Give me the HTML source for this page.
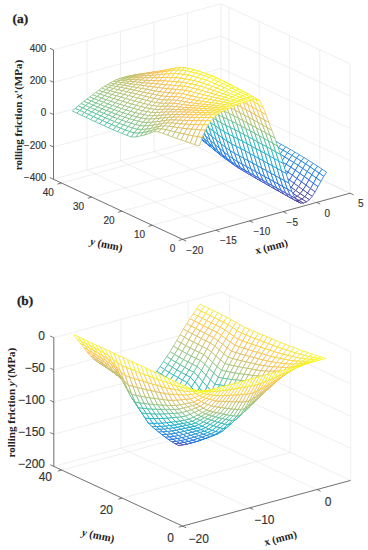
<!DOCTYPE html>
<html><head><meta charset="utf-8"><style>
html,body{margin:0;padding:0;background:#fff;width:368px;height:550px;overflow:hidden}
svg{display:block}
.t{font-family:"Liberation Sans",sans-serif;font-size:10px;fill:#333;stroke:#333;stroke-width:0.15px}
.s{font-family:"Liberation Serif",serif;font-weight:bold;fill:#222}
</style></head><body>
<svg width="368" height="550" viewBox="0 0 368 550">
<path d="M182.6 239.4L53.5 179.3M216.1 230.2L87 170.1M249.6 220.9L120.5 160.9M283.1 211.7L154 151.6M316.6 202.4L187.5 142.4M350.1 193.2L221 133.1M182.6 239.4L350.1 193.2M152.3 225.3L319.8 179.1M122 211.2L289.5 165M91.7 197.1L259.2 150.9M61.4 183L228.9 136.8M53.5 179.3L53.5 49.9M87 170.1L87 40.7M120.5 160.9L120.5 31.5M154 151.6L154 22.2M187.5 142.4L187.5 13M221 133.1L221 3.7M53.5 179.3L221 133.1M53.5 147L221 100.8M53.5 114.6L221 68.4M53.5 82.3L221 36.1M53.5 49.9L221 3.7M350.1 193.2L350.1 63.8M319.8 179.1L319.8 49.7M289.5 165L289.5 35.6M259.2 150.9L259.2 21.5M228.9 136.8L228.9 7.4M350.1 193.2L221 133.1M350.1 160.8L221 100.8M350.1 128.5L221 68.4M350.1 96.1L221 36.1M350.1 63.8L221 3.7" stroke="#e6e6e6" stroke-width="0.65" fill="none"/>
<path d="M182.6 526.1L53.8 466.4M249.8 507.8L121 448.1M317 489.5L188.2 429.9M182.6 526.1L350.6 480.4M122.1 498.1L290.1 452.4M61.7 470.1L229.7 424.4M53.8 466.4L53.8 337.7M121 448.1L121 319.4M188.2 429.9L188.2 301.2M53.8 466.4L221.8 420.7M53.8 434.2L221.8 388.5M53.8 402.1L221.8 356.4M53.8 369.9L221.8 324.2M53.8 337.7L221.8 292M350.6 480.4L350.6 351.7M290.1 452.4L290.1 323.7M229.7 424.4L229.7 295.7M350.6 480.4L221.8 420.7M350.6 448.2L221.8 388.5M350.6 416.1L221.8 356.4M350.6 383.9L221.8 324.2M350.6 351.7L221.8 292" stroke="#e6e6e6" stroke-width="0.65" fill="none"/>
<g fill="#fff" stroke-width="0.75" stroke-linejoin="round">
<path d="M201.3 106.9L204.2 104.4 199.7 102.3 196.8 104.8Z" stroke="#108ed2"/>
<path d="M198.4 110L201.3 106.9 196.8 104.8 193.9 107.9Z" stroke="#1389d2"/>
<path d="M195.5 113.4L198.4 110 193.9 107.9 191 111.3Z" stroke="#1484d3"/>
<path d="M192.7 116.9L195.5 113.4 191 111.3 188.1 114.8Z" stroke="#127cd7"/>
<path d="M189.8 120.3L192.7 116.9 188.1 114.8 185.2 118.1Z" stroke="#1078da"/>
<path d="M205.9 109.2L208.8 106.6 204.2 104.4 201.3 106.9Z" stroke="#108ed2"/>
<path d="M186.9 123.1L189.8 120.3 185.2 118.1 182.3 120.8Z" stroke="#0c74dc"/>
<path d="M203 112.3L205.9 109.2 201.3 106.9 198.4 110Z" stroke="#1389d2"/>
<path d="M184 124.8L186.9 123.1 182.3 120.8 179.4 122.3Z" stroke="#0870de"/>
<path d="M200.1 115.7L203 112.3 198.4 110 195.5 113.4Z" stroke="#1484d3"/>
<path d="M197.2 119.3L200.1 115.7 195.5 113.4 192.7 116.9Z" stroke="#127cd7"/>
<path d="M181.1 124.7L184 124.8 179.4 122.3 176.5 122.1Z" stroke="#0870de"/>
<path d="M194.3 122.7L197.2 119.3 192.7 116.9 189.8 120.3Z" stroke="#1078da"/>
<path d="M210.4 111.4L213.3 108.8 208.8 106.6 205.9 109.2Z" stroke="#108ed2"/>
<path d="M191.4 125.6L194.3 122.7 189.8 120.3 186.9 123.1Z" stroke="#0c74dc"/>
<path d="M207.5 114.6L210.4 111.4 205.9 109.2 203 112.3Z" stroke="#1389d2"/>
<path d="M178.2 122.9L181.1 124.7 176.5 122.1 173.7 120.2Z" stroke="#0c74dc"/>
<path d="M188.5 127.5L191.4 125.6 186.9 123.1 184 124.8Z" stroke="#0870de"/>
<path d="M204.6 118.1L207.5 114.6 203 112.3 200.1 115.7Z" stroke="#1484d3"/>
<path d="M201.7 121.7L204.6 118.1 200.1 115.7 197.2 119.3Z" stroke="#127cd7"/>
<path d="M185.6 127.6L188.5 127.5 184 124.8 181.1 124.7Z" stroke="#0870de"/>
<path d="M198.8 125.3L201.7 121.7 197.2 119.3 194.3 122.7Z" stroke="#1078da"/>
<path d="M175.3 119.6L178.2 122.9 173.7 120.2 170.8 117Z" stroke="#127cd7"/>
<path d="M214.9 113.7L217.8 111.1 213.3 108.8 210.4 111.4Z" stroke="#108ed2"/>
<path d="M195.9 128.3L198.8 125.3 194.3 122.7 191.4 125.6Z" stroke="#0870de"/>
<path d="M182.7 125.8L185.6 127.6 181.1 124.7 178.2 122.9Z" stroke="#0c74dc"/>
<path d="M212 116.9L214.9 113.7 210.4 111.4 207.5 114.6Z" stroke="#1389d2"/>
<path d="M193 130.3L195.9 128.3 191.4 125.6 188.5 127.5Z" stroke="#0870de"/>
<path d="M209.2 120.5L212 116.9 207.5 114.6 204.6 118.1Z" stroke="#1380d5"/>
<path d="M172.4 115.5L175.3 119.6 170.8 117 167.9 113.2Z" stroke="#1484d3"/>
<path d="M206.3 124.2L209.2 120.5 204.6 118.1 201.7 121.7Z" stroke="#127cd7"/>
<path d="M190.2 130.6L193 130.3 188.5 127.5 185.6 127.6Z" stroke="#046ce0"/>
<path d="M203.4 127.8L206.3 124.2 201.7 121.7 198.8 125.3Z" stroke="#1078da"/>
<path d="M179.8 122.4L182.7 125.8 178.2 122.9 175.3 119.6Z" stroke="#1078da"/>
<path d="M219.5 116L222.4 113.3 217.8 111.1 214.9 113.7Z" stroke="#108ed2"/>
<path d="M200.5 131L203.4 127.8 198.8 125.3 195.9 128.3Z" stroke="#0870de"/>
<path d="M187.3 128.9L190.2 130.6 185.6 127.6 182.7 125.8Z" stroke="#0870de"/>
<path d="M216.6 119.3L219.5 116 214.9 113.7 212 116.9Z" stroke="#1389d2"/>
<path d="M197.6 133.2L200.5 131 195.9 128.3 193 130.3Z" stroke="#046ce0"/>
<path d="M169.5 111.3L172.4 115.5 167.9 113.2 165 109.3Z" stroke="#0c93d1"/>
<path d="M213.7 122.9L216.6 119.3 212 116.9 209.2 120.5Z" stroke="#1380d5"/>
<path d="M176.9 118.1L179.8 122.4 175.3 119.6 172.4 115.5Z" stroke="#1484d3"/>
<path d="M210.8 126.7L213.7 122.9 209.2 120.5 206.3 124.2Z" stroke="#127cd7"/>
<path d="M194.7 133.7L197.6 133.2 193 130.3 190.2 130.6Z" stroke="#046ce0"/>
<path d="M207.9 130.4L210.8 126.7 206.3 124.2 203.4 127.8Z" stroke="#0c74dc"/>
<path d="M184.4 125.4L187.3 128.9 182.7 125.8 179.8 122.4Z" stroke="#1078da"/>
<path d="M205 133.7L207.9 130.4 203.4 127.8 200.5 131Z" stroke="#0870de"/>
<path d="M224 118.3L226.9 115.6 222.4 113.3 219.5 116Z" stroke="#108ed2"/>
<path d="M166.6 107.3L169.5 111.3 165 109.3 162.1 105.6Z" stroke="#069ccf"/>
<path d="M191.8 132.1L194.7 133.7 190.2 130.6 187.3 128.9Z" stroke="#0870de"/>
<path d="M221.1 121.6L224 118.3 219.5 116 216.6 119.3Z" stroke="#1389d2"/>
<path d="M202.1 136.1L205 133.7 200.5 131 197.6 133.2Z" stroke="#046ce0"/>
<path d="M174 113.6L176.9 118.1 172.4 115.5 169.5 111.3Z" stroke="#0c93d1"/>
<path d="M218.2 125.3L221.1 121.6 216.6 119.3 213.7 122.9Z" stroke="#1380d5"/>
<path d="M181.5 120.8L184.4 125.4 179.8 122.4 176.9 118.1Z" stroke="#1484d3"/>
<path d="M199.2 136.9L202.1 136.1 197.6 133.2 194.7 133.7Z" stroke="#0168e1"/>
<path d="M215.3 129.2L218.2 125.3 213.7 122.9 210.8 126.7Z" stroke="#127cd7"/>
<path d="M163.7 103.5L166.6 107.3 162.1 105.6 159.2 102.1Z" stroke="#05a6c6"/>
<path d="M188.9 128.6L191.8 132.1 187.3 128.9 184.4 125.4Z" stroke="#1078da"/>
<path d="M212.4 133L215.3 129.2 210.8 126.7 207.9 130.4Z" stroke="#0c74dc"/>
<path d="M209.5 136.4L212.4 133 207.9 130.4 205 133.7Z" stroke="#0870de"/>
<path d="M228.5 120.7L231.4 117.9 226.9 115.6 224 118.3Z" stroke="#108ed2"/>
<path d="M171.1 109.2L174 113.6 169.5 111.3 166.6 107.3Z" stroke="#069ccf"/>
<path d="M196.3 135.4L199.2 136.9 194.7 133.7 191.8 132.1Z" stroke="#046ce0"/>
<path d="M206.6 139L209.5 136.4 205 133.7 202.1 136.1Z" stroke="#0168e1"/>
<path d="M225.6 124L228.5 120.7 224 118.3 221.1 121.6Z" stroke="#1484d3"/>
<path d="M178.6 116L181.5 120.8 176.9 118.1 174 113.6Z" stroke="#108ed2"/>
<path d="M222.8 127.8L225.6 124 221.1 121.6 218.2 125.3Z" stroke="#1380d5"/>
<path d="M160.8 100L163.7 103.5 159.2 102.1 156.3 98.9Z" stroke="#09abbd"/>
<path d="M186 123.8L188.9 128.6 184.4 125.4 181.5 120.8Z" stroke="#1380d5"/>
<path d="M203.8 140.1L206.6 139 202.1 136.1 199.2 136.9Z" stroke="#0168e1"/>
<path d="M219.9 131.7L222.8 127.8 218.2 125.3 215.3 129.2Z" stroke="#1078da"/>
<path d="M193.4 131.9L196.3 135.4 191.8 132.1 188.9 128.6Z" stroke="#0c74dc"/>
<path d="M217 135.6L219.9 131.7 215.3 129.2 212.4 133Z" stroke="#0c74dc"/>
<path d="M168.3 105L171.1 109.2 166.6 107.3 163.7 103.5Z" stroke="#05a6c6"/>
<path d="M214.1 139.2L217 135.6 212.4 133 209.5 136.4Z" stroke="#046ce0"/>
<path d="M200.9 139L203.8 140.1 199.2 136.9 196.3 135.4Z" stroke="#0168e1"/>
<path d="M233.1 123L236 120.3 231.4 117.9 228.5 120.7Z" stroke="#108ed2"/>
<path d="M175.7 111.2L178.6 116 174 113.6 171.1 109.2Z" stroke="#069ccf"/>
<path d="M157.9 96.6L160.8 100 156.3 98.9 153.4 95.8Z" stroke="#15b0b4"/>
<path d="M211.2 142L214.1 139.2 209.5 136.4 206.6 139Z" stroke="#0168e1"/>
<path d="M230.2 126.4L233.1 123 228.5 120.7 225.6 124Z" stroke="#1484d3"/>
<path d="M183.1 118.6L186 123.8 181.5 120.8 178.6 116Z" stroke="#108ed2"/>
<path d="M227.3 130.2L230.2 126.4 225.6 124 222.8 127.8Z" stroke="#1380d5"/>
<path d="M190.5 126.9L193.4 131.9 188.9 128.6 186 123.8Z" stroke="#1380d5"/>
<path d="M208.3 143.4L211.2 142 206.6 139 203.8 140.1Z" stroke="#0262e0"/>
<path d="M165.4 101.2L168.3 105 163.7 103.5 160.8 100Z" stroke="#09abbd"/>
<path d="M224.4 134.2L227.3 130.2 222.8 127.8 219.9 131.7Z" stroke="#1078da"/>
<path d="M198 135.6L200.9 139 196.3 135.4 193.4 131.9Z" stroke="#0870de"/>
<path d="M221.5 138.2L224.4 134.2 219.9 131.7 217 135.6Z" stroke="#0c74dc"/>
<path d="M155 93.4L157.9 96.6 153.4 95.8 150.5 92.8Z" stroke="#25b4a9"/>
<path d="M172.8 106.7L175.7 111.2 171.1 109.2 168.3 105Z" stroke="#05a6c6"/>
<path d="M205.4 142.6L208.3 143.4 203.8 140.1 200.9 139Z" stroke="#0168e1"/>
<path d="M218.6 141.9L221.5 138.2 217 135.6 214.1 139.2Z" stroke="#046ce0"/>
<path d="M237.6 125.4L240.5 122.6 236 120.3 233.1 123Z" stroke="#1389d2"/>
<path d="M180.2 113.4L183.1 118.6 178.6 116 175.7 111.2Z" stroke="#069ccf"/>
<path d="M215.7 144.9L218.6 141.9 214.1 139.2 211.2 142Z" stroke="#0168e1"/>
<path d="M162.5 97.6L165.4 101.2 160.8 100 157.9 96.6Z" stroke="#1cb2ae"/>
<path d="M234.7 128.9L237.6 125.4 233.1 123 230.2 126.4Z" stroke="#1484d3"/>
<path d="M187.6 121.4L190.5 126.9 186 123.8 183.1 118.6Z" stroke="#108ed2"/>
<path d="M195.1 130.5L198 135.6 193.4 131.9 190.5 126.9Z" stroke="#127cd7"/>
<path d="M231.8 132.7L234.7 128.9 230.2 126.4 227.3 130.2Z" stroke="#1380d5"/>
<path d="M212.8 146.6L215.7 144.9 211.2 142 208.3 143.4Z" stroke="#0262e0"/>
<path d="M152.1 90.2L155 93.4 150.5 92.8 147.6 89.9Z" stroke="#37b89d"/>
<path d="M202.5 139.5L205.4 142.6 200.9 139 198 135.6Z" stroke="#046ce0"/>
<path d="M169.9 102.5L172.8 106.7 168.3 105 165.4 101.2Z" stroke="#0faeb8"/>
<path d="M228.9 136.8L231.8 132.7 227.3 130.2 224.4 134.2Z" stroke="#1078da"/>
<path d="M226 140.8L228.9 136.8 224.4 134.2 221.5 138.2Z" stroke="#0870de"/>
<path d="M209.9 146.2L212.8 146.6 208.3 143.4 205.4 142.6Z" stroke="#0262e0"/>
<path d="M177.3 108.5L180.2 113.4 175.7 111.2 172.8 106.7Z" stroke="#05a6c6"/>
<path d="M159.6 94L162.5 97.6 157.9 96.6 155 93.4Z" stroke="#2db7a3"/>
<path d="M223.1 144.6L226 140.8 221.5 138.2 218.6 141.9Z" stroke="#046ce0"/>
<path d="M242.1 127.8L245 125 240.5 122.6 237.6 125.4Z" stroke="#1389d2"/>
<path d="M184.8 115.8L187.6 121.4 183.1 118.6 180.2 113.4Z" stroke="#069ccf"/>
<path d="M149.3 87L152.1 90.2 147.6 89.9 144.7 87Z" stroke="#4dbc91"/>
<path d="M220.2 147.8L223.1 144.6 218.6 141.9 215.7 144.9Z" stroke="#0262e0"/>
<path d="M192.2 124.6L195.1 130.5 190.5 126.9 187.6 121.4Z" stroke="#1389d2"/>
<path d="M239.2 131.3L242.1 127.8 237.6 125.4 234.7 128.9Z" stroke="#1484d3"/>
<path d="M199.6 134.4L202.5 139.5 198 135.6 195.1 130.5Z" stroke="#1078da"/>
<path d="M167 98.6L169.9 102.5 165.4 101.2 162.5 97.6Z" stroke="#1cb2ae"/>
<path d="M217.4 149.8L220.2 147.8 215.7 144.9 212.8 146.6Z" stroke="#0f5bdd"/>
<path d="M207 143.4L209.9 146.2 205.4 142.6 202.5 139.5Z" stroke="#0168e1"/>
<path d="M236.4 135.3L239.2 131.3 234.7 128.9 231.8 132.7Z" stroke="#127cd7"/>
<path d="M233.5 139.4L236.4 135.3 231.8 132.7 228.9 136.8Z" stroke="#1078da"/>
<path d="M156.7 90.6L159.6 94 155 93.4 152.1 90.2Z" stroke="#41ba97"/>
<path d="M174.4 104L177.3 108.5 172.8 106.7 169.9 102.5Z" stroke="#0faeb8"/>
<path d="M230.6 143.4L233.5 139.4 228.9 136.8 226 140.8Z" stroke="#0870de"/>
<path d="M214.5 149.8L217.4 149.8 212.8 146.6 209.9 146.2Z" stroke="#0f5bdd"/>
<path d="M146.4 83.9L149.3 87 144.7 87 141.8 84.1Z" stroke="#64be85"/>
<path d="M181.9 110.6L184.8 115.8 180.2 113.4 177.3 108.5Z" stroke="#05a6c6"/>
<path d="M227.7 147.3L230.6 143.4 226 140.8 223.1 144.6Z" stroke="#0168e1"/>
<path d="M164.1 94.8L167 98.6 162.5 97.6 159.6 94Z" stroke="#37b89d"/>
<path d="M246.7 130.3L249.6 127.3 245 125 242.1 127.8Z" stroke="#1389d2"/>
<path d="M189.3 118.6L192.2 124.6 187.6 121.4 184.8 115.8Z" stroke="#069ccf"/>
<path d="M224.8 150.7L227.7 147.3 223.1 144.6 220.2 147.8Z" stroke="#0262e0"/>
<path d="M196.7 128.2L199.6 134.4 195.1 130.5 192.2 124.6Z" stroke="#1484d3"/>
<path d="M204.1 138.4L207 143.4 202.5 139.5 199.6 134.4Z" stroke="#0c74dc"/>
<path d="M243.8 133.8L246.7 130.3 242.1 127.8 239.2 131.3Z" stroke="#1484d3"/>
<path d="M153.8 87.2L156.7 90.6 152.1 90.2 149.3 87Z" stroke="#58bd8b"/>
<path d="M211.6 147.4L214.5 149.8 209.9 146.2 207 143.4Z" stroke="#0168e1"/>
<path d="M221.9 152.9L224.8 150.7 220.2 147.8 217.4 149.8Z" stroke="#0f5bdd"/>
<path d="M171.5 99.8L174.4 104 169.9 102.5 167 98.6Z" stroke="#25b4a9"/>
<path d="M240.9 137.8L243.8 133.8 239.2 131.3 236.4 135.3Z" stroke="#127cd7"/>
<path d="M143.5 80.8L146.4 83.9 141.8 84.1 138.9 81.2Z" stroke="#7cbf7b"/>
<path d="M238 142L240.9 137.8 236.4 135.3 233.5 139.4Z" stroke="#1078da"/>
<path d="M179 105.7L181.9 110.6 177.3 108.5 174.4 104Z" stroke="#0faeb8"/>
<path d="M219 153.3L221.9 152.9 217.4 149.8 214.5 149.8Z" stroke="#0f5bdd"/>
<path d="M235.1 146.1L238 142 233.5 139.4 230.6 143.4Z" stroke="#0870de"/>
<path d="M161.2 91.1L164.1 94.8 159.6 94 156.7 90.6Z" stroke="#4dbc91"/>
<path d="M232.2 150.1L235.1 146.1 230.6 143.4 227.7 147.3Z" stroke="#0168e1"/>
<path d="M186.4 112.9L189.3 118.6 184.8 115.8 181.9 110.6Z" stroke="#05a6c6"/>
<path d="M150.9 83.8L153.8 87.2 149.3 87 146.4 83.9Z" stroke="#70be80"/>
<path d="M193.8 121.8L196.7 128.2 192.2 124.6 189.3 118.6Z" stroke="#0898d1"/>
<path d="M201.2 132L204.1 138.4 199.6 134.4 196.7 128.2Z" stroke="#1380d5"/>
<path d="M251.2 132.7L254.1 129.7 249.6 127.3 246.7 130.3Z" stroke="#1389d2"/>
<path d="M208.7 142.6L211.6 147.4 207 143.4 204.1 138.4Z" stroke="#0870de"/>
<path d="M229.3 153.5L232.2 150.1 227.7 147.3 224.8 150.7Z" stroke="#0262e0"/>
<path d="M140.6 77.7L143.5 80.8 138.9 81.2 136 78.4Z" stroke="#91be72"/>
<path d="M168.6 95.7L171.5 99.8 167 98.6 164.1 94.8Z" stroke="#37b89d"/>
<path d="M216.1 151.3L219 153.3 214.5 149.8 211.6 147.4Z" stroke="#0262e0"/>
<path d="M248.3 136.3L251.2 132.7 246.7 130.3 243.8 133.8Z" stroke="#1484d3"/>
<path d="M226.4 156L229.3 153.5 224.8 150.7 221.9 152.9Z" stroke="#1f52d3"/>
<path d="M245.4 140.3L248.3 136.3 243.8 133.8 240.9 137.8Z" stroke="#127cd7"/>
<path d="M158.3 87.4L161.2 91.1 156.7 90.6 153.8 87.2Z" stroke="#64be85"/>
<path d="M176.1 101.1L179 105.7 174.4 104 171.5 99.8Z" stroke="#25b4a9"/>
<path d="M242.5 144.6L245.4 140.3 240.9 137.8 238 142Z" stroke="#0c74dc"/>
<path d="M148 80.4L150.9 83.8 146.4 83.9 143.5 80.8Z" stroke="#91be72"/>
<path d="M223.5 156.7L226.4 156 221.9 152.9 219 153.3Z" stroke="#1f52d3"/>
<path d="M239.6 148.8L242.5 144.6 238 142 235.1 146.1Z" stroke="#0870de"/>
<path d="M183.5 107.6L186.4 112.9 181.9 110.6 179 105.7Z" stroke="#0faeb8"/>
<path d="M137.7 75.5L140.6 77.7 136 78.4 133.1 76.3Z" stroke="#a5be6a"/>
<path d="M165.8 91.7L168.6 95.7 164.1 94.8 161.2 91.1Z" stroke="#58bd8b"/>
<path d="M236.7 152.8L239.6 148.8 235.1 146.1 232.2 150.1Z" stroke="#0168e1"/>
<path d="M190.9 115.5L193.8 121.8 189.3 118.6 186.4 112.9Z" stroke="#05a6c6"/>
<path d="M205.8 136.1L208.7 142.6 204.1 138.4 201.2 132Z" stroke="#127cd7"/>
<path d="M198.4 125.1L201.2 132 196.7 128.2 193.8 121.8Z" stroke="#0c93d1"/>
<path d="M213.2 146.8L216.1 151.3 211.6 147.4 208.7 142.6Z" stroke="#046ce0"/>
<path d="M255.7 135.1L258.6 132.1 254.1 129.7 251.2 132.7Z" stroke="#1389d2"/>
<path d="M233.9 156.4L236.7 152.8 232.2 150.1 229.3 153.5Z" stroke="#0f5bdd"/>
<path d="M155.4 83.7L158.3 87.4 153.8 87.2 150.9 83.8Z" stroke="#7cbf7b"/>
<path d="M220.6 155.1L223.5 156.7 219 153.3 216.1 151.3Z" stroke="#0f5bdd"/>
<path d="M173.2 96.7L176.1 101.1 171.5 99.8 168.6 95.7Z" stroke="#41ba97"/>
<path d="M252.9 138.8L255.7 135.1 251.2 132.7 248.3 136.3Z" stroke="#1380d5"/>
<path d="M134.8 75L137.7 75.5 133.1 76.3 130.3 75.9Z" stroke="#aebd67"/>
<path d="M231 158.9L233.9 156.4 229.3 153.5 226.4 156Z" stroke="#1f52d3"/>
<path d="M145.1 77.1L148 80.4 143.5 80.8 140.6 77.7Z" stroke="#a5be6a"/>
<path d="M250 142.9L252.9 138.8 248.3 136.3 245.4 140.3Z" stroke="#127cd7"/>
<path d="M180.6 102.6L183.5 107.6 179 105.7 176.1 101.1Z" stroke="#25b4a9"/>
<path d="M247.1 147.2L250 142.9 245.4 140.3 242.5 144.6Z" stroke="#0c74dc"/>
<path d="M162.9 87.7L165.8 91.7 161.2 91.1 158.3 87.4Z" stroke="#70be80"/>
<path d="M228.1 159.9L231 158.9 226.4 156 223.5 156.7Z" stroke="#1f52d3"/>
<path d="M244.2 151.5L247.1 147.2 242.5 144.6 239.6 148.8Z" stroke="#046ce0"/>
<path d="M131.9 75.8L134.8 75 130.3 75.9 127.4 76.4Z" stroke="#b7bc63"/>
<path d="M188 109.7L190.9 115.5 186.4 112.9 183.5 107.6Z" stroke="#0faeb8"/>
<path d="M210.3 140.2L213.2 146.8 208.7 142.6 205.8 136.1Z" stroke="#1078da"/>
<path d="M217.7 150.8L220.6 155.1 216.1 151.3 213.2 146.8Z" stroke="#0168e1"/>
<path d="M202.9 128.8L205.8 136.1 201.2 132 198.4 125.1Z" stroke="#108ed2"/>
<path d="M152.5 80.1L155.4 83.7 150.9 83.8 148 80.4Z" stroke="#9bbe6e"/>
<path d="M195.5 118.3L198.4 125.1 193.8 121.8 190.9 115.5Z" stroke="#05a3c9"/>
<path d="M241.3 155.6L244.2 151.5 239.6 148.8 236.7 152.8Z" stroke="#0262e0"/>
<path d="M142.2 74.7L145.1 77.1 140.6 77.7 137.7 75.5Z" stroke="#b7bc63"/>
<path d="M170.3 92.4L173.2 96.7 168.6 95.7 165.8 91.7Z" stroke="#58bd8b"/>
<path d="M238.4 159.2L241.3 155.6 236.7 152.8 233.9 156.4Z" stroke="#0f5bdd"/>
<path d="M260.3 137.6L263.2 134.5 258.6 132.1 255.7 135.1Z" stroke="#1389d2"/>
<path d="M225.2 158.5L228.1 159.9 223.5 156.7 220.6 155.1Z" stroke="#1f52d3"/>
<path d="M129 76.9L131.9 75.8 127.4 76.4 124.5 77.2Z" stroke="#b7bc63"/>
<path d="M257.4 141.3L260.3 137.6 255.7 135.1 252.9 138.8Z" stroke="#1380d5"/>
<path d="M235.5 161.8L238.4 159.2 233.9 156.4 231 158.9Z" stroke="#1f52d3"/>
<path d="M160 83.8L162.9 87.7 158.3 87.4 155.4 83.7Z" stroke="#91be72"/>
<path d="M177.7 97.9L180.6 102.6 176.1 101.1 173.2 96.7Z" stroke="#41ba97"/>
<path d="M254.5 145.4L257.4 141.3 252.9 138.8 250 142.9Z" stroke="#127cd7"/>
<path d="M126.1 78L129 76.9 124.5 77.2 121.6 78Z" stroke="#aebd67"/>
<path d="M139.3 74.2L142.2 74.7 137.7 75.5 134.8 75Z" stroke="#bfbc60"/>
<path d="M149.6 76.6L152.5 80.1 148 80.4 145.1 77.1Z" stroke="#aebd67"/>
<path d="M251.6 149.7L254.5 145.4 250 142.9 247.1 147.2Z" stroke="#0c74dc"/>
<path d="M232.6 162.9L235.5 161.8 231 158.9 228.1 159.9Z" stroke="#2b4ac6"/>
<path d="M185.1 104.3L188 109.7 183.5 107.6 180.6 102.6Z" stroke="#25b4a9"/>
<path d="M214.9 144.3L217.7 150.8 213.2 146.8 210.3 140.2Z" stroke="#0c74dc"/>
<path d="M248.7 154.1L251.6 149.7 247.1 147.2 244.2 151.5Z" stroke="#046ce0"/>
<path d="M167.4 88.1L170.3 92.4 165.8 91.7 162.9 87.7Z" stroke="#7cbf7b"/>
<path d="M222.3 154.5L225.2 158.5 220.6 155.1 217.7 150.8Z" stroke="#0262e0"/>
<path d="M207.4 132.6L210.3 140.2 205.8 136.1 202.9 128.8Z" stroke="#1389d2"/>
<path d="M192.6 112L195.5 118.3 190.9 115.5 188 109.7Z" stroke="#0faeb8"/>
<path d="M200 121.4L202.9 128.8 198.4 125.1 195.5 118.3Z" stroke="#05a3c9"/>
<path d="M245.8 158.2L248.7 154.1 244.2 151.5 241.3 155.6Z" stroke="#0262e0"/>
<path d="M123.2 79.2L126.1 78 121.6 78 118.7 78.9Z" stroke="#aebd67"/>
<path d="M136.4 75.2L139.3 74.2 134.8 75 131.9 75.8Z" stroke="#bfbc60"/>
<path d="M242.9 161.9L245.8 158.2 241.3 155.6 238.4 159.2Z" stroke="#0f5bdd"/>
<path d="M229.7 161.8L232.6 162.9 228.1 159.9 225.2 158.5Z" stroke="#1f52d3"/>
<path d="M157.1 79.9L160 83.8 155.4 83.7 152.5 80.1Z" stroke="#a5be6a"/>
<path d="M264.8 140L267.7 137 263.2 134.5 260.3 137.6Z" stroke="#1484d3"/>
<path d="M174.8 93.3L177.7 97.9 173.2 96.7 170.3 92.4Z" stroke="#64be85"/>
<path d="M146.8 73.9L149.6 76.6 145.1 77.1 142.2 74.7Z" stroke="#bfbc60"/>
<path d="M240 164.7L242.9 161.9 238.4 159.2 235.5 161.8Z" stroke="#2b4ac6"/>
<path d="M120.3 80.5L123.2 79.2 118.7 78.9 115.8 80Z" stroke="#aebd67"/>
<path d="M261.9 143.8L264.8 140 260.3 137.6 257.4 141.3Z" stroke="#1380d5"/>
<path d="M133.5 76.5L136.4 75.2 131.9 75.8 129 76.9Z" stroke="#bfbc60"/>
<path d="M182.2 99.2L185.1 104.3 180.6 102.6 177.7 97.9Z" stroke="#4dbc91"/>
<path d="M259 148L261.9 143.8 257.4 141.3 254.5 145.4Z" stroke="#1078da"/>
<path d="M164.5 83.9L167.4 88.1 162.9 87.7 160 83.8Z" stroke="#9bbe6e"/>
<path d="M237.1 165.9L240 164.7 235.5 161.8 232.6 162.9Z" stroke="#2b4ac6"/>
<path d="M256.1 152.4L259 148 254.5 145.4 251.6 149.7Z" stroke="#0c74dc"/>
<path d="M219.4 148.1L222.3 154.5 217.7 150.8 214.9 144.3Z" stroke="#0870de"/>
<path d="M117.4 82L120.3 80.5 115.8 80 112.9 81.4Z" stroke="#aebd67"/>
<path d="M189.7 106.1L192.6 112 188 109.7 185.1 104.3Z" stroke="#25b4a9"/>
<path d="M212 136.4L214.9 144.3 210.3 140.2 207.4 132.6Z" stroke="#1484d3"/>
<path d="M226.8 158.1L229.7 161.8 225.2 158.5 222.3 154.5Z" stroke="#0f5bdd"/>
<path d="M130.6 78L133.5 76.5 129 76.9 126.1 78Z" stroke="#bfbc60"/>
<path d="M253.2 156.8L256.1 152.4 251.6 149.7 248.7 154.1Z" stroke="#046ce0"/>
<path d="M204.5 124.6L207.4 132.6 202.9 128.8 200 121.4Z" stroke="#06a0cc"/>
<path d="M197.1 114.4L200 121.4 195.5 118.3 192.6 112Z" stroke="#0faeb8"/>
<path d="M154.2 76L157.1 79.9 152.5 80.1 149.6 76.6Z" stroke="#b7bc63"/>
<path d="M143.9 73.5L146.8 73.9 142.2 74.7 139.3 74.2Z" stroke="#c8bb5c"/>
<path d="M250.3 161L253.2 156.8 248.7 154.1 245.8 158.2Z" stroke="#0262e0"/>
<path d="M171.9 88.7L174.8 93.3 170.3 92.4 167.4 88.1Z" stroke="#87bf76"/>
<path d="M114.5 83.8L117.4 82 112.9 81.4 110 83Z" stroke="#a5be6a"/>
<path d="M234.2 165.1L237.1 165.9 232.6 162.9 229.7 161.8Z" stroke="#2b4ac6"/>
<path d="M247.5 164.7L250.3 161 245.8 158.2 242.9 161.9Z" stroke="#1f52d3"/>
<path d="M127.8 79.4L130.6 78 126.1 78 123.2 79.2Z" stroke="#b7bc63"/>
<path d="M269.3 142.6L272.2 139.4 267.7 137 264.8 140Z" stroke="#1484d3"/>
<path d="M141 74.6L143.9 73.5 139.3 74.2 136.4 75.2Z" stroke="#d0ba59"/>
<path d="M179.4 94.2L182.2 99.2 177.7 97.9 174.8 93.3Z" stroke="#70be80"/>
<path d="M244.6 167.5L247.5 164.7 242.9 161.9 240 164.7Z" stroke="#2b4ac6"/>
<path d="M161.6 79.7L164.5 83.9 160 83.8 157.1 79.9Z" stroke="#aebd67"/>
<path d="M266.5 146.4L269.3 142.6 264.8 140 261.9 143.8Z" stroke="#1380d5"/>
<path d="M111.6 85.6L114.5 83.8 110 83 107.1 84.7Z" stroke="#a5be6a"/>
<path d="M124.9 81L127.8 79.4 123.2 79.2 120.3 80.5Z" stroke="#b7bc63"/>
<path d="M263.6 150.7L266.5 146.4 261.9 143.8 259 148Z" stroke="#1078da"/>
<path d="M151.3 73.2L154.2 76 149.6 76.6 146.8 73.9Z" stroke="#c8bb5c"/>
<path d="M186.8 100.5L189.7 106.1 185.1 104.3 182.2 99.2Z" stroke="#4dbc91"/>
<path d="M223.9 151.8L226.8 158.1 222.3 154.5 219.4 148.1Z" stroke="#046ce0"/>
<path d="M241.7 168.8L244.6 167.5 240 164.7 237.1 165.9Z" stroke="#3143b9"/>
<path d="M216.5 140L219.4 148.1 214.9 144.3 212 136.4Z" stroke="#1484d3"/>
<path d="M138.1 76.2L141 74.6 136.4 75.2 133.5 76.5Z" stroke="#c8bb5c"/>
<path d="M260.7 155.2L263.6 150.7 259 148 256.1 152.4Z" stroke="#0870de"/>
<path d="M108.8 87.5L111.6 85.6 107.1 84.7 104.2 86.4Z" stroke="#9bbe6e"/>
<path d="M231.3 161.5L234.2 165.1 229.7 161.8 226.8 158.1Z" stroke="#0f5bdd"/>
<path d="M169 84.2L171.9 88.7 167.4 88.1 164.5 83.9Z" stroke="#9bbe6e"/>
<path d="M194.2 108L197.1 114.4 192.6 112 189.7 106.1Z" stroke="#25b4a9"/>
<path d="M209.1 128L212 136.4 207.4 132.6 204.5 124.6Z" stroke="#069ccf"/>
<path d="M257.8 159.6L260.7 155.2 256.1 152.4 253.2 156.8Z" stroke="#0168e1"/>
<path d="M201.6 117.1L204.5 124.6 200 121.4 197.1 114.4Z" stroke="#09abbd"/>
<path d="M122 82.7L124.9 81 120.3 80.5 117.4 82Z" stroke="#b7bc63"/>
<path d="M254.9 163.9L257.8 159.6 253.2 156.8 250.3 161Z" stroke="#0f5bdd"/>
<path d="M135.2 77.9L138.1 76.2 133.5 76.5 130.6 78Z" stroke="#c8bb5c"/>
<path d="M105.9 89.6L108.8 87.5 104.2 86.4 101.3 88.3Z" stroke="#9bbe6e"/>
<path d="M238.8 168.1L241.7 168.8 237.1 165.9 234.2 165.1Z" stroke="#2b4ac6"/>
<path d="M158.7 75.6L161.6 79.7 157.1 79.9 154.2 76Z" stroke="#c8bb5c"/>
<path d="M252 167.6L254.9 163.9 250.3 161 247.5 164.7Z" stroke="#1f52d3"/>
<path d="M148.4 72.8L151.3 73.2 146.8 73.9 143.9 73.5Z" stroke="#d8ba55"/>
<path d="M176.5 89.3L179.4 94.2 174.8 93.3 171.9 88.7Z" stroke="#87bf76"/>
<path d="M273.9 145.1L276.8 141.9 272.2 139.4 269.3 142.6Z" stroke="#1484d3"/>
<path d="M119.1 84.6L122 82.7 117.4 82 114.5 83.8Z" stroke="#aebd67"/>
<path d="M103 91.8L105.9 89.6 101.3 88.3 98.4 90.4Z" stroke="#91be72"/>
<path d="M249.1 170.3L252 167.6 247.5 164.7 244.6 167.5Z" stroke="#2b4ac6"/>
<path d="M132.3 79.7L135.2 77.9 130.6 78 127.8 79.4Z" stroke="#bfbc60"/>
<path d="M271 149L273.9 145.1 269.3 142.6 266.5 146.4Z" stroke="#1380d5"/>
<path d="M183.9 95.1L186.8 100.5 182.2 99.2 179.4 94.2Z" stroke="#70be80"/>
<path d="M116.2 86.5L119.1 84.6 114.5 83.8 111.6 85.6Z" stroke="#aebd67"/>
<path d="M166.1 79.6L169 84.2 164.5 83.9 161.6 79.7Z" stroke="#b7bc63"/>
<path d="M268.1 153.4L271 149 266.5 146.4 263.6 150.7Z" stroke="#1078da"/>
<path d="M228.5 155.4L231.3 161.5 226.8 158.1 223.9 151.8Z" stroke="#046ce0"/>
<path d="M145.5 74L148.4 72.8 143.9 73.5 141 74.6Z" stroke="#d8ba55"/>
<path d="M221 143.7L223.9 151.8 219.4 148.1 216.5 140Z" stroke="#1380d5"/>
<path d="M100.1 94.2L103 91.8 98.4 90.4 95.5 92.6Z" stroke="#87bf76"/>
<path d="M246.2 171.6L249.1 170.3 244.6 167.5 241.7 168.8Z" stroke="#3143b9"/>
<path d="M265.2 158L268.1 153.4 263.6 150.7 260.7 155.2Z" stroke="#0870de"/>
<path d="M191.3 102L194.2 108 189.7 106.1 186.8 100.5Z" stroke="#4dbc91"/>
<path d="M235.9 164.7L238.8 168.1 234.2 165.1 231.3 161.5Z" stroke="#1f52d3"/>
<path d="M129.4 81.4L132.3 79.7 127.8 79.4 124.9 81Z" stroke="#bfbc60"/>
<path d="M213.6 131.2L216.5 140 212 136.4 209.1 128Z" stroke="#0898d1"/>
<path d="M155.8 72.6L158.7 75.6 154.2 76 151.3 73.2Z" stroke="#d8ba55"/>
<path d="M262.3 162.5L265.2 158 260.7 155.2 257.8 159.6Z" stroke="#0168e1"/>
<path d="M198.7 110.1L201.6 117.1 197.1 114.4 194.2 108Z" stroke="#25b4a9"/>
<path d="M206.2 119.9L209.1 128 204.5 124.6 201.6 117.1Z" stroke="#09abbd"/>
<path d="M113.3 88.6L116.2 86.5 111.6 85.6 108.8 87.5Z" stroke="#a5be6a"/>
<path d="M142.6 75.9L145.5 74 141 74.6 138.1 76.2Z" stroke="#d8ba55"/>
<path d="M97.2 96.5L100.1 94.2 95.5 92.6 92.6 94.8Z" stroke="#87bf76"/>
<path d="M173.6 84.4L176.5 89.3 171.9 88.7 169 84.2Z" stroke="#a5be6a"/>
<path d="M259.4 166.8L262.3 162.5 257.8 159.6 254.9 163.9Z" stroke="#0f5bdd"/>
<path d="M126.5 83.3L129.4 81.4 124.9 81 122 82.7Z" stroke="#bfbc60"/>
<path d="M243.3 170.9L246.2 171.6 241.7 168.8 238.8 168.1Z" stroke="#3143b9"/>
<path d="M256.5 170.5L259.4 166.8 254.9 163.9 252 167.6Z" stroke="#2b4ac6"/>
<path d="M110.4 90.8L113.3 88.6 108.8 87.5 105.9 89.6Z" stroke="#9bbe6e"/>
<path d="M94.3 98.8L97.2 96.5 92.6 94.8 89.8 97Z" stroke="#7cbf7b"/>
<path d="M278.4 147.6L281.3 144.4 276.8 141.9 273.9 145.1Z" stroke="#1484d3"/>
<path d="M139.7 77.9L142.6 75.9 138.1 76.2 135.2 77.9Z" stroke="#d0ba59"/>
<path d="M181 89.8L183.9 95.1 179.4 94.2 176.5 89.3Z" stroke="#91be72"/>
<path d="M163.2 75.2L166.1 79.6 161.6 79.7 158.7 75.6Z" stroke="#d0ba59"/>
<path d="M253.6 173.2L256.5 170.5 252 167.6 249.1 170.3Z" stroke="#3143b9"/>
<path d="M123.6 85.3L126.5 83.3 122 82.7 119.1 84.6Z" stroke="#b7bc63"/>
<path d="M152.9 72.1L155.8 72.6 151.3 73.2 148.4 72.8Z" stroke="#e1b952"/>
<path d="M275.5 151.6L278.4 147.6 273.9 145.1 271 149Z" stroke="#127cd7"/>
<path d="M107.5 93.2L110.4 90.8 105.9 89.6 103 91.8Z" stroke="#9bbe6e"/>
<path d="M91.4 101.1L94.3 98.8 89.8 97 86.9 99.2Z" stroke="#70be80"/>
<path d="M233 158.7L235.9 164.7 231.3 161.5 228.5 155.4Z" stroke="#0168e1"/>
<path d="M225.6 147.3L228.5 155.4 223.9 151.8 221 143.7Z" stroke="#127cd7"/>
<path d="M272.6 156.1L275.5 151.6 271 149 268.1 153.4Z" stroke="#1078da"/>
<path d="M136.8 79.9L139.7 77.9 135.2 77.9 132.3 79.7Z" stroke="#d0ba59"/>
<path d="M188.4 96.1L191.3 102 186.8 100.5 183.9 95.1Z" stroke="#7cbf7b"/>
<path d="M250.7 174.4L253.6 173.2 249.1 170.3 246.2 171.6Z" stroke="#353cac"/>
<path d="M120.7 87.4L123.6 85.3 119.1 84.6 116.2 86.5Z" stroke="#aebd67"/>
<path d="M269.7 160.7L272.6 156.1 268.1 153.4 265.2 158Z" stroke="#0870de"/>
<path d="M218.1 134.6L221 143.7 216.5 140 213.6 131.2Z" stroke="#0898d1"/>
<path d="M240.4 167.5L243.3 170.9 238.8 168.1 235.9 164.7Z" stroke="#1f52d3"/>
<path d="M104.6 95.7L107.5 93.2 103 91.8 100.1 94.2Z" stroke="#91be72"/>
<path d="M170.7 79.5L173.6 84.4 169 84.2 166.1 79.6Z" stroke="#bfbc60"/>
<path d="M195.9 103.6L198.7 110.1 194.2 108 191.3 102Z" stroke="#4dbc91"/>
<path d="M88.5 103.3L91.4 101.1 86.9 99.2 84 101.3Z" stroke="#64be85"/>
<path d="M266.8 165.4L269.7 160.7 265.2 158 262.3 162.5Z" stroke="#0168e1"/>
<path d="M150 73.5L152.9 72.1 148.4 72.8 145.5 74Z" stroke="#e1b952"/>
<path d="M210.7 122.7L213.6 131.2 209.1 128 206.2 119.9Z" stroke="#06a9c1"/>
<path d="M203.3 112.4L206.2 119.9 201.6 117.1 198.7 110.1Z" stroke="#25b4a9"/>
<path d="M133.9 81.9L136.8 79.9 132.3 79.7 129.4 81.4Z" stroke="#c8bb5c"/>
<path d="M263.9 169.7L266.8 165.4 262.3 162.5 259.4 166.8Z" stroke="#0f5bdd"/>
<path d="M117.8 89.7L120.7 87.4 116.2 86.5 113.3 88.6Z" stroke="#aebd67"/>
<path d="M101.7 98.2L104.6 95.7 100.1 94.2 97.2 96.5Z" stroke="#87bf76"/>
<path d="M160.4 72L163.2 75.2 158.7 75.6 155.8 72.6Z" stroke="#e1b952"/>
<path d="M247.8 173.5L250.7 174.4 246.2 171.6 243.3 170.9Z" stroke="#3143b9"/>
<path d="M85.6 105.6L88.5 103.3 84 101.3 81.1 103.6Z" stroke="#64be85"/>
<path d="M261.1 173.3L263.9 169.7 259.4 166.8 256.5 170.5Z" stroke="#2b4ac6"/>
<path d="M178.1 84.5L181 89.8 176.5 89.3 173.6 84.4Z" stroke="#aebd67"/>
<path d="M147.1 75.6L150 73.5 145.5 74 142.6 75.9Z" stroke="#e1b952"/>
<path d="M131 83.9L133.9 81.9 129.4 81.4 126.5 83.3Z" stroke="#bfbc60"/>
<path d="M282.9 150.2L285.8 146.9 281.3 144.4 278.4 147.6Z" stroke="#1484d3"/>
<path d="M114.9 92.1L117.8 89.7 113.3 88.6 110.4 90.8Z" stroke="#a5be6a"/>
<path d="M98.8 100.6L101.7 98.2 97.2 96.5 94.3 98.8Z" stroke="#7cbf7b"/>
<path d="M258.2 175.9L261.1 173.3 256.5 170.5 253.6 173.2Z" stroke="#3143b9"/>
<path d="M82.7 108L85.6 105.6 81.1 103.6 78.2 105.9Z" stroke="#58bd8b"/>
<path d="M280.1 154.2L282.9 150.2 278.4 147.6 275.5 151.6Z" stroke="#127cd7"/>
<path d="M185.5 90.4L188.4 96.1 183.9 95.1 181 89.8Z" stroke="#9bbe6e"/>
<path d="M144.2 77.9L147.1 75.6 142.6 75.9 139.7 77.9Z" stroke="#d8ba55"/>
<path d="M230.1 150.5L233 158.7 228.5 155.4 225.6 147.3Z" stroke="#1078da"/>
<path d="M237.5 161.5L240.4 167.5 235.9 164.7 233 158.7Z" stroke="#0168e1"/>
<path d="M128.1 86.1L131 83.9 126.5 83.3 123.6 85.3Z" stroke="#bfbc60"/>
<path d="M167.8 74.8L170.7 79.5 166.1 79.6 163.2 75.2Z" stroke="#d8ba55"/>
<path d="M112 94.6L114.9 92.1 110.4 90.8 107.5 93.2Z" stroke="#9bbe6e"/>
<path d="M277.2 158.8L280.1 154.2 275.5 151.6 272.6 156.1Z" stroke="#0c74dc"/>
<path d="M95.9 103L98.8 100.6 94.3 98.8 91.4 101.1Z" stroke="#70be80"/>
<path d="M222.7 138L225.6 147.3 221 143.7 218.1 134.6Z" stroke="#0c93d1"/>
<path d="M157.5 71.5L160.4 72 155.8 72.6 152.9 72.1Z" stroke="#f0b949"/>
<path d="M255.3 177.1L258.2 175.9 253.6 173.2 250.7 174.4Z" stroke="#353cac"/>
<path d="M79.8 110.5L82.7 108 78.2 105.9 75.3 108.4Z" stroke="#4dbc91"/>
<path d="M193 97.4L195.9 103.6 191.3 102 188.4 96.1Z" stroke="#7cbf7b"/>
<path d="M274.3 163.5L277.2 158.8 272.6 156.1 269.7 160.7Z" stroke="#046ce0"/>
<path d="M244.9 170.1L247.8 173.5 243.3 170.9 240.4 167.5Z" stroke="#2b4ac6"/>
<path d="M141.4 80.1L144.2 77.9 139.7 77.9 136.8 79.9Z" stroke="#d8ba55"/>
<path d="M215.2 125.7L218.1 134.6 213.6 131.2 210.7 122.7Z" stroke="#06a9c1"/>
<path d="M271.4 168.2L274.3 163.5 269.7 160.7 266.8 165.4Z" stroke="#0262e0"/>
<path d="M125.2 88.4L128.1 86.1 123.6 85.3 120.7 87.4Z" stroke="#b7bc63"/>
<path d="M200.4 105.5L203.3 112.4 198.7 110.1 195.9 103.6Z" stroke="#4dbc91"/>
<path d="M109.1 97.2L112 94.6 107.5 93.2 104.6 95.7Z" stroke="#91be72"/>
<path d="M93 105.3L95.9 103 91.4 101.1 88.5 103.3Z" stroke="#64be85"/>
<path d="M207.8 114.8L210.7 122.7 206.2 119.9 203.3 112.4Z" stroke="#25b4a9"/>
<path d="M76.9 113.2L79.8 110.5 75.3 108.4 72.4 111Z" stroke="#41ba97"/>
<path d="M268.5 172.5L271.4 168.2 266.8 165.4 263.9 169.7Z" stroke="#1f52d3"/>
<path d="M175.2 79.2L178.1 84.5 173.6 84.4 170.7 79.5Z" stroke="#c8bb5c"/>
<path d="M138.5 82.3L141.4 80.1 136.8 79.9 133.9 81.9Z" stroke="#d0ba59"/>
<path d="M154.6 73L157.5 71.5 152.9 72.1 150 73.5Z" stroke="#f0b949"/>
<path d="M252.4 176.2L255.3 177.1 250.7 174.4 247.8 173.5Z" stroke="#353cac"/>
<path d="M106.2 99.8L109.1 97.2 104.6 95.7 101.7 98.2Z" stroke="#87bf76"/>
<path d="M265.6 176.2L268.5 172.5 263.9 169.7 261.1 173.3Z" stroke="#2b4ac6"/>
<path d="M122.4 90.7L125.2 88.4 120.7 87.4 117.8 89.7Z" stroke="#aebd67"/>
<path d="M90.1 107.6L93 105.3 88.5 103.3 85.6 105.6Z" stroke="#64be85"/>
<path d="M287.5 152.8L290.4 149.5 285.8 146.9 282.9 150.2Z" stroke="#1380d5"/>
<path d="M164.9 71.3L167.8 74.8 163.2 75.2 160.4 72Z" stroke="#f0b949"/>
<path d="M182.6 84.7L185.5 90.4 181 89.8 178.1 84.5Z" stroke="#b7bc63"/>
<path d="M262.7 178.7L265.6 176.2 261.1 173.3 258.2 175.9Z" stroke="#353cac"/>
<path d="M135.6 84.6L138.5 82.3 133.9 81.9 131 83.9Z" stroke="#c8bb5c"/>
<path d="M103.4 102.3L106.2 99.8 101.7 98.2 98.8 100.6Z" stroke="#7cbf7b"/>
<path d="M151.7 75.4L154.6 73 150 73.5 147.1 75.6Z" stroke="#e9b94e"/>
<path d="M119.5 93.3L122.4 90.7 117.8 89.7 114.9 92.1Z" stroke="#a5be6a"/>
<path d="M87.2 110L90.1 107.6 85.6 105.6 82.7 108Z" stroke="#58bd8b"/>
<path d="M284.6 156.9L287.5 152.8 282.9 150.2 280.1 154.2Z" stroke="#127cd7"/>
<path d="M234.6 153.3L237.5 161.5 233 158.7 230.1 150.5Z" stroke="#1078da"/>
<path d="M242.1 164L244.9 170.1 240.4 167.5 237.5 161.5Z" stroke="#0262e0"/>
<path d="M190.1 91.2L193 97.4 188.4 96.1 185.5 90.4Z" stroke="#a5be6a"/>
<path d="M281.7 161.6L284.6 156.9 280.1 154.2 277.2 158.8Z" stroke="#0c74dc"/>
<path d="M227.2 141.1L230.1 150.5 225.6 147.3 222.7 138Z" stroke="#108ed2"/>
<path d="M100.5 104.7L103.4 102.3 98.8 100.6 95.9 103Z" stroke="#70be80"/>
<path d="M259.8 179.7L262.7 178.7 258.2 175.9 255.3 177.1Z" stroke="#353cac"/>
<path d="M116.6 95.9L119.5 93.3 114.9 92.1 112 94.6Z" stroke="#a5be6a"/>
<path d="M132.7 86.9L135.6 84.6 131 83.9 128.1 86.1Z" stroke="#bfbc60"/>
<path d="M148.8 77.9L151.7 75.4 147.1 75.6 144.2 77.9Z" stroke="#e1b952"/>
<path d="M278.8 166.4L281.7 161.6 277.2 158.8 274.3 163.5Z" stroke="#046ce0"/>
<path d="M249.5 172.7L252.4 176.2 247.8 173.5 244.9 170.1Z" stroke="#2b4ac6"/>
<path d="M84.4 112.6L87.2 110 82.7 108 79.8 110.5Z" stroke="#4dbc91"/>
<path d="M219.8 128.8L222.7 138 218.1 134.6 215.2 125.7Z" stroke="#05a6c6"/>
<path d="M197.5 98.8L200.4 105.5 195.9 103.6 193 97.4Z" stroke="#7cbf7b"/>
<path d="M172.3 74.2L175.2 79.2 170.7 79.5 167.8 74.8Z" stroke="#e1b952"/>
<path d="M275.9 171.1L278.8 166.4 274.3 163.5 271.4 168.2Z" stroke="#0262e0"/>
<path d="M204.9 107.5L207.8 114.8 203.3 112.4 200.4 105.5Z" stroke="#4dbc91"/>
<path d="M212.3 117.5L215.2 125.7 210.7 122.7 207.8 114.8Z" stroke="#25b4a9"/>
<path d="M162 70.7L164.9 71.3 160.4 72 157.5 71.5Z" stroke="#f8ba43"/>
<path d="M273 175.4L275.9 171.1 271.4 168.2 268.5 172.5Z" stroke="#1f52d3"/>
<path d="M113.7 98.6L116.6 95.9 112 94.6 109.1 97.2Z" stroke="#9bbe6e"/>
<path d="M97.6 107.1L100.5 104.7 95.9 103 93 105.3Z" stroke="#70be80"/>
<path d="M129.8 89.3L132.7 86.9 128.1 86.1 125.2 88.4Z" stroke="#bfbc60"/>
<path d="M145.9 80.4L148.8 77.9 144.2 77.9 141.4 80.1Z" stroke="#e1b952"/>
<path d="M81.5 115.3L84.4 112.6 79.8 110.5 76.9 113.2Z" stroke="#41ba97"/>
<path d="M270.1 179L273 175.4 268.5 172.5 265.6 176.2Z" stroke="#3143b9"/>
<path d="M256.9 178.8L259.8 179.7 255.3 177.1 252.4 176.2Z" stroke="#353cac"/>
<path d="M179.7 79.1L182.6 84.7 178.1 84.5 175.2 79.2Z" stroke="#d8ba55"/>
<path d="M110.8 101.3L113.7 98.6 109.1 97.2 106.2 99.8Z" stroke="#91be72"/>
<path d="M94.7 109.5L97.6 107.1 93 105.3 90.1 107.6Z" stroke="#64be85"/>
<path d="M126.9 91.8L129.8 89.3 125.2 88.4 122.4 90.7Z" stroke="#b7bc63"/>
<path d="M143 82.8L145.9 80.4 141.4 80.1 138.5 82.3Z" stroke="#d8ba55"/>
<path d="M292 155.5L294.9 152.1 290.4 149.5 287.5 152.8Z" stroke="#1380d5"/>
<path d="M159.1 72.4L162 70.7 157.5 71.5 154.6 73Z" stroke="#f8ba43"/>
<path d="M267.2 181.4L270.1 179 265.6 176.2 262.7 178.7Z" stroke="#353cac"/>
<path d="M289.1 159.7L292 155.5 287.5 152.8 284.6 156.9Z" stroke="#127cd7"/>
<path d="M107.9 103.9L110.8 101.3 106.2 99.8 103.4 102.3Z" stroke="#87bf76"/>
<path d="M187.2 85.1L190.1 91.2 185.5 90.4 182.6 84.7Z" stroke="#bfbc60"/>
<path d="M239.2 155.7L242.1 164 237.5 161.5 234.6 153.3Z" stroke="#0c74dc"/>
<path d="M91.8 112L94.7 109.5 90.1 107.6 87.2 110Z" stroke="#58bd8b"/>
<path d="M124 94.5L126.9 91.8 122.4 90.7 119.5 93.3Z" stroke="#aebd67"/>
<path d="M246.6 166.5L249.5 172.7 244.9 170.1 242.1 164Z" stroke="#0262e0"/>
<path d="M140.1 85.2L143 82.8 138.5 82.3 135.6 84.6Z" stroke="#d0ba59"/>
<path d="M169.4 70.4L172.3 74.2 167.8 74.8 164.9 71.3Z" stroke="#f8ba43"/>
<path d="M286.2 164.4L289.1 159.7 284.6 156.9 281.7 161.6Z" stroke="#0c74dc"/>
<path d="M231.7 143.8L234.6 153.3 230.1 150.5 227.2 141.1Z" stroke="#108ed2"/>
<path d="M156.2 75L159.1 72.4 154.6 73 151.7 75.4Z" stroke="#f8ba43"/>
<path d="M264.3 182.4L267.2 181.4 262.7 178.7 259.8 179.7Z" stroke="#353cac"/>
<path d="M283.3 169.3L286.2 164.4 281.7 161.6 278.8 166.4Z" stroke="#046ce0"/>
<path d="M194.6 92.3L197.5 98.8 193 97.4 190.1 91.2Z" stroke="#a5be6a"/>
<path d="M254 175.2L256.9 178.8 252.4 176.2 249.5 172.7Z" stroke="#2b4ac6"/>
<path d="M105 106.5L107.9 103.9 103.4 102.3 100.5 104.7Z" stroke="#7cbf7b"/>
<path d="M224.3 131.7L227.2 141.1 222.7 138 219.8 128.8Z" stroke="#05a6c6"/>
<path d="M88.9 114.6L91.8 112 87.2 110 84.4 112.6Z" stroke="#4dbc91"/>
<path d="M121.1 97.2L124 94.5 119.5 93.3 116.6 95.9Z" stroke="#a5be6a"/>
<path d="M280.4 174L283.3 169.3 278.8 166.4 275.9 171.1Z" stroke="#0f5bdd"/>
<path d="M137.2 87.7L140.1 85.2 135.6 84.6 132.7 86.9Z" stroke="#c8bb5c"/>
<path d="M202 100.5L204.9 107.5 200.4 105.5 197.5 98.8Z" stroke="#7cbf7b"/>
<path d="M216.9 120.3L219.8 128.8 215.2 125.7 212.3 117.5Z" stroke="#1cb2ae"/>
<path d="M153.3 77.8L156.2 75 151.7 75.4 148.8 77.9Z" stroke="#f0b949"/>
<path d="M209.5 109.9L212.3 117.5 207.8 114.8 204.9 107.5Z" stroke="#4dbc91"/>
<path d="M277.6 178.3L280.4 174 275.9 171.1 273 175.4Z" stroke="#2b4ac6"/>
<path d="M102.1 108.9L105 106.5 100.5 104.7 97.6 107.1Z" stroke="#70be80"/>
<path d="M176.9 73.6L179.7 79.1 175.2 79.2 172.3 74.2Z" stroke="#f0b949"/>
<path d="M86 117.4L88.9 114.6 84.4 112.6 81.5 115.3Z" stroke="#41ba97"/>
<path d="M118.2 100L121.1 97.2 116.6 95.9 113.7 98.6Z" stroke="#9bbe6e"/>
<path d="M274.7 181.8L277.6 178.3 273 175.4 270.1 179Z" stroke="#3143b9"/>
<path d="M134.3 90.2L137.2 87.7 132.7 86.9 129.8 89.3Z" stroke="#bfbc60"/>
<path d="M261.4 181.4L264.3 182.4 259.8 179.7 256.9 178.8Z" stroke="#353cac"/>
<path d="M150.4 80.5L153.3 77.8 148.8 77.9 145.9 80.4Z" stroke="#e9b94e"/>
<path d="M166.5 69.8L169.4 70.4 164.9 71.3 162 70.7Z" stroke="#fec337"/>
<path d="M296.6 158.2L299.4 154.8 294.9 152.1 292 155.5Z" stroke="#1380d5"/>
<path d="M99.2 111.4L102.1 108.9 97.6 107.1 94.7 109.5Z" stroke="#64be85"/>
<path d="M115.3 102.8L118.2 100 113.7 98.6 110.8 101.3Z" stroke="#91be72"/>
<path d="M271.8 184.2L274.7 181.8 270.1 179 267.2 181.4Z" stroke="#353cac"/>
<path d="M184.3 79.1L187.2 85.1 182.6 84.7 179.7 79.1Z" stroke="#e1b952"/>
<path d="M131.4 92.9L134.3 90.2 129.8 89.3 126.9 91.8Z" stroke="#b7bc63"/>
<path d="M147.5 83.2L150.4 80.5 145.9 80.4 143 82.8Z" stroke="#e1b952"/>
<path d="M293.7 162.5L296.6 158.2 292 155.5 289.1 159.7Z" stroke="#1078da"/>
<path d="M243.7 158.2L246.6 166.5 242.1 164 239.2 155.7Z" stroke="#0c74dc"/>
<path d="M251.1 169L254 175.2 249.5 172.7 246.6 166.5Z" stroke="#0262e0"/>
<path d="M112.4 105.5L115.3 102.8 110.8 101.3 107.9 103.9Z" stroke="#87bf76"/>
<path d="M96.3 114L99.2 111.4 94.7 109.5 91.8 112Z" stroke="#58bd8b"/>
<path d="M163.6 71.7L166.5 69.8 162 70.7 159.1 72.4Z" stroke="#fec337"/>
<path d="M290.8 167.2L293.7 162.5 289.1 159.7 286.2 164.4Z" stroke="#0870de"/>
<path d="M236.3 146.2L239.2 155.7 234.6 153.3 231.7 143.8Z" stroke="#108ed2"/>
<path d="M191.7 85.8L194.6 92.3 190.1 91.2 187.2 85.1Z" stroke="#c8bb5c"/>
<path d="M128.5 95.6L131.4 92.9 126.9 91.8 124 94.5Z" stroke="#aebd67"/>
<path d="M268.9 185L271.8 184.2 267.2 181.4 264.3 182.4Z" stroke="#36369f"/>
<path d="M287.9 172.2L290.8 167.2 286.2 164.4 283.3 169.3Z" stroke="#0168e1"/>
<path d="M144.6 85.8L147.5 83.2 143 82.8 140.1 85.2Z" stroke="#d8ba55"/>
<path d="M228.8 134.2L231.7 143.8 227.2 141.1 224.3 131.7Z" stroke="#05a3c9"/>
<path d="M258.6 177.8L261.4 181.4 256.9 178.8 254 175.2Z" stroke="#2b4ac6"/>
<path d="M285 176.9L287.9 172.2 283.3 169.3 280.4 174Z" stroke="#0f5bdd"/>
<path d="M199.1 93.7L202 100.5 197.5 98.8 194.6 92.3Z" stroke="#a5be6a"/>
<path d="M174 69.5L176.9 73.6 172.3 74.2 169.4 70.4Z" stroke="#fec337"/>
<path d="M109.5 108.1L112.4 105.5 107.9 103.9 105 106.5Z" stroke="#7cbf7b"/>
<path d="M93.4 116.7L96.3 114 91.8 112 88.9 114.6Z" stroke="#4dbc91"/>
<path d="M221.4 122.9L224.3 131.7 219.8 128.8 216.9 120.3Z" stroke="#1cb2ae"/>
<path d="M160.7 74.6L163.6 71.7 159.1 72.4 156.2 75Z" stroke="#fdbe3d"/>
<path d="M125.6 98.5L128.5 95.6 124 94.5 121.1 97.2Z" stroke="#a5be6a"/>
<path d="M206.6 102.6L209.5 109.9 204.9 107.5 202 100.5Z" stroke="#7cbf7b"/>
<path d="M282.1 181.2L285 176.9 280.4 174 277.6 178.3Z" stroke="#2b4ac6"/>
<path d="M214 112.4L216.9 120.3 212.3 117.5 209.5 109.9Z" stroke="#4dbc91"/>
<path d="M141.7 88.5L144.6 85.8 140.1 85.2 137.2 87.7Z" stroke="#d0ba59"/>
<path d="M106.6 110.7L109.5 108.1 105 106.5 102.1 108.9Z" stroke="#70be80"/>
<path d="M90.5 119.5L93.4 116.7 88.9 114.6 86 117.4Z" stroke="#41ba97"/>
<path d="M279.2 184.6L282.1 181.2 277.6 178.3 274.7 181.8Z" stroke="#353cac"/>
<path d="M157.9 77.7L160.7 74.6 156.2 75 153.3 77.8Z" stroke="#f8ba43"/>
<path d="M266 183.9L268.9 185 264.3 182.4 261.4 181.4Z" stroke="#353cac"/>
<path d="M122.7 101.4L125.6 98.5 121.1 97.2 118.2 100Z" stroke="#9bbe6e"/>
<path d="M138.9 91.2L141.7 88.5 137.2 87.7 134.3 90.2Z" stroke="#c8bb5c"/>
<path d="M181.4 73.2L184.3 79.1 179.7 79.1 176.9 73.6Z" stroke="#f8ba43"/>
<path d="M301.1 161.1L304 157.6 299.4 154.8 296.6 158.2Z" stroke="#127cd7"/>
<path d="M276.3 186.9L279.2 184.6 274.7 181.8 271.8 184.2Z" stroke="#36369f"/>
<path d="M103.7 113.3L106.6 110.7 102.1 108.9 99.2 111.4Z" stroke="#64be85"/>
<path d="M155 80.7L157.9 77.7 153.3 77.8 150.4 80.5Z" stroke="#f0b949"/>
<path d="M119.9 104.3L122.7 101.4 118.2 100 115.3 102.8Z" stroke="#91be72"/>
<path d="M171.1 68.9L174 69.5 169.4 70.4 166.5 69.8Z" stroke="#fdc832"/>
<path d="M298.2 165.4L301.1 161.1 296.6 158.2 293.7 162.5Z" stroke="#1078da"/>
<path d="M136 94L138.9 91.2 134.3 90.2 131.4 92.9Z" stroke="#bfbc60"/>
<path d="M248.2 160.6L251.1 169 246.6 166.5 243.7 158.2Z" stroke="#0c74dc"/>
<path d="M188.8 79.4L191.7 85.8 187.2 85.1 184.3 79.1Z" stroke="#e9b94e"/>
<path d="M255.7 171.5L258.6 177.8 254 175.2 251.1 169Z" stroke="#0262e0"/>
<path d="M295.3 170.2L298.2 165.4 293.7 162.5 290.8 167.2Z" stroke="#0870de"/>
<path d="M152.1 83.5L155 80.7 150.4 80.5 147.5 83.2Z" stroke="#e9b94e"/>
<path d="M100.9 115.9L103.7 113.3 99.2 111.4 96.3 114Z" stroke="#58bd8b"/>
<path d="M240.8 148.5L243.7 158.2 239.2 155.7 236.3 146.2Z" stroke="#1389d2"/>
<path d="M117 107.1L119.9 104.3 115.3 102.8 112.4 105.5Z" stroke="#87bf76"/>
<path d="M292.4 175.2L295.3 170.2 290.8 167.2 287.9 172.2Z" stroke="#0168e1"/>
<path d="M273.4 187.7L276.3 186.9 271.8 184.2 268.9 185Z" stroke="#36369f"/>
<path d="M196.2 86.9L199.1 93.7 194.6 92.3 191.7 85.8Z" stroke="#c8bb5c"/>
<path d="M133.1 96.8L136 94 131.4 92.9 128.5 95.6Z" stroke="#b7bc63"/>
<path d="M263.1 180.3L266 183.9 261.4 181.4 258.6 177.8Z" stroke="#3143b9"/>
<path d="M233.4 136.5L236.3 146.2 231.7 143.8 228.8 134.2Z" stroke="#05a3c9"/>
<path d="M289.5 180L292.4 175.2 287.9 172.2 285 176.9Z" stroke="#0f5bdd"/>
<path d="M168.2 71L171.1 68.9 166.5 69.8 163.6 71.7Z" stroke="#fdc832"/>
<path d="M149.2 86.4L152.1 83.5 147.5 83.2 144.6 85.8Z" stroke="#e1b952"/>
<path d="M225.9 125.3L228.8 134.2 224.3 131.7 221.4 122.9Z" stroke="#1cb2ae"/>
<path d="M203.7 95.5L206.6 102.6 202 100.5 199.1 93.7Z" stroke="#aebd67"/>
<path d="M98 118.7L100.9 115.9 96.3 114 93.4 116.7Z" stroke="#4dbc91"/>
<path d="M114.1 109.8L117 107.1 112.4 105.5 109.5 108.1Z" stroke="#7cbf7b"/>
<path d="M286.6 184.2L289.5 180 285 176.9 282.1 181.2Z" stroke="#2b4ac6"/>
<path d="M218.5 114.8L221.4 122.9 216.9 120.3 214 112.4Z" stroke="#4dbc91"/>
<path d="M211.1 104.9L214 112.4 209.5 109.9 206.6 102.6Z" stroke="#7cbf7b"/>
<path d="M130.2 99.8L133.1 96.8 128.5 95.6 125.6 98.5Z" stroke="#aebd67"/>
<path d="M178.5 68.8L181.4 73.2 176.9 73.6 174 69.5Z" stroke="#fdc832"/>
<path d="M283.7 187.5L286.6 184.2 282.1 181.2 279.2 184.6Z" stroke="#353cac"/>
<path d="M165.3 74.1L168.2 71 163.6 71.7 160.7 74.6Z" stroke="#fec337"/>
<path d="M146.3 89.3L149.2 86.4 144.6 85.8 141.7 88.5Z" stroke="#d8ba55"/>
<path d="M95.1 121.6L98 118.7 93.4 116.7 90.5 119.5Z" stroke="#41ba97"/>
<path d="M270.5 186.5L273.4 187.7 268.9 185 266 183.9Z" stroke="#36369f"/>
<path d="M111.2 112.4L114.1 109.8 109.5 108.1 106.6 110.7Z" stroke="#70be80"/>
<path d="M127.3 102.7L130.2 99.8 125.6 98.5 122.7 101.4Z" stroke="#a5be6a"/>
<path d="M305.6 164L308.5 160.4 304 157.6 301.1 161.1Z" stroke="#127cd7"/>
<path d="M280.8 189.6L283.7 187.5 279.2 184.6 276.3 186.9Z" stroke="#36369f"/>
<path d="M162.4 77.5L165.3 74.1 160.7 74.6 157.9 77.7Z" stroke="#fdbe3d"/>
<path d="M143.4 92.2L146.3 89.3 141.7 88.5 138.9 91.2Z" stroke="#d0ba59"/>
<path d="M108.3 115.1L111.2 112.4 106.6 110.7 103.7 113.3Z" stroke="#64be85"/>
<path d="M302.7 168.5L305.6 164 301.1 161.1 298.2 165.4Z" stroke="#0c74dc"/>
<path d="M185.9 73.2L188.8 79.4 184.3 79.1 181.4 73.2Z" stroke="#fdbe3d"/>
<path d="M124.4 105.7L127.3 102.7 122.7 101.4 119.9 104.3Z" stroke="#9bbe6e"/>
<path d="M299.8 173.5L302.7 168.5 298.2 165.4 295.3 170.2Z" stroke="#046ce0"/>
<path d="M252.8 163.1L255.7 171.5 251.1 169 248.2 160.6Z" stroke="#0c74dc"/>
<path d="M159.5 80.8L162.4 77.5 157.9 77.7 155 80.7Z" stroke="#f8ba43"/>
<path d="M260.2 174L263.1 180.3 258.6 177.8 255.7 171.5Z" stroke="#0f5bdd"/>
<path d="M140.5 95.1L143.4 92.2 138.9 91.2 136 94Z" stroke="#c8bb5c"/>
<path d="M296.9 178.5L299.8 173.5 295.3 170.2 292.4 175.2Z" stroke="#0262e0"/>
<path d="M245.3 150.9L248.2 160.6 243.7 158.2 240.8 148.5Z" stroke="#1389d2"/>
<path d="M277.9 190.3L280.8 189.6 276.3 186.9 273.4 187.7Z" stroke="#36369f"/>
<path d="M105.4 117.9L108.3 115.1 103.7 113.3 100.9 115.9Z" stroke="#58bd8b"/>
<path d="M193.3 80.1L196.2 86.9 191.7 85.8 188.8 79.4Z" stroke="#e9b94e"/>
<path d="M175.6 68.1L178.5 68.8 174 69.5 171.1 68.9Z" stroke="#f9d229"/>
<path d="M121.5 108.6L124.4 105.7 119.9 104.3 117 107.1Z" stroke="#91be72"/>
<path d="M294 183.3L296.9 178.5 292.4 175.2 289.5 180Z" stroke="#1f52d3"/>
<path d="M267.6 182.9L270.5 186.5 266 183.9 263.1 180.3Z" stroke="#3143b9"/>
<path d="M237.9 138.8L240.8 148.5 236.3 146.2 233.4 136.5Z" stroke="#05a3c9"/>
<path d="M156.6 83.9L159.5 80.8 155 80.7 152.1 83.5Z" stroke="#f0b949"/>
<path d="M200.8 88.5L203.7 95.5 199.1 93.7 196.2 86.9Z" stroke="#d0ba59"/>
<path d="M291.2 187.4L294 183.3 289.5 180 286.6 184.2Z" stroke="#3143b9"/>
<path d="M137.6 98.1L140.5 95.1 136 94 133.1 96.8Z" stroke="#b7bc63"/>
<path d="M230.5 127.5L233.4 136.5 228.8 134.2 225.9 125.3Z" stroke="#15b0b4"/>
<path d="M208.2 97.6L211.1 104.9 206.6 102.6 203.7 95.5Z" stroke="#aebd67"/>
<path d="M102.5 120.7L105.4 117.9 100.9 115.9 98 118.7Z" stroke="#4dbc91"/>
<path d="M223.1 117.1L225.9 125.3 221.4 122.9 218.5 114.8Z" stroke="#41ba97"/>
<path d="M215.6 107.1L218.5 114.8 214 112.4 211.1 104.9Z" stroke="#7cbf7b"/>
<path d="M118.6 111.4L121.5 108.6 117 107.1 114.1 109.8Z" stroke="#7cbf7b"/>
<path d="M153.7 87L156.6 83.9 152.1 83.5 149.2 86.4Z" stroke="#e9b94e"/>
<path d="M288.3 190.5L291.2 187.4 286.6 184.2 283.7 187.5Z" stroke="#353cac"/>
<path d="M172.7 70.4L175.6 68.1 171.1 68.9 168.2 71Z" stroke="#f9d229"/>
<path d="M134.7 101.1L137.6 98.1 133.1 96.8 130.2 99.8Z" stroke="#aebd67"/>
<path d="M275 189.1L277.9 190.3 273.4 187.7 270.5 186.5Z" stroke="#36369f"/>
<path d="M99.6 123.7L102.5 120.7 98 118.7 95.1 121.6Z" stroke="#41ba97"/>
<path d="M115.7 114.2L118.6 111.4 114.1 109.8 111.2 112.4Z" stroke="#70be80"/>
<path d="M310.2 167L313 163.3 308.5 160.4 305.6 164Z" stroke="#127cd7"/>
<path d="M150.8 90.1L153.7 87 149.2 86.4 146.3 89.3Z" stroke="#d8ba55"/>
<path d="M183 68.5L185.9 73.2 181.4 73.2 178.5 68.8Z" stroke="#fbcd2d"/>
<path d="M285.4 192.4L288.3 190.5 283.7 187.5 280.8 189.6Z" stroke="#36369f"/>
<path d="M131.8 104.1L134.7 101.1 130.2 99.8 127.3 102.7Z" stroke="#a5be6a"/>
<path d="M169.8 73.8L172.7 70.4 168.2 71 165.3 74.1Z" stroke="#fbcd2d"/>
<path d="M307.3 171.6L310.2 167 305.6 164 302.7 168.5Z" stroke="#0c74dc"/>
<path d="M112.8 116.9L115.7 114.2 111.2 112.4 108.3 115.1Z" stroke="#64be85"/>
<path d="M147.9 93.2L150.8 90.1 146.3 89.3 143.4 92.2Z" stroke="#d0ba59"/>
<path d="M304.4 176.7L307.3 171.6 302.7 168.5 299.8 173.5Z" stroke="#046ce0"/>
<path d="M166.9 77.4L169.8 73.8 165.3 74.1 162.4 77.5Z" stroke="#fec337"/>
<path d="M257.3 165.6L260.2 174 255.7 171.5 252.8 163.1Z" stroke="#0c74dc"/>
<path d="M128.9 107.1L131.8 104.1 127.3 102.7 124.4 105.7Z" stroke="#9bbe6e"/>
<path d="M264.7 176.5L267.6 182.9 263.1 180.3 260.2 174Z" stroke="#0f5bdd"/>
<path d="M301.5 181.9L304.4 176.7 299.8 173.5 296.9 178.5Z" stroke="#0262e0"/>
<path d="M190.5 73.6L193.3 80.1 188.8 79.4 185.9 73.2Z" stroke="#fec337"/>
<path d="M249.9 153.4L252.8 163.1 248.2 160.6 245.3 150.9Z" stroke="#1389d2"/>
<path d="M282.5 192.9L285.4 192.4 280.8 189.6 277.9 190.3Z" stroke="#353093"/>
<path d="M298.6 186.6L301.5 181.9 296.9 178.5 294 183.3Z" stroke="#2b4ac6"/>
<path d="M145 96.3L147.9 93.2 143.4 92.2 140.5 95.1Z" stroke="#c8bb5c"/>
<path d="M109.9 119.8L112.8 116.9 108.3 115.1 105.4 117.9Z" stroke="#58bd8b"/>
<path d="M164 80.9L166.9 77.4 162.4 77.5 159.5 80.8Z" stroke="#fdbe3d"/>
<path d="M272.2 185.4L275 189.1 270.5 186.5 267.6 182.9Z" stroke="#3143b9"/>
<path d="M197.9 81.5L200.8 88.5 196.2 86.9 193.3 80.1Z" stroke="#f0b949"/>
<path d="M242.4 141.1L245.3 150.9 240.8 148.5 237.9 138.8Z" stroke="#05a3c9"/>
<path d="M126 110L128.9 107.1 124.4 105.7 121.5 108.6Z" stroke="#91be72"/>
<path d="M295.7 190.6L298.6 186.6 294 183.3 291.2 187.4Z" stroke="#353cac"/>
<path d="M205.3 90.3L208.2 97.6 203.7 95.5 200.8 88.5Z" stroke="#d0ba59"/>
<path d="M180.1 67.7L183 68.5 178.5 68.8 175.6 68.1Z" stroke="#f7d825"/>
<path d="M235 129.7L237.9 138.8 233.4 136.5 230.5 127.5Z" stroke="#15b0b4"/>
<path d="M212.7 99.6L215.6 107.1 211.1 104.9 208.2 97.6Z" stroke="#aebd67"/>
<path d="M161.1 84.3L164 80.9 159.5 80.8 156.6 83.9Z" stroke="#f8ba43"/>
<path d="M142.1 99.3L145 96.3 140.5 95.1 137.6 98.1Z" stroke="#bfbc60"/>
<path d="M227.6 119.2L230.5 127.5 225.9 125.3 223.1 117.1Z" stroke="#41ba97"/>
<path d="M220.2 109.3L223.1 117.1 218.5 114.8 215.6 107.1Z" stroke="#7cbf7b"/>
<path d="M107 122.7L109.9 119.8 105.4 117.9 102.5 120.7Z" stroke="#4dbc91"/>
<path d="M292.8 193.4L295.7 190.6 291.2 187.4 288.3 190.5Z" stroke="#36369f"/>
<path d="M123.1 112.9L126 110 121.5 108.6 118.6 111.4Z" stroke="#87bf76"/>
<path d="M279.6 191.6L282.5 192.9 277.9 190.3 275 189.1Z" stroke="#36369f"/>
<path d="M158.2 87.6L161.1 84.3 156.6 83.9 153.7 87Z" stroke="#e9b94e"/>
<path d="M139.2 102.3L142.1 99.3 137.6 98.1 134.7 101.1Z" stroke="#b7bc63"/>
<path d="M314.7 170.1L317.6 166.2 313 163.3 310.2 167Z" stroke="#1078da"/>
<path d="M104.1 125.7L107 122.7 102.5 120.7 99.6 123.7Z" stroke="#41ba97"/>
<path d="M289.9 195.2L292.8 193.4 288.3 190.5 285.4 192.4Z" stroke="#353093"/>
<path d="M120.2 115.8L123.1 112.9 118.6 111.4 115.7 114.2Z" stroke="#7cbf7b"/>
<path d="M177.2 70.1L180.1 67.7 175.6 68.1 172.7 70.4Z" stroke="#f7d825"/>
<path d="M311.8 174.8L314.7 170.1 310.2 167 307.3 171.6Z" stroke="#0870de"/>
<path d="M155.3 91L158.2 87.6 153.7 87 150.8 90.1Z" stroke="#e1b952"/>
<path d="M136.3 105.4L139.2 102.3 134.7 101.1 131.8 104.1Z" stroke="#aebd67"/>
<path d="M308.9 180L311.8 174.8 307.3 171.6 304.4 176.7Z" stroke="#0168e1"/>
<path d="M187.6 68.8L190.5 73.6 185.9 73.2 183 68.5Z" stroke="#f7d825"/>
<path d="M306 185.2L308.9 180 304.4 176.7 301.5 181.9Z" stroke="#0f5bdd"/>
<path d="M117.3 118.6L120.2 115.8 115.7 114.2 112.8 116.9Z" stroke="#70be80"/>
<path d="M174.3 73.7L177.2 70.1 172.7 70.4 169.8 73.8Z" stroke="#f9d229"/>
<path d="M261.8 168.1L264.7 176.5 260.2 174 257.3 165.6Z" stroke="#0870de"/>
<path d="M269.3 179L272.2 185.4 267.6 182.9 264.7 176.5Z" stroke="#0f5bdd"/>
<path d="M152.5 94.2L155.3 91 150.8 90.1 147.9 93.2Z" stroke="#d8ba55"/>
<path d="M303.1 189.9L306 185.2 301.5 181.9 298.6 186.6Z" stroke="#2b4ac6"/>
<path d="M287 195.5L289.9 195.2 285.4 192.4 282.5 192.9Z" stroke="#353093"/>
<path d="M133.5 108.4L136.3 105.4 131.8 104.1 128.9 107.1Z" stroke="#9bbe6e"/>
<path d="M254.4 155.9L257.3 165.6 252.8 163.1 249.9 153.4Z" stroke="#1389d2"/>
<path d="M195 74.7L197.9 81.5 193.3 80.1 190.5 73.6Z" stroke="#fdc832"/>
<path d="M171.5 77.5L174.3 73.7 169.8 73.8 166.9 77.4Z" stroke="#fbcd2d"/>
<path d="M300.2 193.7L303.1 189.9 298.6 186.6 295.7 190.6Z" stroke="#353cac"/>
<path d="M276.7 187.9L279.6 191.6 275 189.1 272.2 185.4Z" stroke="#3143b9"/>
<path d="M114.5 121.6L117.3 118.6 112.8 116.9 109.9 119.8Z" stroke="#64be85"/>
<path d="M247 143.6L249.9 153.4 245.3 150.9 242.4 141.1Z" stroke="#05a3c9"/>
<path d="M149.6 97.4L152.5 94.2 147.9 93.2 145 96.3Z" stroke="#d0ba59"/>
<path d="M202.4 83.1L205.3 90.3 200.8 88.5 197.9 81.5Z" stroke="#f0b949"/>
<path d="M130.6 111.4L133.5 108.4 128.9 107.1 126 110Z" stroke="#91be72"/>
<path d="M168.6 81.2L171.5 77.5 166.9 77.4 164 80.9Z" stroke="#fec337"/>
<path d="M209.8 92.2L212.7 99.6 208.2 97.6 205.3 90.3Z" stroke="#d0ba59"/>
<path d="M239.6 132L242.4 141.1 237.9 138.8 235 129.7Z" stroke="#15b0b4"/>
<path d="M297.3 196.3L300.2 193.7 295.7 190.6 292.8 193.4Z" stroke="#36369f"/>
<path d="M217.3 101.7L220.2 109.3 215.6 107.1 212.7 99.6Z" stroke="#aebd67"/>
<path d="M232.1 121.3L235 129.7 230.5 127.5 227.6 119.2Z" stroke="#41ba97"/>
<path d="M224.7 111.3L227.6 119.2 223.1 117.1 220.2 109.3Z" stroke="#7cbf7b"/>
<path d="M111.6 124.6L114.5 121.6 109.9 119.8 107 122.7Z" stroke="#4dbc91"/>
<path d="M146.7 100.5L149.6 97.4 145 96.3 142.1 99.3Z" stroke="#bfbc60"/>
<path d="M184.7 67.9L187.6 68.8 183 68.5 180.1 67.7Z" stroke="#f5dd21"/>
<path d="M165.7 84.7L168.6 81.2 164 80.9 161.1 84.3Z" stroke="#fdbe3d"/>
<path d="M127.7 114.4L130.6 111.4 126 110 123.1 112.9Z" stroke="#87bf76"/>
<path d="M284.1 194.2L287 195.5 282.5 192.9 279.6 191.6Z" stroke="#36369f"/>
<path d="M319.2 173.2L322.1 169.2 317.6 166.2 314.7 170.1Z" stroke="#1078da"/>
<path d="M108.7 127.8L111.6 124.6 107 122.7 104.1 125.7Z" stroke="#41ba97"/>
<path d="M294.4 197.8L297.3 196.3 292.8 193.4 289.9 195.2Z" stroke="#353093"/>
<path d="M143.8 103.5L146.7 100.5 142.1 99.3 139.2 102.3Z" stroke="#b7bc63"/>
<path d="M316.3 178L319.2 173.2 314.7 170.1 311.8 174.8Z" stroke="#0870de"/>
<path d="M162.8 88.2L165.7 84.7 161.1 84.3 158.2 87.6Z" stroke="#f0b949"/>
<path d="M124.8 117.3L127.7 114.4 123.1 112.9 120.2 115.8Z" stroke="#7cbf7b"/>
<path d="M313.4 183.4L316.3 178 311.8 174.8 308.9 180Z" stroke="#0168e1"/>
<path d="M310.5 188.6L313.4 183.4 308.9 180 306 185.2Z" stroke="#1f52d3"/>
<path d="M181.8 70.2L184.7 67.9 180.1 67.7 177.2 70.1Z" stroke="#f5dd21"/>
<path d="M140.9 106.6L143.8 103.5 139.2 102.3 136.3 105.4Z" stroke="#aebd67"/>
<path d="M159.9 91.7L162.8 88.2 158.2 87.6 155.3 91Z" stroke="#e9b94e"/>
<path d="M266.4 170.6L269.3 179 264.7 176.5 261.8 168.1Z" stroke="#0870de"/>
<path d="M307.6 193.2L310.5 188.6 306 185.2 303.1 189.9Z" stroke="#3143b9"/>
<path d="M273.8 181.5L276.7 187.9 272.2 185.4 269.3 179Z" stroke="#0f5bdd"/>
<path d="M192.1 69.7L195 74.7 190.5 73.6 187.6 68.8Z" stroke="#f7d825"/>
<path d="M121.9 120.3L124.8 117.3 120.2 115.8 117.3 118.6Z" stroke="#70be80"/>
<path d="M291.5 198.1L294.4 197.8 289.9 195.2 287 195.5Z" stroke="#353093"/>
<path d="M258.9 158.3L261.8 168.1 257.3 165.6 254.4 155.9Z" stroke="#1389d2"/>
<path d="M304.8 196.7L307.6 193.2 303.1 189.9 300.2 193.7Z" stroke="#36369f"/>
<path d="M157 95.1L159.9 91.7 155.3 91 152.5 94.2Z" stroke="#e1b952"/>
<path d="M178.9 73.8L181.8 70.2 177.2 70.1 174.3 73.7Z" stroke="#f7d825"/>
<path d="M138 109.6L140.9 106.6 136.3 105.4 133.5 108.4Z" stroke="#a5be6a"/>
<path d="M281.2 190.4L284.1 194.2 279.6 191.6 276.7 187.9Z" stroke="#353cac"/>
<path d="M199.5 76.1L202.4 83.1 197.9 81.5 195 74.7Z" stroke="#fdc832"/>
<path d="M251.5 146L254.4 155.9 249.9 153.4 247 143.6Z" stroke="#05a3c9"/>
<path d="M119 123.4L121.9 120.3 117.3 118.6 114.5 121.6Z" stroke="#64be85"/>
<path d="M206.9 84.9L209.8 92.2 205.3 90.3 202.4 83.1Z" stroke="#f0b949"/>
<path d="M176 77.7L178.9 73.8 174.3 73.7 171.5 77.5Z" stroke="#f9d229"/>
<path d="M301.9 199.1L304.8 196.7 300.2 193.7 297.3 196.3Z" stroke="#353093"/>
<path d="M154.1 98.4L157 95.1 152.5 94.2 149.6 97.4Z" stroke="#d0ba59"/>
<path d="M244.1 134.4L247 143.6 242.4 141.1 239.6 132Z" stroke="#15b0b4"/>
<path d="M214.4 94.2L217.3 101.7 212.7 99.6 209.8 92.2Z" stroke="#d0ba59"/>
<path d="M135.1 112.7L138 109.6 133.5 108.4 130.6 111.4Z" stroke="#9bbe6e"/>
<path d="M221.8 103.6L224.7 111.3 220.2 109.3 217.3 101.7Z" stroke="#aebd67"/>
<path d="M236.7 123.6L239.6 132 235 129.7 232.1 121.3Z" stroke="#41ba97"/>
<path d="M229.2 113.4L232.1 121.3 227.6 119.2 224.7 111.3Z" stroke="#7cbf7b"/>
<path d="M116.1 126.5L119 123.4 114.5 121.6 111.6 124.6Z" stroke="#58bd8b"/>
<path d="M173.1 81.5L176 77.7 171.5 77.5 168.6 81.2Z" stroke="#fdc832"/>
<path d="M288.6 196.7L291.5 198.1 287 195.5 284.1 194.2Z" stroke="#353093"/>
<path d="M323.8 176.3L326.6 172.2 322.1 169.2 319.2 173.2Z" stroke="#0c74dc"/>
<path d="M151.2 101.6L154.1 98.4 149.6 97.4 146.7 100.5Z" stroke="#c8bb5c"/>
<path d="M132.2 115.7L135.1 112.7 130.6 111.4 127.7 114.4Z" stroke="#91be72"/>
<path d="M299 200.5L301.9 199.1 297.3 196.3 294.4 197.8Z" stroke="#352a86"/>
<path d="M189.2 68.6L192.1 69.7 187.6 68.8 184.7 67.9Z" stroke="#f4e41c"/>
<path d="M320.9 181.3L323.8 176.3 319.2 173.2 316.3 178Z" stroke="#046ce0"/>
<path d="M170.2 85.1L173.1 81.5 168.6 81.2 165.7 84.7Z" stroke="#fec337"/>
<path d="M113.2 129.7L116.1 126.5 111.6 124.6 108.7 127.8Z" stroke="#41ba97"/>
<path d="M318 186.7L320.9 181.3 316.3 178 313.4 183.4Z" stroke="#0262e0"/>
<path d="M148.3 104.6L151.2 101.6 146.7 100.5 143.8 103.5Z" stroke="#bfbc60"/>
<path d="M315.1 191.9L318 186.7 313.4 183.4 310.5 188.6Z" stroke="#1f52d3"/>
<path d="M129.3 118.8L132.2 115.7 127.7 114.4 124.8 117.3Z" stroke="#7cbf7b"/>
<path d="M167.3 88.7L170.2 85.1 165.7 84.7 162.8 88.2Z" stroke="#f8ba43"/>
<path d="M312.2 196.4L315.1 191.9 310.5 188.6 307.6 193.2Z" stroke="#353cac"/>
<path d="M270.9 173.1L273.8 181.5 269.3 179 266.4 170.6Z" stroke="#0870de"/>
<path d="M278.3 184L281.2 190.4 276.7 187.9 273.8 181.5Z" stroke="#0f5bdd"/>
<path d="M145.4 107.7L148.3 104.6 143.8 103.5 140.9 106.6Z" stroke="#b7bc63"/>
<path d="M296.1 200.6L299 200.5 294.4 197.8 291.5 198.1Z" stroke="#352a86"/>
<path d="M186.3 70.9L189.2 68.6 184.7 67.9 181.8 70.2Z" stroke="#f4e41c"/>
<path d="M164.4 92.4L167.3 88.7 162.8 88.2 159.9 91.7Z" stroke="#f0b949"/>
<path d="M263.5 160.8L266.4 170.6 261.8 168.1 258.9 158.3Z" stroke="#1484d3"/>
<path d="M309.3 199.7L312.2 196.4 307.6 193.2 304.8 196.7Z" stroke="#36369f"/>
<path d="M126.4 121.8L129.3 118.8 124.8 117.3 121.9 120.3Z" stroke="#70be80"/>
<path d="M196.6 70.9L199.5 76.1 195 74.7 192.1 69.7Z" stroke="#f5dd21"/>
<path d="M285.8 192.9L288.6 196.7 284.1 194.2 281.2 190.4Z" stroke="#353cac"/>
<path d="M256 148.5L258.9 158.3 254.4 155.9 251.5 146Z" stroke="#06a0cc"/>
<path d="M142.5 110.8L145.4 107.7 140.9 106.6 138 109.6Z" stroke="#a5be6a"/>
<path d="M161.5 95.9L164.4 92.4 159.9 91.7 157 95.1Z" stroke="#e1b952"/>
<path d="M204.1 77.7L206.9 84.9 202.4 83.1 199.5 76.1Z" stroke="#fdc832"/>
<path d="M183.4 74.4L186.3 70.9 181.8 70.2 178.9 73.8Z" stroke="#f5dd21"/>
<path d="M123.5 125L126.4 121.8 121.9 120.3 119 123.4Z" stroke="#64be85"/>
<path d="M306.4 201.9L309.3 199.7 304.8 196.7 301.9 199.1Z" stroke="#353093"/>
<path d="M211.5 86.7L214.4 94.2 209.8 92.2 206.9 84.9Z" stroke="#f0b949"/>
<path d="M248.6 136.9L251.5 146 247 143.6 244.1 134.4Z" stroke="#15b0b4"/>
<path d="M218.9 96.1L221.8 103.6 217.3 101.7 214.4 94.2Z" stroke="#d0ba59"/>
<path d="M241.2 126L244.1 134.4 239.6 132 236.7 123.6Z" stroke="#41ba97"/>
<path d="M226.3 105.7L229.2 113.4 224.7 111.3 221.8 103.6Z" stroke="#aebd67"/>
<path d="M233.8 115.6L236.7 123.6 232.1 121.3 229.2 113.4Z" stroke="#7cbf7b"/>
<path d="M158.6 99.3L161.5 95.9 157 95.1 154.1 98.4Z" stroke="#d8ba55"/>
<path d="M180.5 78.2L183.4 74.4 178.9 73.8 176 77.7Z" stroke="#f7d825"/>
<path d="M139.6 113.8L142.5 110.8 138 109.6 135.1 112.7Z" stroke="#9bbe6e"/>
<path d="M120.6 128.3L123.5 125 119 123.4 116.1 126.5Z" stroke="#58bd8b"/>
<path d="M293.2 199.2L296.1 200.6 291.5 198.1 288.6 196.7Z" stroke="#353093"/>
<path d="M303.5 203.1L306.4 201.9 301.9 199.1 299 200.5Z" stroke="#352a86"/>
<path d="M177.6 81.9L180.5 78.2 176 77.7 173.1 81.5Z" stroke="#fbcd2d"/>
<path d="M155.7 102.5L158.6 99.3 154.1 98.4 151.2 101.6Z" stroke="#d0ba59"/>
<path d="M136.7 117L139.6 113.8 135.1 112.7 132.2 115.7Z" stroke="#91be72"/>
<path d="M117.7 131.6L120.6 128.3 116.1 126.5 113.2 129.7Z" stroke="#41ba97"/>
<path d="M193.7 69.7L196.6 70.9 192.1 69.7 189.2 68.6Z" stroke="#f4eb18"/>
<path d="M174.7 85.5L177.6 81.9 173.1 81.5 170.2 85.1Z" stroke="#fdc832"/>
<path d="M152.8 105.6L155.7 102.5 151.2 101.6 148.3 104.6Z" stroke="#bfbc60"/>
<path d="M133.8 120.1L136.7 117 132.2 115.7 129.3 118.8Z" stroke="#87bf76"/>
<path d="M275.4 175.6L278.3 184 273.8 181.5 270.9 173.1Z" stroke="#0870de"/>
<path d="M282.9 186.5L285.8 192.9 281.2 190.4 278.3 184Z" stroke="#1f52d3"/>
<path d="M171.8 89.2L174.7 85.5 170.2 85.1 167.3 88.7Z" stroke="#fdbe3d"/>
<path d="M300.6 203.1L303.5 203.1 299 200.5 296.1 200.6Z" stroke="#352a86"/>
<path d="M268 163.3L270.9 173.1 266.4 170.6 263.5 160.8Z" stroke="#1484d3"/>
<path d="M149.9 108.7L152.8 105.6 148.3 104.6 145.4 107.7Z" stroke="#b7bc63"/>
<path d="M130.9 123.3L133.8 120.1 129.3 118.8 126.4 121.8Z" stroke="#7cbf7b"/>
<path d="M201.2 72.3L204.1 77.7 199.5 76.1 196.6 70.9Z" stroke="#f5dd21"/>
<path d="M290.3 195.4L293.2 199.2 288.6 196.7 285.8 192.9Z" stroke="#353cac"/>
<path d="M190.8 71.9L193.7 69.7 189.2 68.6 186.3 70.9Z" stroke="#f4eb18"/>
<path d="M168.9 92.9L171.8 89.2 167.3 88.7 164.4 92.4Z" stroke="#f8ba43"/>
<path d="M260.6 151L263.5 160.8 258.9 158.3 256 148.5Z" stroke="#06a0cc"/>
<path d="M208.6 79.4L211.5 86.7 206.9 84.9 204.1 77.7Z" stroke="#fbcd2d"/>
<path d="M147.1 111.7L149.9 108.7 145.4 107.7 142.5 110.8Z" stroke="#aebd67"/>
<path d="M253.2 139.3L256 148.5 251.5 146 248.6 136.9Z" stroke="#15b0b4"/>
<path d="M128.1 126.6L130.9 123.3 126.4 121.8 123.5 125Z" stroke="#64be85"/>
<path d="M166.1 96.5L168.9 92.9 164.4 92.4 161.5 95.9Z" stroke="#e9b94e"/>
<path d="M216 88.5L218.9 96.1 214.4 94.2 211.5 86.7Z" stroke="#f0b949"/>
<path d="M187.9 75.2L190.8 71.9 186.3 70.9 183.4 74.4Z" stroke="#f4e41c"/>
<path d="M245.7 128.4L248.6 136.9 244.1 134.4 241.2 126Z" stroke="#41ba97"/>
<path d="M223.4 98L226.3 105.7 221.8 103.6 218.9 96.1Z" stroke="#d0ba59"/>
<path d="M230.9 107.9L233.8 115.6 229.2 113.4 226.3 105.7Z" stroke="#aebd67"/>
<path d="M238.3 118L241.2 126 236.7 123.6 233.8 115.6Z" stroke="#7cbf7b"/>
<path d="M297.7 201.6L300.6 203.1 296.1 200.6 293.2 199.2Z" stroke="#353093"/>
<path d="M144.2 114.8L147.1 111.7 142.5 110.8 139.6 113.8Z" stroke="#a5be6a"/>
<path d="M125.2 130L128.1 126.6 123.5 125 120.6 128.3Z" stroke="#58bd8b"/>
<path d="M163.2 100L166.1 96.5 161.5 95.9 158.6 99.3Z" stroke="#e1b952"/>
<path d="M185.1 78.9L187.9 75.2 183.4 74.4 180.5 78.2Z" stroke="#f7d825"/>
<path d="M122.3 133.5L125.2 130 120.6 128.3 117.7 131.6Z" stroke="#4dbc91"/>
<path d="M182.2 82.4L185.1 78.9 180.5 78.2 177.6 81.9Z" stroke="#f9d229"/>
<path d="M160.3 103.2L163.2 100 158.6 99.3 155.7 102.5Z" stroke="#d0ba59"/>
<path d="M141.3 118L144.2 114.8 139.6 113.8 136.7 117Z" stroke="#91be72"/>
<path d="M198.3 71.1L201.2 72.3 196.6 70.9 193.7 69.7Z" stroke="#f4eb18"/>
<path d="M280 178.1L282.9 186.5 278.3 184 275.4 175.6Z" stroke="#0870de"/>
<path d="M179.3 85.9L182.2 82.4 177.6 81.9 174.7 85.5Z" stroke="#fdc832"/>
<path d="M287.4 189L290.3 195.4 285.8 192.9 282.9 186.5Z" stroke="#1f52d3"/>
<path d="M157.4 106.3L160.3 103.2 155.7 102.5 152.8 105.6Z" stroke="#c8bb5c"/>
<path d="M138.4 121.3L141.3 118 136.7 117 133.8 120.1Z" stroke="#87bf76"/>
<path d="M272.5 165.8L275.4 175.6 270.9 173.1 268 163.3Z" stroke="#1484d3"/>
<path d="M176.4 89.5L179.3 85.9 174.7 85.5 171.8 89.2Z" stroke="#fec337"/>
<path d="M294.8 197.9L297.7 201.6 293.2 199.2 290.3 195.4Z" stroke="#353cac"/>
<path d="M265.1 153.4L268 163.3 263.5 160.8 260.6 151Z" stroke="#06a0cc"/>
<path d="M205.7 74L208.6 79.4 204.1 77.7 201.2 72.3Z" stroke="#f5dd21"/>
<path d="M135.5 124.6L138.4 121.3 133.8 120.1 130.9 123.3Z" stroke="#7cbf7b"/>
<path d="M154.5 109.4L157.4 106.3 152.8 105.6 149.9 108.7Z" stroke="#bfbc60"/>
<path d="M195.4 73.1L198.3 71.1 193.7 69.7 190.8 71.9Z" stroke="#f4eb18"/>
<path d="M173.5 93.1L176.4 89.5 171.8 89.2 168.9 92.9Z" stroke="#f8ba43"/>
<path d="M257.7 141.8L260.6 151 256 148.5 253.2 139.3Z" stroke="#15b0b4"/>
<path d="M213.1 81.2L216 88.5 211.5 86.7 208.6 79.4Z" stroke="#fbcd2d"/>
<path d="M220.6 90.4L223.4 98 218.9 96.1 216 88.5Z" stroke="#f8ba43"/>
<path d="M250.3 130.8L253.2 139.3 248.6 136.9 245.7 128.4Z" stroke="#41ba97"/>
<path d="M132.6 128L135.5 124.6 130.9 123.3 128.1 126.6Z" stroke="#70be80"/>
<path d="M151.6 112.5L154.5 109.4 149.9 108.7 147.1 111.7Z" stroke="#b7bc63"/>
<path d="M228 100.2L230.9 107.9 226.3 105.7 223.4 98Z" stroke="#d0ba59"/>
<path d="M242.8 120.4L245.7 128.4 241.2 126 238.3 118Z" stroke="#7cbf7b"/>
<path d="M235.4 110.2L238.3 118 233.8 115.6 230.9 107.9Z" stroke="#aebd67"/>
<path d="M192.5 76.2L195.4 73.1 190.8 71.9 187.9 75.2Z" stroke="#f4eb18"/>
<path d="M170.6 96.7L173.5 93.1 168.9 92.9 166.1 96.5Z" stroke="#f0b949"/>
<path d="M129.7 131.6L132.6 128 128.1 126.6 125.2 130Z" stroke="#58bd8b"/>
<path d="M148.7 115.6L151.6 112.5 147.1 111.7 144.2 114.8Z" stroke="#a5be6a"/>
<path d="M189.6 79.7L192.5 76.2 187.9 75.2 185.1 78.9Z" stroke="#f5dd21"/>
<path d="M167.7 100.1L170.6 96.7 166.1 96.5 163.2 100Z" stroke="#e9b94e"/>
<path d="M126.8 135.3L129.7 131.6 125.2 130 122.3 133.5Z" stroke="#4dbc91"/>
<path d="M145.8 118.9L148.7 115.6 144.2 114.8 141.3 118Z" stroke="#9bbe6e"/>
<path d="M202.8 72.6L205.7 74 201.2 72.3 198.3 71.1Z" stroke="#f6f213"/>
<path d="M186.7 83.1L189.6 79.7 185.1 78.9 182.2 82.4Z" stroke="#f7d825"/>
<path d="M164.8 103.3L167.7 100.1 163.2 100 160.3 103.2Z" stroke="#d8ba55"/>
<path d="M284.5 180.6L287.4 189 282.9 186.5 280 178.1Z" stroke="#046ce0"/>
<path d="M291.9 191.5L294.8 197.9 290.3 195.4 287.4 189Z" stroke="#1f52d3"/>
<path d="M277.1 168.3L280 178.1 275.4 175.6 272.5 165.8Z" stroke="#1484d3"/>
<path d="M183.8 86.4L186.7 83.1 182.2 82.4 179.3 85.9Z" stroke="#fbcd2d"/>
<path d="M142.9 122.3L145.8 118.9 141.3 118 138.4 121.3Z" stroke="#91be72"/>
<path d="M161.9 106.4L164.8 103.3 160.3 103.2 157.4 106.3Z" stroke="#d0ba59"/>
<path d="M269.6 155.9L272.5 165.8 268 163.3 265.1 153.4Z" stroke="#06a0cc"/>
<path d="M210.2 75.7L213.1 81.2 208.6 79.4 205.7 74Z" stroke="#f4e41c"/>
<path d="M180.9 89.8L183.8 86.4 179.3 85.9 176.4 89.5Z" stroke="#fdc832"/>
<path d="M140 125.7L142.9 122.3 138.4 121.3 135.5 124.6Z" stroke="#7cbf7b"/>
<path d="M199.9 74.4L202.8 72.6 198.3 71.1 195.4 73.1Z" stroke="#f6f213"/>
<path d="M262.2 144.3L265.1 153.4 260.6 151 257.7 141.8Z" stroke="#0faeb8"/>
<path d="M159 109.5L161.9 106.4 157.4 106.3 154.5 109.4Z" stroke="#c8bb5c"/>
<path d="M217.7 83.1L220.6 90.4 216 88.5 213.1 81.2Z" stroke="#fbcd2d"/>
<path d="M254.8 133.3L257.7 141.8 253.2 139.3 250.3 130.8Z" stroke="#41ba97"/>
<path d="M225.1 92.6L228 100.2 223.4 98 220.6 90.4Z" stroke="#f8ba43"/>
<path d="M247.4 122.8L250.3 130.8 245.7 128.4 242.8 120.4Z" stroke="#7cbf7b"/>
<path d="M232.5 102.5L235.4 110.2 230.9 107.9 228 100.2Z" stroke="#d0ba59"/>
<path d="M239.9 112.6L242.8 120.4 238.3 118 235.4 110.2Z" stroke="#a5be6a"/>
<path d="M178 93.3L180.9 89.8 176.4 89.5 173.5 93.1Z" stroke="#fdbe3d"/>
<path d="M137.1 129.3L140 125.7 135.5 124.6 132.6 128Z" stroke="#70be80"/>
<path d="M197 77.4L199.9 74.4 195.4 73.1 192.5 76.2Z" stroke="#f4eb18"/>
<path d="M156.1 112.6L159 109.5 154.5 109.4 151.6 112.5Z" stroke="#b7bc63"/>
<path d="M175.1 96.7L178 93.3 173.5 93.1 170.6 96.7Z" stroke="#f8ba43"/>
<path d="M134.2 133L137.1 129.3 132.6 128 129.7 131.6Z" stroke="#64be85"/>
<path d="M194.1 80.7L197 77.4 192.5 76.2 189.6 79.7Z" stroke="#f4e41c"/>
<path d="M153.2 115.8L156.1 112.6 151.6 112.5 148.7 115.6Z" stroke="#aebd67"/>
<path d="M131.3 136.9L134.2 133 129.7 131.6 126.8 135.3Z" stroke="#4dbc91"/>
<path d="M172.2 100L175.1 96.7 170.6 96.7 167.7 100.1Z" stroke="#f0b949"/>
<path d="M289 183.1L291.9 191.5 287.4 189 284.5 180.6Z" stroke="#046ce0"/>
<path d="M207.3 74.2L210.2 75.7 205.7 74 202.8 72.6Z" stroke="#f6f213"/>
<path d="M191.2 83.9L194.1 80.7 189.6 79.7 186.7 83.1Z" stroke="#f7d825"/>
<path d="M150.3 119.1L153.2 115.8 148.7 115.6 145.8 118.9Z" stroke="#a5be6a"/>
<path d="M281.6 170.8L284.5 180.6 280 178.1 277.1 168.3Z" stroke="#1484d3"/>
<path d="M169.3 103.2L172.2 100 167.7 100.1 164.8 103.3Z" stroke="#e1b952"/>
<path d="M274.2 158.4L277.1 168.3 272.5 165.8 269.6 155.9Z" stroke="#06a0cc"/>
<path d="M188.3 87.1L191.2 83.9 186.7 83.1 183.8 86.4Z" stroke="#f9d229"/>
<path d="M147.4 122.5L150.3 119.1 145.8 118.9 142.9 122.3Z" stroke="#9bbe6e"/>
<path d="M214.8 77.5L217.7 83.1 213.1 81.2 210.2 75.7Z" stroke="#f4e41c"/>
<path d="M166.4 106.2L169.3 103.2 164.8 103.3 161.9 106.4Z" stroke="#d8ba55"/>
<path d="M266.8 146.7L269.6 155.9 265.1 153.4 262.2 144.3Z" stroke="#0faeb8"/>
<path d="M204.4 75.9L207.3 74.2 202.8 72.6 199.9 74.4Z" stroke="#f6f213"/>
<path d="M259.3 135.7L262.2 144.3 257.7 141.8 254.8 133.3Z" stroke="#41ba97"/>
<path d="M222.2 85.2L225.1 92.6 220.6 90.4 217.7 83.1Z" stroke="#fbcd2d"/>
<path d="M185.4 90.4L188.3 87.1 183.8 86.4 180.9 89.8Z" stroke="#fbcd2d"/>
<path d="M144.6 126L147.4 122.5 142.9 122.3 140 125.7Z" stroke="#87bf76"/>
<path d="M251.9 125.3L254.8 133.3 250.3 130.8 247.4 122.8Z" stroke="#70be80"/>
<path d="M229.6 94.8L232.5 102.5 228 100.2 225.1 92.6Z" stroke="#f8ba43"/>
<path d="M244.5 115L247.4 122.8 242.8 120.4 239.9 112.6Z" stroke="#a5be6a"/>
<path d="M237 104.9L239.9 112.6 235.4 110.2 232.5 102.5Z" stroke="#d0ba59"/>
<path d="M163.6 109.3L166.4 106.2 161.9 106.4 159 109.5Z" stroke="#d0ba59"/>
<path d="M141.7 129.5L144.6 126 140 125.7 137.1 129.3Z" stroke="#7cbf7b"/>
<path d="M182.6 93.8L185.4 90.4 180.9 89.8 178 93.3Z" stroke="#fec337"/>
<path d="M201.6 78.8L204.4 75.9 199.9 74.4 197 77.4Z" stroke="#f4eb18"/>
<path d="M160.7 112.3L163.6 109.3 159 109.5 156.1 112.6Z" stroke="#c8bb5c"/>
<path d="M138.8 133.2L141.7 129.5 137.1 129.3 134.2 133Z" stroke="#64be85"/>
<path d="M179.7 97.1L182.6 93.8 178 93.3 175.1 96.7Z" stroke="#fdbe3d"/>
<path d="M198.7 81.9L201.6 78.8 197 77.4 194.1 80.7Z" stroke="#f4e41c"/>
<path d="M157.8 115.5L160.7 112.3 156.1 112.6 153.2 115.8Z" stroke="#b7bc63"/>
<path d="M135.9 137L138.8 133.2 134.2 133 131.3 136.9Z" stroke="#58bd8b"/>
<path d="M211.9 75.9L214.8 77.5 210.2 75.7 207.3 74.2Z" stroke="#f6f213"/>
<path d="M286.1 173.3L289 183.1 284.5 180.6 281.6 170.8Z" stroke="#1380d5"/>
<path d="M176.8 100.3L179.7 97.1 175.1 96.7 172.2 100Z" stroke="#f8ba43"/>
<path d="M195.8 85L198.7 81.9 194.1 80.7 191.2 83.9Z" stroke="#f5dd21"/>
<path d="M278.7 160.9L281.6 170.8 277.1 168.3 274.2 158.4Z" stroke="#069ccf"/>
<path d="M154.9 118.8L157.8 115.5 153.2 115.8 150.3 119.1Z" stroke="#aebd67"/>
<path d="M173.9 103.3L176.8 100.3 172.2 100 169.3 103.2Z" stroke="#e9b94e"/>
<path d="M271.3 149.2L274.2 158.4 269.6 155.9 266.8 146.7Z" stroke="#0faeb8"/>
<path d="M192.9 88.2L195.8 85 191.2 83.9 188.3 87.1Z" stroke="#f7d825"/>
<path d="M219.3 79.5L222.2 85.2 217.7 83.1 214.8 77.5Z" stroke="#f4e41c"/>
<path d="M263.9 138.2L266.8 146.7 262.2 144.3 259.3 135.7Z" stroke="#37b89d"/>
<path d="M152 122.2L154.9 118.8 150.3 119.1 147.4 122.5Z" stroke="#a5be6a"/>
<path d="M226.7 87.4L229.6 94.8 225.1 92.6 222.2 85.2Z" stroke="#fbcd2d"/>
<path d="M209 77.5L211.9 75.9 207.3 74.2 204.4 75.9Z" stroke="#f6f213"/>
<path d="M256.4 127.7L259.3 135.7 254.8 133.3 251.9 125.3Z" stroke="#70be80"/>
<path d="M234.2 97.2L237 104.9 232.5 102.5 229.6 94.8Z" stroke="#f0b949"/>
<path d="M249 117.5L251.9 125.3 247.4 122.8 244.5 115Z" stroke="#a5be6a"/>
<path d="M241.6 107.3L244.5 115 239.9 112.6 237 104.9Z" stroke="#d0ba59"/>
<path d="M171 106.3L173.9 103.3 169.3 103.2 166.4 106.2Z" stroke="#e1b952"/>
<path d="M190 91.4L192.9 88.2 188.3 87.1 185.4 90.4Z" stroke="#fbcd2d"/>
<path d="M149.1 125.6L152 122.2 147.4 122.5 144.6 126Z" stroke="#91be72"/>
<path d="M168.1 109.2L171 106.3 166.4 106.2 163.6 109.3Z" stroke="#d8ba55"/>
<path d="M206.1 80.2L209 77.5 204.4 75.9 201.6 78.8Z" stroke="#f6f213"/>
<path d="M187.1 94.8L190 91.4 185.4 90.4 182.6 93.8Z" stroke="#fdc832"/>
<path d="M146.2 129.1L149.1 125.6 144.6 126 141.7 129.5Z" stroke="#87bf76"/>
<path d="M165.2 112.1L168.1 109.2 163.6 109.3 160.7 112.3Z" stroke="#d0ba59"/>
<path d="M184.2 98L187.1 94.8 182.6 93.8 179.7 97.1Z" stroke="#fec337"/>
<path d="M203.2 83.2L206.1 80.2 201.6 78.8 198.7 81.9Z" stroke="#f4eb18"/>
<path d="M143.3 132.5L146.2 129.1 141.7 129.5 138.8 133.2Z" stroke="#7cbf7b"/>
<path d="M216.4 78L219.3 79.5 214.8 77.5 211.9 75.9Z" stroke="#f6f213"/>
<path d="M181.3 101.1L184.2 98 179.7 97.1 176.8 100.3Z" stroke="#f8ba43"/>
<path d="M283.3 163.5L286.1 173.3 281.6 170.8 278.7 160.9Z" stroke="#069ccf"/>
<path d="M162.3 115.2L165.2 112.1 160.7 112.3 157.8 115.5Z" stroke="#c8bb5c"/>
<path d="M140.4 136L143.3 132.5 138.8 133.2 135.9 137Z" stroke="#64be85"/>
<path d="M200.3 86.2L203.2 83.2 198.7 81.9 195.8 85Z" stroke="#f5dd21"/>
<path d="M275.8 151.8L278.7 160.9 274.2 158.4 271.3 149.2Z" stroke="#0faeb8"/>
<path d="M223.8 81.8L226.7 87.4 222.2 85.2 219.3 79.5Z" stroke="#f4e41c"/>
<path d="M159.4 118.4L162.3 115.2 157.8 115.5 154.9 118.8Z" stroke="#b7bc63"/>
<path d="M268.4 140.7L271.3 149.2 266.8 146.7 263.9 138.2Z" stroke="#37b89d"/>
<path d="M178.4 103.9L181.3 101.1 176.8 100.3 173.9 103.3Z" stroke="#f0b949"/>
<path d="M197.4 89.3L200.3 86.2 195.8 85 192.9 88.2Z" stroke="#f7d825"/>
<path d="M261 130.2L263.9 138.2 259.3 135.7 256.4 127.7Z" stroke="#70be80"/>
<path d="M231.3 89.7L234.2 97.2 229.6 94.8 226.7 87.4Z" stroke="#fbcd2d"/>
<path d="M253.5 119.9L256.4 127.7 251.9 125.3 249 117.5Z" stroke="#a5be6a"/>
<path d="M238.7 99.6L241.6 107.3 237 104.9 234.2 97.2Z" stroke="#f0b949"/>
<path d="M246.1 109.7L249 117.5 244.5 115 241.6 107.3Z" stroke="#d0ba59"/>
<path d="M213.5 79.5L216.4 78 211.9 75.9 209 77.5Z" stroke="#f8fa0d"/>
<path d="M156.5 121.8L159.4 118.4 154.9 118.8 152 122.2Z" stroke="#aebd67"/>
<path d="M194.5 92.6L197.4 89.3 192.9 88.2 190 91.4Z" stroke="#f9d229"/>
<path d="M175.5 106.6L178.4 103.9 173.9 103.3 171 106.3Z" stroke="#e9b94e"/>
<path d="M210.6 82L213.5 79.5 209 77.5 206.1 80.2Z" stroke="#f6f213"/>
<path d="M153.6 125.2L156.5 121.8 152 122.2 149.1 125.6Z" stroke="#a5be6a"/>
<path d="M191.6 95.9L194.5 92.6 190 91.4 187.1 94.8Z" stroke="#fbcd2d"/>
<path d="M172.6 109.3L175.5 106.6 171 106.3 168.1 109.2Z" stroke="#e1b952"/>
<path d="M150.7 128.5L153.6 125.2 149.1 125.6 146.2 129.1Z" stroke="#91be72"/>
<path d="M207.7 84.8L210.6 82 206.1 80.2 203.2 83.2Z" stroke="#f4eb18"/>
<path d="M188.7 99.1L191.6 95.9 187.1 94.8 184.2 98Z" stroke="#fec337"/>
<path d="M220.9 80.1L223.8 81.8 219.3 79.5 216.4 78Z" stroke="#f6f213"/>
<path d="M169.7 112.1L172.6 109.3 168.1 109.2 165.2 112.1Z" stroke="#d8ba55"/>
<path d="M147.8 131.7L150.7 128.5 146.2 129.1 143.3 132.5Z" stroke="#87bf76"/>
<path d="M204.8 87.6L207.7 84.8 203.2 83.2 200.3 86.2Z" stroke="#f4e41c"/>
<path d="M185.8 102L188.7 99.1 184.2 98 181.3 101.1Z" stroke="#fdbe3d"/>
<path d="M280.4 154.3L283.3 163.5 278.7 160.9 275.8 151.8Z" stroke="#0faeb8"/>
<path d="M228.4 84.1L231.3 89.7 226.7 87.4 223.8 81.8Z" stroke="#f4e41c"/>
<path d="M166.8 114.9L169.7 112.1 165.2 112.1 162.3 115.2Z" stroke="#d0ba59"/>
<path d="M272.9 143.3L275.8 151.8 271.3 149.2 268.4 140.7Z" stroke="#37b89d"/>
<path d="M144.9 135L147.8 131.7 143.3 132.5 140.4 136Z" stroke="#7cbf7b"/>
<path d="M265.5 132.7L268.4 140.7 263.9 138.2 261 130.2Z" stroke="#70be80"/>
<path d="M235.8 92.1L238.7 99.6 234.2 97.2 231.3 89.7Z" stroke="#fbcd2d"/>
<path d="M258.1 122.4L261 130.2 256.4 127.7 253.5 119.9Z" stroke="#a5be6a"/>
<path d="M243.2 102L246.1 109.7 241.6 107.3 238.7 99.6Z" stroke="#f0b949"/>
<path d="M250.6 112.1L253.5 119.9 249 117.5 246.1 109.7Z" stroke="#c8bb5c"/>
<path d="M201.9 90.6L204.8 87.6 200.3 86.2 197.4 89.3Z" stroke="#f5dd21"/>
<path d="M218 81.6L220.9 80.1 216.4 78 213.5 79.5Z" stroke="#f8fa0d"/>
<path d="M182.9 104.6L185.8 102 181.3 101.1 178.4 103.9Z" stroke="#f8ba43"/>
<path d="M163.9 118L166.8 114.9 162.3 115.2 159.4 118.4Z" stroke="#c8bb5c"/>
<path d="M199 93.7L201.9 90.6 197.4 89.3 194.5 92.6Z" stroke="#f9d229"/>
<path d="M180 107.1L182.9 104.6 178.4 103.9 175.5 106.6Z" stroke="#f0b949"/>
<path d="M161 121.2L163.9 118 159.4 118.4 156.5 121.8Z" stroke="#b7bc63"/>
<path d="M215.2 83.9L218 81.6 213.5 79.5 210.6 82Z" stroke="#f6f213"/>
<path d="M196.2 96.9L199 93.7 194.5 92.6 191.6 95.9Z" stroke="#fbcd2d"/>
<path d="M158.2 124.4L161 121.2 156.5 121.8 153.6 125.2Z" stroke="#aebd67"/>
<path d="M177.2 109.5L180 107.1 175.5 106.6 172.6 109.3Z" stroke="#e9b94e"/>
<path d="M225.5 82.4L228.4 84.1 223.8 81.8 220.9 80.1Z" stroke="#f6f213"/>
<path d="M212.3 86.5L215.2 83.9 210.6 82 207.7 84.8Z" stroke="#f4eb18"/>
<path d="M193.3 100L196.2 96.9 191.6 95.9 188.7 99.1Z" stroke="#fdc832"/>
<path d="M155.3 127.5L158.2 124.4 153.6 125.2 150.7 128.5Z" stroke="#a5be6a"/>
<path d="M174.3 112L177.2 109.5 172.6 109.3 169.7 112.1Z" stroke="#e1b952"/>
<path d="M209.4 89.1L212.3 86.5 207.7 84.8 204.8 87.6Z" stroke="#f4e41c"/>
<path d="M232.9 86.4L235.8 92.1 231.3 89.7 228.4 84.1Z" stroke="#f4e41c"/>
<path d="M277.5 145.8L280.4 154.3 275.8 151.8 272.9 143.3Z" stroke="#37b89d"/>
<path d="M190.4 102.7L193.3 100 188.7 99.1 185.8 102Z" stroke="#fec337"/>
<path d="M270 135.2L272.9 143.3 268.4 140.7 265.5 132.7Z" stroke="#70be80"/>
<path d="M262.6 124.9L265.5 132.7 261 130.2 258.1 122.4Z" stroke="#a5be6a"/>
<path d="M240.3 94.5L243.2 102 238.7 99.6 235.8 92.1Z" stroke="#fbcd2d"/>
<path d="M152.4 130.4L155.3 127.5 150.7 128.5 147.8 131.7Z" stroke="#9bbe6e"/>
<path d="M255.2 114.6L258.1 122.4 253.5 119.9 250.6 112.1Z" stroke="#c8bb5c"/>
<path d="M247.8 104.4L250.6 112.1 246.1 109.7 243.2 102Z" stroke="#f0b949"/>
<path d="M222.6 83.7L225.5 82.4 220.9 80.1 218 81.6Z" stroke="#f8fa0d"/>
<path d="M171.4 114.6L174.3 112 169.7 112.1 166.8 114.9Z" stroke="#d8ba55"/>
<path d="M206.5 91.9L209.4 89.1 204.8 87.6 201.9 90.6Z" stroke="#f5dd21"/>
<path d="M187.5 105.2L190.4 102.7 185.8 102 182.9 104.6Z" stroke="#fdbe3d"/>
<path d="M149.5 133.3L152.4 130.4 147.8 131.7 144.9 135Z" stroke="#87bf76"/>
<path d="M168.5 117.4L171.4 114.6 166.8 114.9 163.9 118Z" stroke="#d0ba59"/>
<path d="M203.6 94.8L206.5 91.9 201.9 90.6 199 93.7Z" stroke="#f7d825"/>
<path d="M219.7 85.8L222.6 83.7 218 81.6 215.2 83.9Z" stroke="#f6f213"/>
<path d="M184.6 107.5L187.5 105.2 182.9 104.6 180 107.1Z" stroke="#f8ba43"/>
<path d="M165.6 120.4L168.5 117.4 163.9 118 161 121.2Z" stroke="#c8bb5c"/>
<path d="M200.7 97.8L203.6 94.8 199 93.7 196.2 96.9Z" stroke="#f9d229"/>
<path d="M230 84.7L232.9 86.4 228.4 84.1 225.5 82.4Z" stroke="#f6f213"/>
<path d="M216.8 88.2L219.7 85.8 215.2 83.9 212.3 86.5Z" stroke="#f4eb18"/>
<path d="M181.7 109.7L184.6 107.5 180 107.1 177.2 109.5Z" stroke="#f0b949"/>
<path d="M162.7 123.4L165.6 120.4 161 121.2 158.2 124.4Z" stroke="#bfbc60"/>
<path d="M197.8 100.7L200.7 97.8 196.2 96.9 193.3 100Z" stroke="#fbcd2d"/>
<path d="M237.4 88.8L240.3 94.5 235.8 92.1 232.9 86.4Z" stroke="#f5dd21"/>
<path d="M213.9 90.7L216.8 88.2 212.3 86.5 209.4 89.1Z" stroke="#f4e41c"/>
<path d="M274.6 137.8L277.5 145.8 272.9 143.3 270 135.2Z" stroke="#64be85"/>
<path d="M267.1 127.4L270 135.2 265.5 132.7 262.6 124.9Z" stroke="#9bbe6e"/>
<path d="M244.9 97L247.8 104.4 243.2 102 240.3 94.5Z" stroke="#fdc832"/>
<path d="M259.7 117.1L262.6 124.9 258.1 122.4 255.2 114.6Z" stroke="#c8bb5c"/>
<path d="M252.3 106.9L255.2 114.6 250.6 112.1 247.8 104.4Z" stroke="#f0b949"/>
<path d="M178.8 112L181.7 109.7 177.2 109.5 174.3 112Z" stroke="#e9b94e"/>
<path d="M159.8 126.2L162.7 123.4 158.2 124.4 155.3 127.5Z" stroke="#aebd67"/>
<path d="M194.9 103.3L197.8 100.7 193.3 100 190.4 102.7Z" stroke="#fec337"/>
<path d="M227.1 85.8L230 84.7 225.5 82.4 222.6 83.7Z" stroke="#f8fa0d"/>
<path d="M211 93.2L213.9 90.7 209.4 89.1 206.5 91.9Z" stroke="#f5dd21"/>
<path d="M156.9 129L159.8 126.2 155.3 127.5 152.4 130.4Z" stroke="#a5be6a"/>
<path d="M175.9 114.5L178.8 112 174.3 112 171.4 114.6Z" stroke="#e1b952"/>
<path d="M192 105.6L194.9 103.3 190.4 102.7 187.5 105.2Z" stroke="#fec337"/>
<path d="M224.2 87.8L227.1 85.8 222.6 83.7 219.7 85.8Z" stroke="#f6f213"/>
<path d="M208.1 95.9L211 93.2 206.5 91.9 203.6 94.8Z" stroke="#f7d825"/>
<path d="M154 131.5L156.9 129 152.4 130.4 149.5 133.3Z" stroke="#9bbe6e"/>
<path d="M173 117.2L175.9 114.5 171.4 114.6 168.5 117.4Z" stroke="#d8ba55"/>
<path d="M189.1 107.8L192 105.6 187.5 105.2 184.6 107.5Z" stroke="#fdbe3d"/>
<path d="M234.5 87L237.4 88.8 232.9 86.4 230 84.7Z" stroke="#f6f213"/>
<path d="M205.2 98.7L208.1 95.9 203.6 94.8 200.7 97.8Z" stroke="#f9d229"/>
<path d="M221.3 90L224.2 87.8 219.7 85.8 216.8 88.2Z" stroke="#f4eb18"/>
<path d="M170.1 120L173 117.2 168.5 117.4 165.6 120.4Z" stroke="#d0ba59"/>
<path d="M186.2 109.9L189.1 107.8 184.6 107.5 181.7 109.7Z" stroke="#f8ba43"/>
<path d="M242 91.2L244.9 97 240.3 94.5 237.4 88.8Z" stroke="#f5dd21"/>
<path d="M202.3 101.4L205.2 98.7 200.7 97.8 197.8 100.7Z" stroke="#fbcd2d"/>
<path d="M271.7 130L274.6 137.8 270 135.2 267.1 127.4Z" stroke="#9bbe6e"/>
<path d="M218.4 92.2L221.3 90 216.8 88.2 213.9 90.7Z" stroke="#f4eb18"/>
<path d="M264.3 119.7L267.1 127.4 262.6 124.9 259.7 117.1Z" stroke="#c8bb5c"/>
<path d="M249.4 99.4L252.3 106.9 247.8 104.4 244.9 97Z" stroke="#fdc832"/>
<path d="M256.8 109.4L259.7 117.1 255.2 114.6 252.3 106.9Z" stroke="#f0b949"/>
<path d="M167.2 123L170.1 120 165.6 120.4 162.7 123.4Z" stroke="#c8bb5c"/>
<path d="M231.6 88L234.5 87 230 84.7 227.1 85.8Z" stroke="#f8fa0d"/>
<path d="M183.3 112.1L186.2 109.9 181.7 109.7 178.8 112Z" stroke="#f0b949"/>
<path d="M199.4 103.8L202.3 101.4 197.8 100.7 194.9 103.3Z" stroke="#fdc832"/>
<path d="M164.3 126L167.2 123 162.7 123.4 159.8 126.2Z" stroke="#bfbc60"/>
<path d="M215.5 94.6L218.4 92.2 213.9 90.7 211 93.2Z" stroke="#f4e41c"/>
<path d="M228.8 89.8L231.6 88 227.1 85.8 224.2 87.8Z" stroke="#f6f213"/>
<path d="M180.4 114.5L183.3 112.1 178.8 112 175.9 114.5Z" stroke="#e9b94e"/>
<path d="M196.5 106L199.4 103.8 194.9 103.3 192 105.6Z" stroke="#fec337"/>
<path d="M161.4 128.9L164.3 126 159.8 126.2 156.9 129Z" stroke="#b7bc63"/>
<path d="M212.6 97L215.5 94.6 211 93.2 208.1 95.9Z" stroke="#f5dd21"/>
<path d="M239.1 89.3L242 91.2 237.4 88.8 234.5 87Z" stroke="#f6f213"/>
<path d="M177.5 117.1L180.4 114.5 175.9 114.5 173 117.2Z" stroke="#e1b952"/>
<path d="M158.5 132L161.4 128.9 156.9 129 154 131.5Z" stroke="#aebd67"/>
<path d="M225.9 91.8L228.8 89.8 224.2 87.8 221.3 90Z" stroke="#f6f213"/>
<path d="M193.6 108.1L196.5 106 192 105.6 189.1 107.8Z" stroke="#fec337"/>
<path d="M209.8 99.5L212.6 97 208.1 95.9 205.2 98.7Z" stroke="#f7d825"/>
<path d="M246.5 93.6L249.4 99.4 244.9 97 242 91.2Z" stroke="#f5dd21"/>
<path d="M174.6 120L177.5 117.1 173 117.2 170.1 120Z" stroke="#d8ba55"/>
<path d="M268.8 122.3L271.7 130 267.1 127.4 264.3 119.7Z" stroke="#c8bb5c"/>
<path d="M253.9 101.9L256.8 109.4 252.3 106.9 249.4 99.4Z" stroke="#fdc832"/>
<path d="M261.4 112L264.3 119.7 259.7 117.1 256.8 109.4Z" stroke="#e9b94e"/>
<path d="M223 93.8L225.9 91.8 221.3 90 218.4 92.2Z" stroke="#f4eb18"/>
<path d="M190.8 110.1L193.6 108.1 189.1 107.8 186.2 109.9Z" stroke="#fdbe3d"/>
<path d="M206.9 102L209.8 99.5 205.2 98.7 202.3 101.4Z" stroke="#f9d229"/>
<path d="M236.2 90.2L239.1 89.3 234.5 87 231.6 88Z" stroke="#f6f213"/>
<path d="M171.8 123.1L174.6 120 170.1 120 167.2 123Z" stroke="#d0ba59"/>
<path d="M204 104.3L206.9 102 202.3 101.4 199.4 103.8Z" stroke="#fbcd2d"/>
<path d="M220.1 95.9L223 93.8 218.4 92.2 215.5 94.6Z" stroke="#f4e41c"/>
<path d="M187.9 112.2L190.8 110.1 186.2 109.9 183.3 112.1Z" stroke="#f8ba43"/>
<path d="M168.9 126.3L171.8 123.1 167.2 123 164.3 126Z" stroke="#c8bb5c"/>
<path d="M233.3 91.8L236.2 90.2 231.6 88 228.8 89.8Z" stroke="#f6f213"/>
<path d="M201.1 106.3L204 104.3 199.4 103.8 196.5 106Z" stroke="#fdc832"/>
<path d="M217.2 98.1L220.1 95.9 215.5 94.6 212.6 97Z" stroke="#f5dd21"/>
<path d="M185 114.6L187.9 112.2 183.3 112.1 180.4 114.5Z" stroke="#f0b949"/>
<path d="M243.6 91.7L246.5 93.6 242 91.2 239.1 89.3Z" stroke="#f6f213"/>
<path d="M166 129.7L168.9 126.3 164.3 126 161.4 128.9Z" stroke="#bfbc60"/>
<path d="M230.4 93.6L233.3 91.8 228.8 89.8 225.9 91.8Z" stroke="#f6f213"/>
<path d="M163.1 133.4L166 129.7 161.4 128.9 158.5 132Z" stroke="#b7bc63"/>
<path d="M182.1 117.2L185 114.6 180.4 114.5 177.5 117.1Z" stroke="#f0b949"/>
<path d="M214.3 100.4L217.2 98.1 212.6 97 209.8 99.5Z" stroke="#f7d825"/>
<path d="M198.2 108.3L201.1 106.3 196.5 106 193.6 108.1Z" stroke="#fdc832"/>
<path d="M251 96.1L253.9 101.9 249.4 99.4 246.5 93.6Z" stroke="#f5dd21"/>
<path d="M265.9 114.6L268.8 122.3 264.3 119.7 261.4 112Z" stroke="#e9b94e"/>
<path d="M258.5 104.5L261.4 112 256.8 109.4 253.9 101.9Z" stroke="#fdc832"/>
<path d="M227.5 95.4L230.4 93.6 225.9 91.8 223 93.8Z" stroke="#f4eb18"/>
<path d="M240.7 92.4L243.6 91.7 239.1 89.3 236.2 90.2Z" stroke="#f6f213"/>
<path d="M179.2 120.2L182.1 117.2 177.5 117.1 174.6 120Z" stroke="#e9b94e"/>
<path d="M211.4 102.6L214.3 100.4 209.8 99.5 206.9 102Z" stroke="#f7d825"/>
<path d="M195.3 110.3L198.2 108.3 193.6 108.1 190.8 110.1Z" stroke="#fec337"/>
<path d="M176.3 123.4L179.2 120.2 174.6 120 171.8 123.1Z" stroke="#d8ba55"/>
<path d="M224.6 97.2L227.5 95.4 223 93.8 220.1 95.9Z" stroke="#f4e41c"/>
<path d="M208.5 104.7L211.4 102.6 206.9 102 204 104.3Z" stroke="#f9d229"/>
<path d="M237.8 93.8L240.7 92.4 236.2 90.2 233.3 91.8Z" stroke="#f6f213"/>
<path d="M192.4 112.3L195.3 110.3 190.8 110.1 187.9 112.2Z" stroke="#fdbe3d"/>
<path d="M173.4 126.9L176.3 123.4 171.8 123.1 168.9 126.3Z" stroke="#d0ba59"/>
<path d="M248.1 94.1L251 96.1 246.5 93.6 243.6 91.7Z" stroke="#f4eb18"/>
<path d="M221.7 99.2L224.6 97.2 220.1 95.9 217.2 98.1Z" stroke="#f4e41c"/>
<path d="M205.6 106.7L208.5 104.7 204 104.3 201.1 106.3Z" stroke="#fbcd2d"/>
<path d="M170.5 130.8L173.4 126.9 168.9 126.3 166 129.7Z" stroke="#c8bb5c"/>
<path d="M189.5 114.7L192.4 112.3 187.9 112.2 185 114.6Z" stroke="#fdbe3d"/>
<path d="M234.9 95.4L237.8 93.8 233.3 91.8 230.4 93.6Z" stroke="#f6f213"/>
<path d="M255.6 98.7L258.5 104.5 253.9 101.9 251 96.1Z" stroke="#f5dd21"/>
<path d="M167.6 135.1L170.5 130.8 166 129.7 163.1 133.4Z" stroke="#b7bc63"/>
<path d="M263 107.1L265.9 114.6 261.4 112 258.5 104.5Z" stroke="#fdc832"/>
<path d="M218.8 101.3L221.7 99.2 217.2 98.1 214.3 100.4Z" stroke="#f5dd21"/>
<path d="M202.7 108.6L205.6 106.7 201.1 106.3 198.2 108.3Z" stroke="#fbcd2d"/>
<path d="M186.6 117.3L189.5 114.7 185 114.6 182.1 117.2Z" stroke="#f8ba43"/>
<path d="M245.3 94.7L248.1 94.1 243.6 91.7 240.7 92.4Z" stroke="#f6f213"/>
<path d="M232 96.9L234.9 95.4 230.4 93.6 227.5 95.4Z" stroke="#f4eb18"/>
<path d="M215.9 103.3L218.8 101.3 214.3 100.4 211.4 102.6Z" stroke="#f7d825"/>
<path d="M183.7 120.4L186.6 117.3 182.1 117.2 179.2 120.2Z" stroke="#f0b949"/>
<path d="M199.8 110.5L202.7 108.6 198.2 108.3 195.3 110.3Z" stroke="#fdc832"/>
<path d="M229.1 98.6L232 96.9 227.5 95.4 224.6 97.2Z" stroke="#f4eb18"/>
<path d="M242.4 95.9L245.3 94.7 240.7 92.4 237.8 93.8Z" stroke="#f6f213"/>
<path d="M180.8 123.8L183.7 120.4 179.2 120.2 176.3 123.4Z" stroke="#e1b952"/>
<path d="M213 105.2L215.9 103.3 211.4 102.6 208.5 104.7Z" stroke="#f7d825"/>
<path d="M252.7 96.6L255.6 98.7 251 96.1 248.1 94.1Z" stroke="#f4eb18"/>
<path d="M196.9 112.5L199.8 110.5 195.3 110.3 192.4 112.3Z" stroke="#fec337"/>
<path d="M177.9 127.6L180.8 123.8 176.3 123.4 173.4 126.9Z" stroke="#d8ba55"/>
<path d="M226.3 100.3L229.1 98.6 224.6 97.2 221.7 99.2Z" stroke="#f4e41c"/>
<path d="M239.5 97.1L242.4 95.9 237.8 93.8 234.9 95.4Z" stroke="#f6f213"/>
<path d="M175 132L177.9 127.6 173.4 126.9 170.5 130.8Z" stroke="#c8bb5c"/>
<path d="M210.1 107.1L213 105.2 208.5 104.7 205.6 106.7Z" stroke="#f9d229"/>
<path d="M260.1 101.3L263 107.1 258.5 104.5 255.6 98.7Z" stroke="#f5dd21"/>
<path d="M194 114.8L196.9 112.5 192.4 112.3 189.5 114.7Z" stroke="#fec337"/>
<path d="M172.1 136.8L175 132 170.5 130.8 167.6 135.1Z" stroke="#b7bc63"/>
<path d="M223.4 102.1L226.3 100.3 221.7 99.2 218.8 101.3Z" stroke="#f4e41c"/>
<path d="M249.8 97L252.7 96.6 248.1 94.1 245.3 94.7Z" stroke="#f6f213"/>
<path d="M236.6 98.5L239.5 97.1 234.9 95.4 232 96.9Z" stroke="#f6f213"/>
<path d="M207.3 108.8L210.1 107.1 205.6 106.7 202.7 108.6Z" stroke="#f9d229"/>
<path d="M191.1 117.4L194 114.8 189.5 114.7 186.6 117.3Z" stroke="#fdbe3d"/>
<path d="M220.5 104L223.4 102.1 218.8 101.3 215.9 103.3Z" stroke="#f5dd21"/>
<path d="M188.3 120.6L191.1 117.4 186.6 117.3 183.7 120.4Z" stroke="#f8ba43"/>
<path d="M204.4 110.6L207.3 108.8 202.7 108.6 199.8 110.5Z" stroke="#fbcd2d"/>
<path d="M246.9 97.9L249.8 97 245.3 94.7 242.4 95.9Z" stroke="#f6f213"/>
<path d="M233.7 99.9L236.6 98.5 232 96.9 229.1 98.6Z" stroke="#f4eb18"/>
<path d="M257.2 99.1L260.1 101.3 255.6 98.7 252.7 96.6Z" stroke="#f4eb18"/>
<path d="M185.4 124.2L188.3 120.6 183.7 120.4 180.8 123.8Z" stroke="#e9b94e"/>
<path d="M217.6 105.8L220.5 104 215.9 103.3 213 105.2Z" stroke="#f7d825"/>
<path d="M201.5 112.6L204.4 110.6 199.8 110.5 196.9 112.5Z" stroke="#fdc832"/>
<path d="M182.5 128.3L185.4 124.2 180.8 123.8 177.9 127.6Z" stroke="#e1b952"/>
<path d="M230.8 101.4L233.7 99.9 229.1 98.6 226.3 100.3Z" stroke="#f4eb18"/>
<path d="M244 98.9L246.9 97.9 242.4 95.9 239.5 97.1Z" stroke="#f6f213"/>
<path d="M179.6 133.1L182.5 128.3 177.9 127.6 175 132Z" stroke="#d0ba59"/>
<path d="M214.7 107.4L217.6 105.8 213 105.2 210.1 107.1Z" stroke="#f7d825"/>
<path d="M176.7 138.5L179.6 133.1 175 132 172.1 136.8Z" stroke="#bfbc60"/>
<path d="M198.6 114.8L201.5 112.6 196.9 112.5 194 114.8Z" stroke="#fdc832"/>
<path d="M254.3 99.3L257.2 99.1 252.7 96.6 249.8 97Z" stroke="#f6f213"/>
<path d="M227.9 103L230.8 101.4 226.3 100.3 223.4 102.1Z" stroke="#f4e41c"/>
<path d="M241.1 100L244 98.9 239.5 97.1 236.6 98.5Z" stroke="#f6f213"/>
<path d="M211.8 109.1L214.7 107.4 210.1 107.1 207.3 108.8Z" stroke="#f9d229"/>
<path d="M195.7 117.5L198.6 114.8 194 114.8 191.1 117.4Z" stroke="#fec337"/>
<path d="M225 104.7L227.9 103 223.4 102.1 220.5 104Z" stroke="#f4e41c"/>
<path d="M251.4 100L254.3 99.3 249.8 97 246.9 97.9Z" stroke="#f6f213"/>
<path d="M238.2 101.2L241.1 100 236.6 98.5 233.7 99.9Z" stroke="#f6f213"/>
<path d="M192.8 120.7L195.7 117.5 191.1 117.4 188.3 120.6Z" stroke="#fdbe3d"/>
<path d="M208.9 110.8L211.8 109.1 207.3 108.8 204.4 110.6Z" stroke="#f9d229"/>
<path d="M189.9 124.4L192.8 120.7 188.3 120.6 185.4 124.2Z" stroke="#f0b949"/>
<path d="M222.1 106.3L225 104.7 220.5 104 217.6 105.8Z" stroke="#f5dd21"/>
<path d="M248.5 100.7L251.4 100 246.9 97.9 244 98.9Z" stroke="#f6f213"/>
<path d="M235.3 102.5L238.2 101.2 233.7 99.9 230.8 101.4Z" stroke="#f4eb18"/>
<path d="M206 112.7L208.9 110.8 204.4 110.6 201.5 112.6Z" stroke="#fbcd2d"/>
<path d="M187 128.8L189.9 124.4 185.4 124.2 182.5 128.3Z" stroke="#e9b94e"/>
<path d="M184.1 134L187 128.8 182.5 128.3 179.6 133.1Z" stroke="#d8ba55"/>
<path d="M181.2 140L184.1 134 179.6 133.1 176.7 138.5Z" stroke="#bfbc60"/>
<path d="M219.2 107.8L222.1 106.3 217.6 105.8 214.7 107.4Z" stroke="#f5dd21"/>
<path d="M203.1 114.9L206 112.7 201.5 112.6 198.6 114.8Z" stroke="#fbcd2d"/>
<path d="M232.4 103.9L235.3 102.5 230.8 101.4 227.9 103Z" stroke="#f4eb18"/>
<path d="M245.6 101.6L248.5 100.7 244 98.9 241.1 100Z" stroke="#f6f213"/>
<path d="M216.3 109.4L219.2 107.8 214.7 107.4 211.8 109.1Z" stroke="#f7d825"/>
<path d="M200.2 117.5L203.1 114.9 198.6 114.8 195.7 117.5Z" stroke="#fdc832"/>
<path d="M229.5 105.3L232.4 103.9 227.9 103 225 104.7Z" stroke="#f4e41c"/>
<path d="M242.7 102.5L245.6 101.6 241.1 100 238.2 101.2Z" stroke="#f6f213"/>
<path d="M197.3 120.7L200.2 117.5 195.7 117.5 192.8 120.7Z" stroke="#fec337"/>
<path d="M213.4 111L216.3 109.4 211.8 109.1 208.9 110.8Z" stroke="#f7d825"/>
<path d="M226.6 106.8L229.5 105.3 225 104.7 222.1 106.3Z" stroke="#f4e41c"/>
<path d="M194.4 124.6L197.3 120.7 192.8 120.7 189.9 124.4Z" stroke="#f8ba43"/>
<path d="M239.9 103.6L242.7 102.5 238.2 101.2 235.3 102.5Z" stroke="#f6f213"/>
<path d="M191.5 129.2L194.4 124.6 189.9 124.4 187 128.8Z" stroke="#f0b949"/>
<path d="M210.5 112.9L213.4 111 208.9 110.8 206 112.7Z" stroke="#f9d229"/>
<path d="M188.6 134.9L191.5 129.2 187 128.8 184.1 134Z" stroke="#d8ba55"/>
<path d="M185.7 141.5L188.6 134.9 184.1 134 181.2 140Z" stroke="#c8bb5c"/>
<path d="M223.7 108.2L226.6 106.8 222.1 106.3 219.2 107.8Z" stroke="#f4e41c"/>
<path d="M237 104.8L239.9 103.6 235.3 102.5 232.4 103.9Z" stroke="#f4eb18"/>
<path d="M207.6 114.9L210.5 112.9 206 112.7 203.1 114.9Z" stroke="#f9d229"/>
<path d="M220.9 109.7L223.7 108.2 219.2 107.8 216.3 109.4Z" stroke="#f5dd21"/>
<path d="M204.7 117.5L207.6 114.9 203.1 114.9 200.2 117.5Z" stroke="#fbcd2d"/>
<path d="M234.1 106L237 104.8 232.4 103.9 229.5 105.3Z" stroke="#f4eb18"/>
<path d="M201.9 120.7L204.7 117.5 200.2 117.5 197.3 120.7Z" stroke="#fdc832"/>
<path d="M218 111.3L220.9 109.7 216.3 109.4 213.4 111Z" stroke="#f5dd21"/>
<path d="M231.2 107.3L234.1 106 229.5 105.3 226.6 106.8Z" stroke="#f4eb18"/>
<path d="M199 124.7L201.9 120.7 197.3 120.7 194.4 124.6Z" stroke="#fdbe3d"/>
<path d="M196.1 129.6L199 124.7 194.4 124.6 191.5 129.2Z" stroke="#f8ba43"/>
<path d="M215.1 113L218 111.3 213.4 111 210.5 112.9Z" stroke="#f7d825"/>
<path d="M190.3 143L193.2 135.7 188.6 134.9 185.7 141.5Z" stroke="#c8bb5c"/>
<path d="M193.2 135.7L196.1 129.6 191.5 129.2 188.6 134.9Z" stroke="#e1b952"/>
<path d="M228.3 108.6L231.2 107.3 226.6 106.8 223.7 108.2Z" stroke="#f4eb18"/>
<path d="M212.2 115L215.1 113 210.5 112.9 207.6 114.9Z" stroke="#f7d825"/>
<path d="M225.4 110L228.3 108.6 223.7 108.2 220.9 109.7Z" stroke="#f4e41c"/>
<path d="M209.3 117.5L212.2 115 207.6 114.9 204.7 117.5Z" stroke="#f9d229"/>
<path d="M206.4 120.8L209.3 117.5 204.7 117.5 201.9 120.7Z" stroke="#fbcd2d"/>
<path d="M222.5 111.5L225.4 110 220.9 109.7 218 111.3Z" stroke="#f4e41c"/>
<path d="M203.5 124.8L206.4 120.8 201.9 120.7 199 124.7Z" stroke="#fec337"/>
<path d="M194.8 144.5L197.7 136.6 193.2 135.7 190.3 143Z" stroke="#d0ba59"/>
<path d="M200.6 129.9L203.5 124.8 199 124.7 196.1 129.6Z" stroke="#fdbe3d"/>
<path d="M219.6 113.1L222.5 111.5 218 111.3 215.1 113Z" stroke="#f5dd21"/>
<path d="M197.7 136.6L200.6 129.9 196.1 129.6 193.2 135.7Z" stroke="#e9b94e"/>
<path d="M216.7 115.1L219.6 113.1 215.1 113 212.2 115Z" stroke="#f5dd21"/>
<path d="M213.8 117.5L216.7 115.1 212.2 115 209.3 117.5Z" stroke="#f7d825"/>
<path d="M210.9 120.8L213.8 117.5 209.3 117.5 206.4 120.8Z" stroke="#f9d229"/>
<path d="M208 124.9L210.9 120.8 206.4 120.8 203.5 124.8Z" stroke="#fbcd2d"/>
<path d="M199.3 146L202.2 137.3 197.7 136.6 194.8 144.5Z" stroke="#d0ba59"/>
<path d="M205.1 130.2L208 124.9 203.5 124.8 200.6 129.9Z" stroke="#fec337"/>
<path d="M202.2 137.3L205.1 130.2 200.6 129.9 197.7 136.6Z" stroke="#f0b949"/>
</g>
<g fill="#fff" stroke-width="0.75" stroke-linejoin="round">
<path d="M201.1 311.2L204.5 306.2 200 304.1 196.7 308.9Z" stroke="#f4e41c"/>
<path d="M197.8 316.1L201.1 311.2 196.7 308.9 193.3 313.8Z" stroke="#f7d825"/>
<path d="M194.5 321.1L197.8 316.1 193.3 313.8 190 318.8Z" stroke="#fdc832"/>
<path d="M191.2 326.2L194.5 321.1 190 318.8 186.7 323.8Z" stroke="#fdbe3d"/>
<path d="M187.8 331.6L191.2 326.2 186.7 323.8 183.4 329.1Z" stroke="#e9b94e"/>
<path d="M184.5 337.3L187.8 331.6 183.4 329.1 180 334.8Z" stroke="#d8ba55"/>
<path d="M181.2 343.1L184.5 337.3 180 334.8 176.7 340.5Z" stroke="#bfbc60"/>
<path d="M177.9 348.8L181.2 343.1 176.7 340.5 173.4 346.1Z" stroke="#a5be6a"/>
<path d="M205.6 313.4L209 308.4 204.5 306.2 201.1 311.2Z" stroke="#f4e41c"/>
<path d="M174.5 354.5L177.9 348.8 173.4 346.1 170.1 351.7Z" stroke="#87bf76"/>
<path d="M171.2 359.5L174.5 354.5 170.1 351.7 166.7 356.6Z" stroke="#70be80"/>
<path d="M202.3 318.4L205.6 313.4 201.1 311.2 197.8 316.1Z" stroke="#f7d825"/>
<path d="M167.9 364.5L171.2 359.5 166.7 356.6 163.4 361.6Z" stroke="#4dbc91"/>
<path d="M199 323.4L202.3 318.4 197.8 316.1 194.5 321.1Z" stroke="#fdc832"/>
<path d="M164.6 369.6L167.9 364.5 163.4 361.6 160.1 366.6Z" stroke="#37b89d"/>
<path d="M195.7 328.5L199 323.4 194.5 321.1 191.2 326.2Z" stroke="#fdbe3d"/>
<path d="M192.3 334L195.7 328.5 191.2 326.2 187.8 331.6Z" stroke="#e9b94e"/>
<path d="M161.3 374.3L164.6 369.6 160.1 366.6 156.8 371.3Z" stroke="#25b4a9"/>
<path d="M189 339.8L192.3 334 187.8 331.6 184.5 337.3Z" stroke="#d0ba59"/>
<path d="M157.9 378.7L161.3 374.3 156.8 371.3 153.4 375.5Z" stroke="#15b0b4"/>
<path d="M185.7 345.6L189 339.8 184.5 337.3 181.2 343.1Z" stroke="#bfbc60"/>
<path d="M182.4 351.4L185.7 345.6 181.2 343.1 177.9 348.8Z" stroke="#a5be6a"/>
<path d="M179 357.1L182.4 351.4 177.9 348.8 174.5 354.5Z" stroke="#87bf76"/>
<path d="M210.1 315.6L213.5 310.6 209 308.4 205.6 313.4Z" stroke="#f4e41c"/>
<path d="M154.6 381.7L157.9 378.7 153.4 375.5 150.1 378.3Z" stroke="#09abbd"/>
<path d="M175.7 362.2L179 357.1 174.5 354.5 171.2 359.5Z" stroke="#64be85"/>
<path d="M206.8 320.6L210.1 315.6 205.6 313.4 202.3 318.4Z" stroke="#f7d825"/>
<path d="M172.4 367.3L175.7 362.2 171.2 359.5 167.9 364.5Z" stroke="#4dbc91"/>
<path d="M203.5 325.7L206.8 320.6 202.3 318.4 199 323.4Z" stroke="#fdc832"/>
<path d="M169.1 372.4L172.4 367.3 167.9 364.5 164.6 369.6Z" stroke="#2db7a3"/>
<path d="M151.3 381.4L154.6 381.7 150.1 378.3 146.8 378.1Z" stroke="#09abbd"/>
<path d="M200.2 330.9L203.5 325.7 199 323.4 195.7 328.5Z" stroke="#fdbe3d"/>
<path d="M165.7 377.2L169.1 372.4 164.6 369.6 161.3 374.3Z" stroke="#1cb2ae"/>
<path d="M196.8 336.3L200.2 330.9 195.7 328.5 192.3 334Z" stroke="#e9b94e"/>
<path d="M193.5 342.1L196.8 336.3 192.3 334 189 339.8Z" stroke="#d0ba59"/>
<path d="M162.4 381.7L165.7 377.2 161.3 374.3 157.9 378.7Z" stroke="#0faeb8"/>
<path d="M190.2 348L193.5 342.1 189 339.8 185.7 345.6Z" stroke="#b7bc63"/>
<path d="M186.9 353.8L190.2 348 185.7 345.6 182.4 351.4Z" stroke="#a5be6a"/>
<path d="M159.1 385.4L162.4 381.7 157.9 378.7 154.6 381.7Z" stroke="#06a9c1"/>
<path d="M183.5 359.6L186.9 353.8 182.4 351.4 179 357.1Z" stroke="#87bf76"/>
<path d="M148 381L151.3 381.4 146.8 378.1 143.5 377.7Z" stroke="#09abbd"/>
<path d="M214.6 317.8L217.9 312.8 213.5 310.6 210.1 315.6Z" stroke="#f4e41c"/>
<path d="M180.2 364.8L183.5 359.6 179 357.1 175.7 362.2Z" stroke="#64be85"/>
<path d="M211.3 322.9L214.6 317.8 210.1 315.6 206.8 320.6Z" stroke="#f9d229"/>
<path d="M176.9 370L180.2 364.8 175.7 362.2 172.4 367.3Z" stroke="#4dbc91"/>
<path d="M208 328L211.3 322.9 206.8 320.6 203.5 325.7Z" stroke="#fdc832"/>
<path d="M155.8 385.1L159.1 385.4 154.6 381.7 151.3 381.4Z" stroke="#06a9c1"/>
<path d="M173.6 375.1L176.9 370 172.4 367.3 169.1 372.4Z" stroke="#2db7a3"/>
<path d="M204.6 333.1L208 328 203.5 325.7 200.2 330.9Z" stroke="#fdbe3d"/>
<path d="M170.2 380L173.6 375.1 169.1 372.4 165.7 377.2Z" stroke="#1cb2ae"/>
<path d="M144.6 380.5L148 381 143.5 377.7 140.1 377.2Z" stroke="#0faeb8"/>
<path d="M201.3 338.6L204.6 333.1 200.2 330.9 196.8 336.3Z" stroke="#e9b94e"/>
<path d="M166.9 384.6L170.2 380 165.7 377.2 162.4 381.7Z" stroke="#09abbd"/>
<path d="M198 344.4L201.3 338.6 196.8 336.3 193.5 342.1Z" stroke="#d0ba59"/>
<path d="M194.7 350.3L198 344.4 193.5 342.1 190.2 348Z" stroke="#b7bc63"/>
<path d="M191.3 356.2L194.7 350.3 190.2 348 186.9 353.8Z" stroke="#9bbe6e"/>
<path d="M163.6 388.7L166.9 384.6 162.4 381.7 159.1 385.4Z" stroke="#06a9c1"/>
<path d="M152.4 384.6L155.8 385.1 151.3 381.4 148 381Z" stroke="#09abbd"/>
<path d="M188 362L191.3 356.2 186.9 353.8 183.5 359.6Z" stroke="#87bf76"/>
<path d="M219.1 320L222.4 315 217.9 312.8 214.6 317.8Z" stroke="#f4e41c"/>
<path d="M184.7 367.4L188 362 183.5 359.6 180.2 364.8Z" stroke="#64be85"/>
<path d="M141.3 379.9L144.6 380.5 140.1 377.2 136.8 376.6Z" stroke="#15b0b4"/>
<path d="M215.8 325.1L219.1 320 214.6 317.8 211.3 322.9Z" stroke="#f9d229"/>
<path d="M181.4 372.5L184.7 367.4 180.2 364.8 176.9 370Z" stroke="#41ba97"/>
<path d="M160.3 389L163.6 388.7 159.1 385.4 155.8 385.1Z" stroke="#05a6c6"/>
<path d="M212.5 330.2L215.8 325.1 211.3 322.9 208 328Z" stroke="#fdc832"/>
<path d="M178 377.6L181.4 372.5 176.9 370 173.6 375.1Z" stroke="#2db7a3"/>
<path d="M149.1 384.1L152.4 384.6 148 381 144.6 380.5Z" stroke="#09abbd"/>
<path d="M209.1 335.4L212.5 330.2 208 328 204.6 333.1Z" stroke="#f8ba43"/>
<path d="M174.7 382.7L178 377.6 173.6 375.1 170.2 380Z" stroke="#15b0b4"/>
<path d="M205.8 340.8L209.1 335.4 204.6 333.1 201.3 338.6Z" stroke="#e9b94e"/>
<path d="M138 379.2L141.3 379.9 136.8 376.6 133.5 375.9Z" stroke="#1cb2ae"/>
<path d="M171.4 387.4L174.7 382.7 170.2 380 166.9 384.6Z" stroke="#09abbd"/>
<path d="M202.5 346.6L205.8 340.8 201.3 338.6 198 344.4Z" stroke="#d0ba59"/>
<path d="M199.2 352.5L202.5 346.6 198 344.4 194.7 350.3Z" stroke="#b7bc63"/>
<path d="M156.9 388.5L160.3 389 155.8 385.1 152.4 384.6Z" stroke="#06a9c1"/>
<path d="M168.1 391.6L171.4 387.4 166.9 384.6 163.6 388.7Z" stroke="#05a6c6"/>
<path d="M195.8 358.4L199.2 352.5 194.7 350.3 191.3 356.2Z" stroke="#9bbe6e"/>
<path d="M192.5 364.3L195.8 358.4 191.3 356.2 188 362Z" stroke="#7cbf7b"/>
<path d="M145.8 383.4L149.1 384.1 144.6 380.5 141.3 379.9Z" stroke="#0faeb8"/>
<path d="M223.6 322.2L226.9 317.2 222.4 315 219.1 320Z" stroke="#f4e41c"/>
<path d="M189.2 369.9L192.5 364.3 188 362 184.7 367.4Z" stroke="#64be85"/>
<path d="M164.8 393.2L168.1 391.6 163.6 388.7 160.3 389Z" stroke="#05a3c9"/>
<path d="M220.3 327.3L223.6 322.2 219.1 320 215.8 325.1Z" stroke="#f9d229"/>
<path d="M185.9 374.9L189.2 369.9 184.7 367.4 181.4 372.5Z" stroke="#41ba97"/>
<path d="M134.7 378.4L138 379.2 133.5 375.9 130.2 375.2Z" stroke="#25b4a9"/>
<path d="M217 332.4L220.3 327.3 215.8 325.1 212.5 330.2Z" stroke="#fdc832"/>
<path d="M182.5 380.1L185.9 374.9 181.4 372.5 178 377.6Z" stroke="#2db7a3"/>
<path d="M153.6 387.9L156.9 388.5 152.4 384.6 149.1 384.1Z" stroke="#06a9c1"/>
<path d="M213.6 337.6L217 332.4 212.5 330.2 209.1 335.4Z" stroke="#f8ba43"/>
<path d="M179.2 385.2L182.5 380.1 178 377.6 174.7 382.7Z" stroke="#15b0b4"/>
<path d="M142.5 382.7L145.8 383.4 141.3 379.9 138 379.2Z" stroke="#15b0b4"/>
<path d="M210.3 343L213.6 337.6 209.1 335.4 205.8 340.8Z" stroke="#e9b94e"/>
<path d="M175.9 390.1L179.2 385.2 174.7 382.7 171.4 387.4Z" stroke="#09abbd"/>
<path d="M161.4 392.7L164.8 393.2 160.3 389 156.9 388.5Z" stroke="#05a3c9"/>
<path d="M207 348.8L210.3 343 205.8 340.8 202.5 346.6Z" stroke="#d0ba59"/>
<path d="M131.3 377.6L134.7 378.4 130.2 375.2 126.8 374.4Z" stroke="#2db7a3"/>
<path d="M203.7 354.7L207 348.8 202.5 346.6 199.2 352.5Z" stroke="#b7bc63"/>
<path d="M172.6 394.5L175.9 390.1 171.4 387.4 168.1 391.6Z" stroke="#05a6c6"/>
<path d="M200.3 360.6L203.7 354.7 199.2 352.5 195.8 358.4Z" stroke="#9bbe6e"/>
<path d="M150.3 387.3L153.6 387.9 149.1 384.1 145.8 383.4Z" stroke="#09abbd"/>
<path d="M197 366.5L200.3 360.6 195.8 358.4 192.5 364.3Z" stroke="#7cbf7b"/>
<path d="M228.1 324.8L231.4 319.6 226.9 317.2 223.6 322.2Z" stroke="#f4e41c"/>
<path d="M193.7 372.3L197 366.5 192.5 364.3 189.2 369.9Z" stroke="#58bd8b"/>
<path d="M169.2 397.5L172.6 394.5 168.1 391.6 164.8 393.2Z" stroke="#06a0cc"/>
<path d="M139.1 381.9L142.5 382.7 138 379.2 134.7 378.4Z" stroke="#1cb2ae"/>
<path d="M224.8 330L228.1 324.8 223.6 322.2 220.3 327.3Z" stroke="#f9d229"/>
<path d="M190.4 377.4L193.7 372.3 189.2 369.9 185.9 374.9Z" stroke="#41ba97"/>
<path d="M158.1 392.1L161.4 392.7 156.9 388.5 153.6 387.9Z" stroke="#05a6c6"/>
<path d="M221.4 335.4L224.8 330 220.3 327.3 217 332.4Z" stroke="#fdc832"/>
<path d="M187 382.6L190.4 377.4 185.9 374.9 182.5 380.1Z" stroke="#25b4a9"/>
<path d="M128 376.7L131.3 377.6 126.8 374.4 123.5 373.6Z" stroke="#37b89d"/>
<path d="M218.1 340.7L221.4 335.4 217 332.4 213.6 337.6Z" stroke="#f8ba43"/>
<path d="M183.7 387.7L187 382.6 182.5 380.1 179.2 385.2Z" stroke="#15b0b4"/>
<path d="M147 386.5L150.3 387.3 145.8 383.4 142.5 382.7Z" stroke="#0faeb8"/>
<path d="M165.9 397L169.2 397.5 164.8 393.2 161.4 392.7Z" stroke="#06a0cc"/>
<path d="M214.8 346.1L218.1 340.7 213.6 337.6 210.3 343Z" stroke="#e1b952"/>
<path d="M180.4 392.7L183.7 387.7 179.2 385.2 175.9 390.1Z" stroke="#06a9c1"/>
<path d="M211.5 352.1L214.8 346.1 210.3 343 207 348.8Z" stroke="#d0ba59"/>
<path d="M135.8 381L139.1 381.9 134.7 378.4 131.3 377.6Z" stroke="#25b4a9"/>
<path d="M208.1 358.2L211.5 352.1 207 348.8 203.7 354.7Z" stroke="#b7bc63"/>
<path d="M154.8 391.3L158.1 392.1 153.6 387.9 150.3 387.3Z" stroke="#06a9c1"/>
<path d="M177.1 397.3L180.4 392.7 175.9 390.1 172.6 394.5Z" stroke="#05a3c9"/>
<path d="M204.8 364.3L208.1 358.2 203.7 354.7 200.3 360.6Z" stroke="#9bbe6e"/>
<path d="M201.5 370.4L204.8 364.3 200.3 360.6 197 366.5Z" stroke="#7cbf7b"/>
<path d="M124.7 375.9L128 376.7 123.5 373.6 120.2 372.7Z" stroke="#41ba97"/>
<path d="M198.2 376.4L201.5 370.4 197 366.5 193.7 372.3Z" stroke="#58bd8b"/>
<path d="M173.7 401.3L177.1 397.3 172.6 394.5 169.2 397.5Z" stroke="#069ccf"/>
<path d="M232.6 327.7L235.9 322.3 231.4 319.6 228.1 324.8Z" stroke="#f5dd21"/>
<path d="M143.6 385.6L147 386.5 142.5 382.7 139.1 381.9Z" stroke="#15b0b4"/>
<path d="M162.6 396.4L165.9 397 161.4 392.7 158.1 392.1Z" stroke="#05a3c9"/>
<path d="M194.8 381.9L198.2 376.4 193.7 372.3 190.4 377.4Z" stroke="#37b89d"/>
<path d="M229.3 333.2L232.6 327.7 228.1 324.8 224.8 330Z" stroke="#f9d229"/>
<path d="M191.5 387.2L194.8 381.9 190.4 377.4 187 382.6Z" stroke="#1cb2ae"/>
<path d="M225.9 338.8L229.3 333.2 224.8 330 221.4 335.4Z" stroke="#fec337"/>
<path d="M132.5 380.1L135.8 381 131.3 377.6 128 376.7Z" stroke="#2db7a3"/>
<path d="M151.5 390.5L154.8 391.3 150.3 387.3 147 386.5Z" stroke="#09abbd"/>
<path d="M188.2 392.6L191.5 387.2 187 382.6 183.7 387.7Z" stroke="#0faeb8"/>
<path d="M222.6 344.4L225.9 338.8 221.4 335.4 218.1 340.7Z" stroke="#f0b949"/>
<path d="M170.4 401.6L173.7 401.3 169.2 397.5 165.9 397Z" stroke="#069ccf"/>
<path d="M219.3 350L222.6 344.4 218.1 340.7 214.8 346.1Z" stroke="#e1b952"/>
<path d="M121.4 375L124.7 375.9 120.2 372.7 116.9 371.9Z" stroke="#4dbc91"/>
<path d="M184.9 397.8L188.2 392.6 183.7 387.7 180.4 392.7Z" stroke="#05a6c6"/>
<path d="M216 356.1L219.3 350 214.8 346.1 211.5 352.1Z" stroke="#c8bb5c"/>
<path d="M140.3 384.7L143.6 385.6 139.1 381.9 135.8 381Z" stroke="#1cb2ae"/>
<path d="M159.3 395.7L162.6 396.4 158.1 392.1 154.8 391.3Z" stroke="#05a6c6"/>
<path d="M212.6 362.5L216 356.1 211.5 352.1 208.1 358.2Z" stroke="#aebd67"/>
<path d="M181.5 402.8L184.9 397.8 180.4 392.7 177.1 397.3Z" stroke="#06a0cc"/>
<path d="M209.3 368.9L212.6 362.5 208.1 358.2 204.8 364.3Z" stroke="#91be72"/>
<path d="M206 375.3L209.3 368.9 204.8 364.3 201.5 370.4Z" stroke="#64be85"/>
<path d="M202.7 381.7L206 375.3 201.5 370.4 198.2 376.4Z" stroke="#41ba97"/>
<path d="M178.2 407.3L181.5 402.8 177.1 397.3 173.7 401.3Z" stroke="#0898d1"/>
<path d="M129.2 379.2L132.5 380.1 128 376.7 124.7 375.9Z" stroke="#37b89d"/>
<path d="M199.3 387.9L202.7 381.7 198.2 376.4 194.8 381.9Z" stroke="#25b4a9"/>
<path d="M148.1 389.6L151.5 390.5 147 386.5 143.6 385.6Z" stroke="#0faeb8"/>
<path d="M167.1 401L170.4 401.6 165.9 397 162.6 396.4Z" stroke="#06a0cc"/>
<path d="M237.1 330.7L240.4 325 235.9 322.3 232.6 327.7Z" stroke="#f5dd21"/>
<path d="M196 393.4L199.3 387.9 194.8 381.9 191.5 387.2Z" stroke="#15b0b4"/>
<path d="M118 374.1L121.4 375 116.9 371.9 113.5 371.1Z" stroke="#58bd8b"/>
<path d="M233.8 336.4L237.1 330.7 232.6 327.7 229.3 333.2Z" stroke="#fbcd2d"/>
<path d="M192.7 399L196 393.4 191.5 387.2 188.2 392.6Z" stroke="#06a9c1"/>
<path d="M174.9 410.1L178.2 407.3 173.7 401.3 170.4 401.6Z" stroke="#0c93d1"/>
<path d="M137 383.8L140.3 384.7 135.8 381 132.5 380.1Z" stroke="#25b4a9"/>
<path d="M230.4 342.2L233.8 336.4 229.3 333.2 225.9 338.8Z" stroke="#fdbe3d"/>
<path d="M155.9 394.8L159.3 395.7 154.8 391.3 151.5 390.5Z" stroke="#06a9c1"/>
<path d="M189.4 404.6L192.7 399 188.2 392.6 184.9 397.8Z" stroke="#06a0cc"/>
<path d="M227.1 348L230.4 342.2 225.9 338.8 222.6 344.4Z" stroke="#e9b94e"/>
<path d="M186 410.1L189.4 404.6 184.9 397.8 181.5 402.8Z" stroke="#0898d1"/>
<path d="M223.8 353.8L227.1 348 222.6 344.4 219.3 350Z" stroke="#d8ba55"/>
<path d="M125.8 378.3L129.2 379.2 124.7 375.9 121.4 375Z" stroke="#41ba97"/>
<path d="M220.5 360L223.8 353.8 219.3 350 216 356.1Z" stroke="#bfbc60"/>
<path d="M163.8 400.2L167.1 401 162.6 396.4 159.3 395.7Z" stroke="#05a3c9"/>
<path d="M144.8 388.7L148.1 389.6 143.6 385.6 140.3 384.7Z" stroke="#15b0b4"/>
<path d="M217.1 366.6L220.5 360 216 356.1 212.6 362.5Z" stroke="#a5be6a"/>
<path d="M182.7 415.3L186 410.1 181.5 402.8 178.2 407.3Z" stroke="#1389d2"/>
<path d="M213.8 373.2L217.1 366.6 212.6 362.5 209.3 368.9Z" stroke="#7cbf7b"/>
<path d="M210.5 379.9L213.8 373.2 209.3 368.9 206 375.3Z" stroke="#58bd8b"/>
<path d="M171.6 409.3L174.9 410.1 170.4 401.6 167.1 401Z" stroke="#0c93d1"/>
<path d="M207.2 386.6L210.5 379.9 206 375.3 202.7 381.7Z" stroke="#37b89d"/>
<path d="M114.7 372.6L118 374.1 113.5 371.1 110.2 369.6Z" stroke="#64be85"/>
<path d="M203.8 393.2L207.2 386.6 202.7 381.7 199.3 387.9Z" stroke="#15b0b4"/>
<path d="M179.4 420L182.7 415.3 178.2 407.3 174.9 410.1Z" stroke="#1380d5"/>
<path d="M200.5 399.5L203.8 393.2 199.3 387.9 196 393.4Z" stroke="#06a9c1"/>
<path d="M133.7 382.8L137 383.8 132.5 380.1 129.2 379.2Z" stroke="#2db7a3"/>
<path d="M152.6 393.8L155.9 394.8 151.5 390.5 148.1 389.6Z" stroke="#09abbd"/>
<path d="M197.2 405.2L200.5 399.5 196 393.4 192.7 399Z" stroke="#06a0cc"/>
<path d="M241.6 333.3L244.9 327.5 240.4 325 237.1 330.7Z" stroke="#f7d825"/>
<path d="M193.9 411.1L197.2 405.2 192.7 399 189.4 404.6Z" stroke="#0898d1"/>
<path d="M122.5 377.4L125.8 378.3 121.4 375 118 374.1Z" stroke="#4dbc91"/>
<path d="M238.2 339.3L241.6 333.3 237.1 330.7 233.8 336.4Z" stroke="#fbcd2d"/>
<path d="M190.5 416.9L193.9 411.1 189.4 404.6 186 410.1Z" stroke="#1389d2"/>
<path d="M176.1 423.6L179.4 420 174.9 410.1 171.6 409.3Z" stroke="#127cd7"/>
<path d="M160.4 399.3L163.8 400.2 159.3 395.7 155.9 394.8Z" stroke="#05a6c6"/>
<path d="M141.5 387.6L144.8 388.7 140.3 384.7 137 383.8Z" stroke="#1cb2ae"/>
<path d="M234.9 345.3L238.2 339.3 233.8 336.4 230.4 342.2Z" stroke="#fdbe3d"/>
<path d="M187.2 422.6L190.5 416.9 186 410.1 182.7 415.3Z" stroke="#127cd7"/>
<path d="M168.3 408.5L171.6 409.3 167.1 401 163.8 400.2Z" stroke="#0898d1"/>
<path d="M231.6 351.3L234.9 345.3 230.4 342.2 227.1 348Z" stroke="#e9b94e"/>
<path d="M228.3 357.3L231.6 351.3 227.1 348 223.8 353.8Z" stroke="#d0ba59"/>
<path d="M111.4 370.6L114.7 372.6 110.2 369.6 106.9 367.7Z" stroke="#7cbf7b"/>
<path d="M183.9 427.9L187.2 422.6 182.7 415.3 179.4 420Z" stroke="#0c74dc"/>
<path d="M130.3 381.8L133.7 382.8 129.2 379.2 125.8 378.3Z" stroke="#41ba97"/>
<path d="M224.9 363.6L228.3 357.3 223.8 353.8 220.5 360Z" stroke="#b7bc63"/>
<path d="M149.3 392.8L152.6 393.8 148.1 389.6 144.8 388.7Z" stroke="#0faeb8"/>
<path d="M221.6 370.4L224.9 363.6 220.5 360 217.1 366.6Z" stroke="#9bbe6e"/>
<path d="M218.3 377.3L221.6 370.4 217.1 366.6 213.8 373.2Z" stroke="#70be80"/>
<path d="M215 384.3L218.3 377.3 213.8 373.2 210.5 379.9Z" stroke="#4dbc91"/>
<path d="M180.6 432.9L183.9 427.9 179.4 420 176.1 423.6Z" stroke="#0168e1"/>
<path d="M211.6 391.2L215 384.3 210.5 379.9 207.2 386.6Z" stroke="#25b4a9"/>
<path d="M208.3 398L211.6 391.2 207.2 386.6 203.8 393.2Z" stroke="#0faeb8"/>
<path d="M205 404.8L208.3 398 203.8 393.2 200.5 399.5Z" stroke="#05a3c9"/>
<path d="M172.7 422.6L176.1 423.6 171.6 409.3 168.3 408.5Z" stroke="#1380d5"/>
<path d="M119.2 375.9L122.5 377.4 118 374.1 114.7 372.6Z" stroke="#64be85"/>
<path d="M201.7 410.7L205 404.8 200.5 399.5 197.2 405.2Z" stroke="#0898d1"/>
<path d="M157.1 398.3L160.4 399.3 155.9 394.8 152.6 393.8Z" stroke="#06a9c1"/>
<path d="M138.2 386.6L141.5 387.6 137 383.8 133.7 382.8Z" stroke="#25b4a9"/>
<path d="M198.3 416.7L201.7 410.7 197.2 405.2 193.9 411.1Z" stroke="#1389d2"/>
<path d="M177.2 437.3L180.6 432.9 176.1 423.6 172.7 422.6Z" stroke="#0262e0"/>
<path d="M164.9 407.4L168.3 408.5 163.8 400.2 160.4 399.3Z" stroke="#069ccf"/>
<path d="M195 422.8L198.3 416.7 193.9 411.1 190.5 416.9Z" stroke="#127cd7"/>
<path d="M191.7 428.7L195 422.8 190.5 416.9 187.2 422.6Z" stroke="#0c74dc"/>
<path d="M127 380.8L130.3 381.8 125.8 378.3 122.5 377.4Z" stroke="#4dbc91"/>
<path d="M246.1 335.1L249.4 329.4 244.9 327.5 241.6 333.3Z" stroke="#f7d825"/>
<path d="M108.1 368.6L111.4 370.6 106.9 367.7 103.6 365.7Z" stroke="#87bf76"/>
<path d="M146 391.7L149.3 392.8 144.8 388.7 141.5 387.6Z" stroke="#15b0b4"/>
<path d="M188.4 434.4L191.7 428.7 187.2 422.6 183.9 427.9Z" stroke="#0168e1"/>
<path d="M242.7 340.9L246.1 335.1 241.6 333.3 238.2 339.3Z" stroke="#fdc832"/>
<path d="M185 439.7L188.4 434.4 183.9 427.9 180.6 432.9Z" stroke="#1f52d3"/>
<path d="M239.4 346.8L242.7 340.9 238.2 339.3 234.9 345.3Z" stroke="#fdbe3d"/>
<path d="M169.4 421.4L172.7 422.6 168.3 408.5 164.9 407.4Z" stroke="#1484d3"/>
<path d="M236.1 352.7L239.4 346.8 234.9 345.3 231.6 351.3Z" stroke="#e9b94e"/>
<path d="M153.8 397.2L157.1 398.3 152.6 393.8 149.3 392.8Z" stroke="#09abbd"/>
<path d="M115.9 373.8L119.2 375.9 114.7 372.6 111.4 370.6Z" stroke="#70be80"/>
<path d="M134.8 385.5L138.2 386.6 133.7 382.8 130.3 381.8Z" stroke="#37b89d"/>
<path d="M181.7 444.5L185 439.7 180.6 432.9 177.2 437.3Z" stroke="#3143b9"/>
<path d="M173.9 436L177.2 437.3 172.7 422.6 169.4 421.4Z" stroke="#0168e1"/>
<path d="M232.8 358.6L236.1 352.7 231.6 351.3 228.3 357.3Z" stroke="#d0ba59"/>
<path d="M161.6 406.3L164.9 407.4 160.4 399.3 157.1 398.3Z" stroke="#06a0cc"/>
<path d="M229.4 364.8L232.8 358.6 228.3 357.3 224.9 363.6Z" stroke="#b7bc63"/>
<path d="M226.1 371.4L229.4 364.8 224.9 363.6 221.6 370.4Z" stroke="#91be72"/>
<path d="M222.8 378.2L226.1 371.4 221.6 370.4 218.3 377.3Z" stroke="#70be80"/>
<path d="M219.5 385L222.8 378.2 218.3 377.3 215 384.3Z" stroke="#41ba97"/>
<path d="M216.1 391.7L219.5 385 215 384.3 211.6 391.2Z" stroke="#25b4a9"/>
<path d="M212.8 398.5L216.1 391.7 211.6 391.2 208.3 398Z" stroke="#09abbd"/>
<path d="M209.5 405.1L212.8 398.5 208.3 398 205 404.8Z" stroke="#05a3c9"/>
<path d="M123.7 379.4L127 380.8 122.5 377.4 119.2 375.9Z" stroke="#58bd8b"/>
<path d="M142.6 390.6L146 391.7 141.5 387.6 138.2 386.6Z" stroke="#1cb2ae"/>
<path d="M206.2 410.8L209.5 405.1 205 404.8 201.7 410.7Z" stroke="#0898d1"/>
<path d="M178.4 445.4L181.7 444.5 177.2 437.3 173.9 436Z" stroke="#353cac"/>
<path d="M104.7 366.4L108.1 368.6 103.6 365.7 100.2 363.6Z" stroke="#9bbe6e"/>
<path d="M202.8 416.7L206.2 410.8 201.7 410.7 198.3 416.7Z" stroke="#1389d2"/>
<path d="M199.5 422.7L202.8 416.7 198.3 416.7 195 422.8Z" stroke="#127cd7"/>
<path d="M166.1 420L169.4 421.4 164.9 407.4 161.6 406.3Z" stroke="#1389d2"/>
<path d="M196.2 428.5L199.5 422.7 195 422.8 191.7 428.7Z" stroke="#0870de"/>
<path d="M150.5 396L153.8 397.2 149.3 392.8 146 391.7Z" stroke="#0faeb8"/>
<path d="M131.5 384.5L134.8 385.5 130.3 381.8 127 380.8Z" stroke="#41ba97"/>
<path d="M170.6 434.4L173.9 436 169.4 421.4 166.1 420Z" stroke="#046ce0"/>
<path d="M112.5 371.7L115.9 373.8 111.4 370.6 108.1 368.6Z" stroke="#87bf76"/>
<path d="M192.9 434.1L196.2 428.5 191.7 428.7 188.4 434.4Z" stroke="#0262e0"/>
<path d="M158.3 405L161.6 406.3 157.1 398.3 153.8 397.2Z" stroke="#05a3c9"/>
<path d="M250.6 336.9L253.9 331.3 249.4 329.4 246.1 335.1Z" stroke="#f7d825"/>
<path d="M189.5 439.2L192.9 434.1 188.4 434.4 185 439.7Z" stroke="#1f52d3"/>
<path d="M247.2 342.6L250.6 336.9 246.1 335.1 242.7 340.9Z" stroke="#fbcd2d"/>
<path d="M139.3 389.5L142.6 390.6 138.2 386.6 134.8 385.5Z" stroke="#2db7a3"/>
<path d="M120.4 377.2L123.7 379.4 119.2 375.9 115.9 373.8Z" stroke="#64be85"/>
<path d="M243.9 348.3L247.2 342.6 242.7 340.9 239.4 346.8Z" stroke="#fdbe3d"/>
<path d="M186.2 443.9L189.5 439.2 185 439.7 181.7 444.5Z" stroke="#353cac"/>
<path d="M175.1 443.6L178.4 445.4 173.9 436 170.6 434.4Z" stroke="#3143b9"/>
<path d="M240.6 354L243.9 348.3 239.4 346.8 236.1 352.7Z" stroke="#e9b94e"/>
<path d="M101.4 364.1L104.7 366.4 100.2 363.6 96.9 361.4Z" stroke="#aebd67"/>
<path d="M162.8 418.4L166.1 420 161.6 406.3 158.3 405Z" stroke="#108ed2"/>
<path d="M237.3 359.8L240.6 354 236.1 352.7 232.8 358.6Z" stroke="#d0ba59"/>
<path d="M147.1 394.8L150.5 396 146 391.7 142.6 390.6Z" stroke="#15b0b4"/>
<path d="M128.2 383.1L131.5 384.5 127 380.8 123.7 379.4Z" stroke="#4dbc91"/>
<path d="M233.9 365.8L237.3 359.8 232.8 358.6 229.4 364.8Z" stroke="#b7bc63"/>
<path d="M182.9 444.8L186.2 443.9 181.7 444.5 178.4 445.4Z" stroke="#36369f"/>
<path d="M230.6 372.3L233.9 365.8 229.4 364.8 226.1 371.4Z" stroke="#9bbe6e"/>
<path d="M167.3 432.5L170.6 434.4 166.1 420 162.8 418.4Z" stroke="#0870de"/>
<path d="M227.3 378.9L230.6 372.3 226.1 371.4 222.8 378.2Z" stroke="#7cbf7b"/>
<path d="M155 403.6L158.3 405 153.8 397.2 150.5 396Z" stroke="#06a9c1"/>
<path d="M224 385.5L227.3 378.9 222.8 378.2 219.5 385Z" stroke="#4dbc91"/>
<path d="M109.2 369.4L112.5 371.7 108.1 368.6 104.7 366.4Z" stroke="#9bbe6e"/>
<path d="M220.6 392.1L224 385.5 219.5 385 216.1 391.7Z" stroke="#2db7a3"/>
<path d="M217.3 398.7L220.6 392.1 216.1 391.7 212.8 398.5Z" stroke="#0faeb8"/>
<path d="M214 405.1L217.3 398.7 212.8 398.5 209.5 405.1Z" stroke="#05a6c6"/>
<path d="M136 388.3L139.3 389.5 134.8 385.5 131.5 384.5Z" stroke="#37b89d"/>
<path d="M210.7 410.7L214 405.1 209.5 405.1 206.2 410.8Z" stroke="#069ccf"/>
<path d="M207.3 416.5L210.7 410.7 206.2 410.8 202.8 416.7Z" stroke="#108ed2"/>
<path d="M171.8 441.7L175.1 443.6 170.6 434.4 167.3 432.5Z" stroke="#1f52d3"/>
<path d="M117 375L120.4 377.2 115.9 373.8 112.5 371.7Z" stroke="#7cbf7b"/>
<path d="M204 422.3L207.3 416.5 202.8 416.7 199.5 422.7Z" stroke="#1380d5"/>
<path d="M98.1 361.8L101.4 364.1 96.9 361.4 93.6 359.1Z" stroke="#bfbc60"/>
<path d="M159.4 416.7L162.8 418.4 158.3 405 155 403.6Z" stroke="#0898d1"/>
<path d="M200.7 428L204 422.3 199.5 422.7 196.2 428.5Z" stroke="#0c74dc"/>
<path d="M143.8 393.6L147.1 394.8 142.6 390.6 139.3 389.5Z" stroke="#1cb2ae"/>
<path d="M255 338.6L258.4 333.2 253.9 331.3 250.6 336.9Z" stroke="#f5dd21"/>
<path d="M179.6 443.1L182.9 444.8 178.4 445.4 175.1 443.6Z" stroke="#353cac"/>
<path d="M124.9 380.9L128.2 383.1 123.7 379.4 120.4 377.2Z" stroke="#64be85"/>
<path d="M197.4 433.4L200.7 428 196.2 428.5 192.9 434.1Z" stroke="#046ce0"/>
<path d="M251.7 344.1L255 338.6 250.6 336.9 247.2 342.6Z" stroke="#fbcd2d"/>
<path d="M163.9 430.5L167.3 432.5 162.8 418.4 159.4 416.7Z" stroke="#1078da"/>
<path d="M151.6 402.2L155 403.6 150.5 396 147.1 394.8Z" stroke="#09abbd"/>
<path d="M248.4 349.7L251.7 344.1 247.2 342.6 243.9 348.3Z" stroke="#fdbe3d"/>
<path d="M105.9 367.1L109.2 369.4 104.7 366.4 101.4 364.1Z" stroke="#aebd67"/>
<path d="M194 438.5L197.4 433.4 192.9 434.1 189.5 439.2Z" stroke="#0f5bdd"/>
<path d="M132.7 387.1L136 388.3 131.5 384.5 128.2 383.1Z" stroke="#41ba97"/>
<path d="M245.1 355.3L248.4 349.7 243.9 348.3 240.6 354Z" stroke="#e9b94e"/>
<path d="M190.7 443L194 438.5 189.5 439.2 186.2 443.9Z" stroke="#2b4ac6"/>
<path d="M241.7 360.9L245.1 355.3 240.6 354 237.3 359.8Z" stroke="#d8ba55"/>
<path d="M168.4 439.4L171.8 441.7 167.3 432.5 163.9 430.5Z" stroke="#0f5bdd"/>
<path d="M113.7 372.7L117 375 112.5 371.7 109.2 369.4Z" stroke="#91be72"/>
<path d="M238.4 366.7L241.7 360.9 237.3 359.8 233.9 365.8Z" stroke="#bfbc60"/>
<path d="M156.1 414.9L159.4 416.7 155 403.6 151.6 402.2Z" stroke="#069ccf"/>
<path d="M235.1 373.1L238.4 366.7 233.9 365.8 230.6 372.3Z" stroke="#a5be6a"/>
<path d="M140.5 392.3L143.8 393.6 139.3 389.5 136 388.3Z" stroke="#2db7a3"/>
<path d="M231.8 379.5L235.1 373.1 230.6 372.3 227.3 378.9Z" stroke="#7cbf7b"/>
<path d="M94.8 358.3L98.1 361.8 93.6 359.1 90.3 355.7Z" stroke="#d0ba59"/>
<path d="M176.2 441.2L179.6 443.1 175.1 443.6 171.8 441.7Z" stroke="#3143b9"/>
<path d="M228.4 385.9L231.8 379.5 227.3 378.9 224 385.5Z" stroke="#58bd8b"/>
<path d="M187.4 443.9L190.7 443 186.2 443.9 182.9 444.8Z" stroke="#3143b9"/>
<path d="M225.1 392.3L228.4 385.9 224 385.5 220.6 392.1Z" stroke="#37b89d"/>
<path d="M121.5 378.5L124.9 380.9 120.4 377.2 117 375Z" stroke="#70be80"/>
<path d="M148.3 400.8L151.6 402.2 147.1 394.8 143.8 393.6Z" stroke="#0faeb8"/>
<path d="M221.8 398.7L225.1 392.3 220.6 392.1 217.3 398.7Z" stroke="#1cb2ae"/>
<path d="M160.6 428.3L163.9 430.5 159.4 416.7 156.1 414.9Z" stroke="#1380d5"/>
<path d="M218.5 404.9L221.8 398.7 217.3 398.7 214 405.1Z" stroke="#06a9c1"/>
<path d="M215.1 410.5L218.5 404.9 214 405.1 210.7 410.7Z" stroke="#06a0cc"/>
<path d="M102.6 364.7L105.9 367.1 101.4 364.1 98.1 361.8Z" stroke="#b7bc63"/>
<path d="M129.3 384.7L132.7 387.1 128.2 383.1 124.9 380.9Z" stroke="#58bd8b"/>
<path d="M211.8 416.1L215.1 410.5 210.7 410.7 207.3 416.5Z" stroke="#0898d1"/>
<path d="M259.5 340.3L262.9 335 258.4 333.2 255 338.6Z" stroke="#f5dd21"/>
<path d="M208.5 421.7L211.8 416.1 207.3 416.5 204 422.3Z" stroke="#1389d2"/>
<path d="M165.1 437L168.4 439.4 163.9 430.5 160.6 428.3Z" stroke="#0168e1"/>
<path d="M256.2 345.7L259.5 340.3 255 338.6 251.7 344.1Z" stroke="#fbcd2d"/>
<path d="M110.4 370.2L113.7 372.7 109.2 369.4 105.9 367.1Z" stroke="#a5be6a"/>
<path d="M137.2 391.1L140.5 392.3 136 388.3 132.7 387.1Z" stroke="#37b89d"/>
<path d="M152.8 413L156.1 414.9 151.6 402.2 148.3 400.8Z" stroke="#05a3c9"/>
<path d="M205.2 427.2L208.5 421.7 204 422.3 200.7 428Z" stroke="#127cd7"/>
<path d="M184.1 442.3L187.4 443.9 182.9 444.8 179.6 443.1Z" stroke="#3143b9"/>
<path d="M252.9 351.1L256.2 345.7 251.7 344.1 248.4 349.7Z" stroke="#fdbe3d"/>
<path d="M201.8 432.5L205.2 427.2 200.7 428 197.4 433.4Z" stroke="#0870de"/>
<path d="M172.9 439.1L176.2 441.2 171.8 441.7 168.4 439.4Z" stroke="#1f52d3"/>
<path d="M145 399.3L148.3 400.8 143.8 393.6 140.5 392.3Z" stroke="#1cb2ae"/>
<path d="M249.6 356.5L252.9 351.1 248.4 349.7 245.1 355.3Z" stroke="#f0b949"/>
<path d="M118.2 376.1L121.5 378.5 117 375 113.7 372.7Z" stroke="#87bf76"/>
<path d="M157.3 426L160.6 428.3 156.1 414.9 152.8 413Z" stroke="#1484d3"/>
<path d="M91.4 354.2L94.8 358.3 90.3 355.7 86.9 351.7Z" stroke="#e9b94e"/>
<path d="M198.5 437.4L201.8 432.5 197.4 433.4 194 438.5Z" stroke="#0168e1"/>
<path d="M246.2 362L249.6 356.5 245.1 355.3 241.7 360.9Z" stroke="#d8ba55"/>
<path d="M242.9 367.6L246.2 362 241.7 360.9 238.4 366.7Z" stroke="#bfbc60"/>
<path d="M195.2 441.9L198.5 437.4 194 438.5 190.7 443Z" stroke="#0f5bdd"/>
<path d="M99.2 361.1L102.6 364.7 98.1 361.8 94.8 358.3Z" stroke="#d0ba59"/>
<path d="M126 382.2L129.3 384.7 124.9 380.9 121.5 378.5Z" stroke="#64be85"/>
<path d="M239.6 373.7L242.9 367.6 238.4 366.7 235.1 373.1Z" stroke="#a5be6a"/>
<path d="M236.3 380L239.6 373.7 235.1 373.1 231.8 379.5Z" stroke="#87bf76"/>
<path d="M232.9 386.2L236.3 380 231.8 379.5 228.4 385.9Z" stroke="#64be85"/>
<path d="M161.8 434.5L165.1 437 160.6 428.3 157.3 426Z" stroke="#0870de"/>
<path d="M149.5 411.1L152.8 413 148.3 400.8 145 399.3Z" stroke="#05a6c6"/>
<path d="M133.8 388.7L137.2 391.1 132.7 387.1 129.3 384.7Z" stroke="#41ba97"/>
<path d="M107.1 367.7L110.4 370.2 105.9 367.1 102.6 364.7Z" stroke="#b7bc63"/>
<path d="M229.6 392.4L232.9 386.2 228.4 385.9 225.1 392.3Z" stroke="#41ba97"/>
<path d="M180.7 440.5L184.1 442.3 179.6 443.1 176.2 441.2Z" stroke="#1f52d3"/>
<path d="M226.3 398.6L229.6 392.4 225.1 392.3 221.8 398.7Z" stroke="#25b4a9"/>
<path d="M191.9 442.7L195.2 441.9 190.7 443 187.4 443.9Z" stroke="#1f52d3"/>
<path d="M141.7 397.9L145 399.3 140.5 392.3 137.2 391.1Z" stroke="#25b4a9"/>
<path d="M223 404.7L226.3 398.6 221.8 398.7 218.5 404.9Z" stroke="#0faeb8"/>
<path d="M169.6 436.8L172.9 439.1 168.4 439.4 165.1 437Z" stroke="#0262e0"/>
<path d="M219.6 410L223 404.7 218.5 404.9 215.1 410.5Z" stroke="#05a6c6"/>
<path d="M264 342L267.3 336.9 262.9 335 259.5 340.3Z" stroke="#f5dd21"/>
<path d="M114.9 373.5L118.2 376.1 113.7 372.7 110.4 370.2Z" stroke="#9bbe6e"/>
<path d="M154 423.6L157.3 426 152.8 413 149.5 411.1Z" stroke="#108ed2"/>
<path d="M216.3 415.4L219.6 410 215.1 410.5 211.8 416.1Z" stroke="#069ccf"/>
<path d="M260.7 347.2L264 342 259.5 340.3 256.2 345.7Z" stroke="#fbcd2d"/>
<path d="M88.1 350L91.4 354.2 86.9 351.7 83.6 347.6Z" stroke="#fdbe3d"/>
<path d="M213 420.9L216.3 415.4 211.8 416.1 208.5 421.7Z" stroke="#108ed2"/>
<path d="M122.7 379.6L126 382.2 121.5 378.5 118.2 376.1Z" stroke="#7cbf7b"/>
<path d="M257.4 352.4L260.7 347.2 256.2 345.7 252.9 351.1Z" stroke="#fec337"/>
<path d="M95.9 356.9L99.2 361.1 94.8 358.3 91.4 354.2Z" stroke="#e1b952"/>
<path d="M209.7 426.2L213 420.9 208.5 421.7 205.2 427.2Z" stroke="#1484d3"/>
<path d="M146.1 409.2L149.5 411.1 145 399.3 141.7 397.9Z" stroke="#09abbd"/>
<path d="M254.1 357.7L257.4 352.4 252.9 351.1 249.6 356.5Z" stroke="#f0b949"/>
<path d="M188.5 441.3L191.9 442.7 187.4 443.9 184.1 442.3Z" stroke="#1f52d3"/>
<path d="M158.5 431.8L161.8 434.5 157.3 426 154 423.6Z" stroke="#1078da"/>
<path d="M130.5 386.1L133.8 388.7 129.3 384.7 126 382.2Z" stroke="#58bd8b"/>
<path d="M177.4 438.4L180.7 440.5 176.2 441.2 172.9 439.1Z" stroke="#0262e0"/>
<path d="M206.3 431.4L209.7 426.2 205.2 427.2 201.8 432.5Z" stroke="#1078da"/>
<path d="M103.7 364.1L107.1 367.7 102.6 364.7 99.2 361.1Z" stroke="#c8bb5c"/>
<path d="M250.7 363L254.1 357.7 249.6 356.5 246.2 362Z" stroke="#e1b952"/>
<path d="M138.3 395.6L141.7 397.9 137.2 391.1 133.8 388.7Z" stroke="#2db7a3"/>
<path d="M166.3 434.3L169.6 436.8 165.1 437 161.8 434.5Z" stroke="#046ce0"/>
<path d="M203 436.2L206.3 431.4 201.8 432.5 198.5 437.4Z" stroke="#0870de"/>
<path d="M247.4 368.4L250.7 363 246.2 362 242.9 367.6Z" stroke="#c8bb5c"/>
<path d="M150.6 421.2L154 423.6 149.5 411.1 146.1 409.2Z" stroke="#0898d1"/>
<path d="M111.6 370.9L114.9 373.5 110.4 370.2 107.1 367.7Z" stroke="#aebd67"/>
<path d="M244.1 374.4L247.4 368.4 242.9 367.6 239.6 373.7Z" stroke="#aebd67"/>
<path d="M199.7 440.5L203 436.2 198.5 437.4 195.2 441.9Z" stroke="#0168e1"/>
<path d="M240.8 380.4L244.1 374.4 239.6 373.7 236.3 380Z" stroke="#91be72"/>
<path d="M237.4 386.4L240.8 380.4 236.3 380 232.9 386.2Z" stroke="#70be80"/>
<path d="M234.1 392.4L237.4 386.4 232.9 386.2 229.6 392.4Z" stroke="#4dbc91"/>
<path d="M119.4 376.9L122.7 379.6 118.2 376.1 114.9 373.5Z" stroke="#91be72"/>
<path d="M84.8 345.6L88.1 350 83.6 347.6 80.3 343.3Z" stroke="#fbcd2d"/>
<path d="M230.8 398.4L234.1 392.4 229.6 392.4 226.3 398.6Z" stroke="#2db7a3"/>
<path d="M185.2 439.5L188.5 441.3 184.1 442.3 180.7 440.5Z" stroke="#0262e0"/>
<path d="M142.8 407.2L146.1 409.2 141.7 397.9 138.3 395.6Z" stroke="#0faeb8"/>
<path d="M268.5 343.7L271.8 338.7 267.3 336.9 264 342Z" stroke="#f5dd21"/>
<path d="M227.5 404.2L230.8 398.4 226.3 398.6 223 404.7Z" stroke="#15b0b4"/>
<path d="M196.4 441.4L199.7 440.5 195.2 441.9 191.9 442.7Z" stroke="#0262e0"/>
<path d="M174.1 436.2L177.4 438.4 172.9 439.1 169.6 436.8Z" stroke="#046ce0"/>
<path d="M155.1 429.1L158.5 431.8 154 423.6 150.6 421.2Z" stroke="#1380d5"/>
<path d="M127.2 383.4L130.5 386.1 126 382.2 122.7 379.6Z" stroke="#70be80"/>
<path d="M92.6 352.5L95.9 356.9 91.4 354.2 88.1 350Z" stroke="#f8ba43"/>
<path d="M265.2 348.7L268.5 343.7 264 342 260.7 347.2Z" stroke="#f9d229"/>
<path d="M224.1 409.4L227.5 404.2 223 404.7 219.6 410Z" stroke="#06a9c1"/>
<path d="M135 392.6L138.3 395.6 133.8 388.7 130.5 386.1Z" stroke="#4dbc91"/>
<path d="M162.9 431.7L166.3 434.3 161.8 434.5 158.5 431.8Z" stroke="#0c74dc"/>
<path d="M100.4 359.7L103.7 364.1 99.2 361.1 95.9 356.9Z" stroke="#e1b952"/>
<path d="M220.8 414.7L224.1 409.4 219.6 410 216.3 415.4Z" stroke="#05a3c9"/>
<path d="M261.9 353.7L265.2 348.7 260.7 347.2 257.4 352.4Z" stroke="#fec337"/>
<path d="M147.3 418.8L150.6 421.2 146.1 409.2 142.8 407.2Z" stroke="#06a0cc"/>
<path d="M217.5 420L220.8 414.7 216.3 415.4 213 420.9Z" stroke="#0898d1"/>
<path d="M108.2 367.2L111.6 370.9 107.1 367.7 103.7 364.1Z" stroke="#c8bb5c"/>
<path d="M258.5 358.8L261.9 353.7 257.4 352.4 254.1 357.7Z" stroke="#f8ba43"/>
<path d="M214.2 425.1L217.5 420 213 420.9 209.7 426.2Z" stroke="#1389d2"/>
<path d="M255.2 363.9L258.5 358.8 254.1 357.7 250.7 363Z" stroke="#e1b952"/>
<path d="M116 374.2L119.4 376.9 114.9 373.5 111.6 370.9Z" stroke="#aebd67"/>
<path d="M193 440L196.4 441.4 191.9 442.7 188.5 441.3Z" stroke="#0262e0"/>
<path d="M181.9 437.5L185.2 439.5 180.7 440.5 177.4 438.4Z" stroke="#0168e1"/>
<path d="M210.8 430.1L214.2 425.1 209.7 426.2 206.3 431.4Z" stroke="#1380d5"/>
<path d="M251.9 369.2L255.2 363.9 250.7 363 247.4 368.4Z" stroke="#d0ba59"/>
<path d="M139.5 403.6L142.8 407.2 138.3 395.6 135 392.6Z" stroke="#1cb2ae"/>
<path d="M170.8 433.8L174.1 436.2 169.6 436.8 166.3 434.3Z" stroke="#0870de"/>
<path d="M81.5 341.2L84.8 345.6 80.3 343.3 77 339Z" stroke="#f5dd21"/>
<path d="M151.8 426.4L155.1 429.1 150.6 421.2 147.3 418.8Z" stroke="#1389d2"/>
<path d="M248.6 374.9L251.9 369.2 247.4 368.4 244.1 374.4Z" stroke="#b7bc63"/>
<path d="M123.9 380.5L127.2 383.4 122.7 379.6 119.4 376.9Z" stroke="#91be72"/>
<path d="M207.5 434.7L210.8 430.1 206.3 431.4 203 436.2Z" stroke="#1078da"/>
<path d="M245.2 380.7L248.6 374.9 244.1 374.4 240.8 380.4Z" stroke="#9bbe6e"/>
<path d="M131.7 389.5L135 392.6 130.5 386.1 127.2 383.4Z" stroke="#64be85"/>
<path d="M89.3 348L92.6 352.5 88.1 350 84.8 345.6Z" stroke="#fbcd2d"/>
<path d="M159.6 429.1L162.9 431.7 158.5 431.8 155.1 429.1Z" stroke="#127cd7"/>
<path d="M241.9 386.5L245.2 380.7 240.8 380.4 237.4 386.4Z" stroke="#7cbf7b"/>
<path d="M204.2 438.9L207.5 434.7 203 436.2 199.7 440.5Z" stroke="#0870de"/>
<path d="M273 345.4L276.3 340.6 271.8 338.7 268.5 343.7Z" stroke="#f5dd21"/>
<path d="M144 415.4L147.3 418.8 142.8 407.2 139.5 403.6Z" stroke="#05a6c6"/>
<path d="M238.6 392.3L241.9 386.5 237.4 386.4 234.1 392.4Z" stroke="#58bd8b"/>
<path d="M97.1 355.2L100.4 359.7 95.9 356.9 92.6 352.5Z" stroke="#f8ba43"/>
<path d="M235.3 398.1L238.6 392.3 234.1 392.4 230.8 398.4Z" stroke="#37b89d"/>
<path d="M269.7 350.2L273 345.4 268.5 343.7 265.2 348.7Z" stroke="#f9d229"/>
<path d="M104.9 362.6L108.2 367.2 103.7 364.1 100.4 359.7Z" stroke="#e1b952"/>
<path d="M189.7 438.3L193 440 188.5 441.3 185.2 439.5Z" stroke="#046ce0"/>
<path d="M231.9 403.8L235.3 398.1 230.8 398.4 227.5 404.2Z" stroke="#1cb2ae"/>
<path d="M178.6 435.4L181.9 437.5 177.4 438.4 174.1 436.2Z" stroke="#0870de"/>
<path d="M112.7 370.4L116 374.2 111.6 370.9 108.2 367.2Z" stroke="#bfbc60"/>
<path d="M200.9 439.8L204.2 438.9 199.7 440.5 196.4 441.4Z" stroke="#046ce0"/>
<path d="M266.4 355.1L269.7 350.2 265.2 348.7 261.9 353.7Z" stroke="#fdc832"/>
<path d="M228.6 408.7L231.9 403.8 227.5 404.2 224.1 409.4Z" stroke="#0faeb8"/>
<path d="M167.4 431.4L170.8 433.8 166.3 434.3 162.9 431.7Z" stroke="#1078da"/>
<path d="M136.2 399.9L139.5 403.6 135 392.6 131.7 389.5Z" stroke="#37b89d"/>
<path d="M225.3 413.8L228.6 408.7 224.1 409.4 220.8 414.7Z" stroke="#05a6c6"/>
<path d="M263 359.9L266.4 355.1 261.9 353.7 258.5 358.8Z" stroke="#f8ba43"/>
<path d="M148.5 423.1L151.8 426.4 147.3 418.8 144 415.4Z" stroke="#0898d1"/>
<path d="M120.5 377.6L123.9 380.5 119.4 376.9 116 374.2Z" stroke="#a5be6a"/>
<path d="M78.1 336.6L81.5 341.2 77 339 73.6 334.5Z" stroke="#f6f213"/>
<path d="M128.4 386.4L131.7 389.5 127.2 383.4 123.9 380.5Z" stroke="#7cbf7b"/>
<path d="M222 418.9L225.3 413.8 220.8 414.7 217.5 420Z" stroke="#06a0cc"/>
<path d="M259.7 364.9L263 359.9 258.5 358.8 255.2 363.9Z" stroke="#e9b94e"/>
<path d="M156.3 426.5L159.6 429.1 155.1 429.1 151.8 426.4Z" stroke="#1484d3"/>
<path d="M86 343.4L89.3 348 84.8 345.6 81.5 341.2Z" stroke="#f5dd21"/>
<path d="M218.6 423.9L222 418.9 217.5 420 214.2 425.1Z" stroke="#0c93d1"/>
<path d="M256.4 370L259.7 364.9 255.2 363.9 251.9 369.2Z" stroke="#d0ba59"/>
<path d="M140.7 410.9L144 415.4 139.5 403.6 136.2 399.9Z" stroke="#0faeb8"/>
<path d="M186.4 436.4L189.7 438.3 185.2 439.5 181.9 437.5Z" stroke="#0870de"/>
<path d="M197.5 438.5L200.9 439.8 196.4 441.4 193 440Z" stroke="#046ce0"/>
<path d="M253.1 375.5L256.4 370 251.9 369.2 248.6 374.9Z" stroke="#bfbc60"/>
<path d="M93.8 350.5L97.1 355.2 92.6 352.5 89.3 348Z" stroke="#fdc832"/>
<path d="M215.3 428.7L218.6 423.9 214.2 425.1 210.8 430.1Z" stroke="#1389d2"/>
<path d="M175.3 433.1L178.6 435.4 174.1 436.2 170.8 433.8Z" stroke="#1078da"/>
<path d="M249.7 381L253.1 375.5 248.6 374.9 245.2 380.7Z" stroke="#a5be6a"/>
<path d="M101.6 357.9L104.9 362.6 100.4 359.7 97.1 355.2Z" stroke="#f8ba43"/>
<path d="M277.5 347.1L280.8 342.5 276.3 340.6 273 345.4Z" stroke="#f4e41c"/>
<path d="M212 433.2L215.3 428.7 210.8 430.1 207.5 434.7Z" stroke="#1380d5"/>
<path d="M246.4 386.7L249.7 381 245.2 380.7 241.9 386.5Z" stroke="#87bf76"/>
<path d="M164.1 428.9L167.4 431.4 162.9 431.7 159.6 429.1Z" stroke="#1380d5"/>
<path d="M109.4 365.7L112.7 370.4 108.2 367.2 104.9 362.6Z" stroke="#d8ba55"/>
<path d="M132.8 395.9L136.2 399.9 131.7 389.5 128.4 386.4Z" stroke="#58bd8b"/>
<path d="M243.1 392.2L246.4 386.7 241.9 386.5 238.6 392.3Z" stroke="#64be85"/>
<path d="M274.2 351.7L277.5 347.1 273 345.4 269.7 350.2Z" stroke="#f9d229"/>
<path d="M117.2 373.8L120.5 377.6 116 374.2 112.7 370.4Z" stroke="#b7bc63"/>
<path d="M208.7 437.3L212 433.2 207.5 434.7 204.2 438.9Z" stroke="#1078da"/>
<path d="M145.2 418.1L148.5 423.1 144 415.4 140.7 410.9Z" stroke="#06a0cc"/>
<path d="M239.8 397.8L243.1 392.2 238.6 392.3 235.3 398.1Z" stroke="#4dbc91"/>
<path d="M125 383L128.4 386.4 123.9 380.5 120.5 377.6Z" stroke="#91be72"/>
<path d="M153 423.3L156.3 426.5 151.8 426.4 148.5 423.1Z" stroke="#108ed2"/>
<path d="M270.8 356.4L274.2 351.7 269.7 350.2 266.4 355.1Z" stroke="#fdc832"/>
<path d="M236.4 403.2L239.8 397.8 235.3 398.1 231.9 403.8Z" stroke="#2db7a3"/>
<path d="M194.2 436.9L197.5 438.5 193 440 189.7 438.3Z" stroke="#0c74dc"/>
<path d="M183.1 434.4L186.4 436.4 181.9 437.5 178.6 435.4Z" stroke="#1078da"/>
<path d="M233.1 408L236.4 403.2 231.9 403.8 228.6 408.7Z" stroke="#15b0b4"/>
<path d="M267.5 361.1L270.8 356.4 266.4 355.1 263 359.9Z" stroke="#fdbe3d"/>
<path d="M82.6 338.7L86 343.4 81.5 341.2 78.1 336.6Z" stroke="#f6f213"/>
<path d="M205.3 438.2L208.7 437.3 204.2 438.9 200.9 439.8Z" stroke="#0c74dc"/>
<path d="M137.3 406.2L140.7 410.9 136.2 399.9 132.8 395.9Z" stroke="#25b4a9"/>
<path d="M171.9 430.8L175.3 433.1 170.8 433.8 167.4 431.4Z" stroke="#1380d5"/>
<path d="M229.8 412.9L233.1 408 228.6 408.7 225.3 413.8Z" stroke="#09abbd"/>
<path d="M264.2 365.8L267.5 361.1 263 359.9 259.7 364.9Z" stroke="#e9b94e"/>
<path d="M90.4 345.7L93.8 350.5 89.3 348 86 343.4Z" stroke="#f5dd21"/>
<path d="M160.8 426.3L164.1 428.9 159.6 429.1 156.3 426.5Z" stroke="#1389d2"/>
<path d="M226.5 417.9L229.8 412.9 225.3 413.8 222 418.9Z" stroke="#05a6c6"/>
<path d="M260.9 370.7L264.2 365.8 259.7 364.9 256.4 370Z" stroke="#d8ba55"/>
<path d="M98.3 353L101.6 357.9 97.1 355.2 93.8 350.5Z" stroke="#fdc832"/>
<path d="M129.5 391.8L132.8 395.9 128.4 386.4 125 383Z" stroke="#70be80"/>
<path d="M106.1 360.7L109.4 365.7 104.9 362.6 101.6 357.9Z" stroke="#f0b949"/>
<path d="M223.1 422.7L226.5 417.9 222 418.9 218.6 423.9Z" stroke="#069ccf"/>
<path d="M257.6 376L260.9 370.7 256.4 370 253.1 375.5Z" stroke="#c8bb5c"/>
<path d="M113.9 368.8L117.2 373.8 112.7 370.4 109.4 365.7Z" stroke="#d0ba59"/>
<path d="M282 348.6L285.3 344.3 280.8 342.5 277.5 347.1Z" stroke="#f4e41c"/>
<path d="M121.7 379.1L125 383 120.5 377.6 117.2 373.8Z" stroke="#aebd67"/>
<path d="M190.9 435.2L194.2 436.9 189.7 438.3 186.4 436.4Z" stroke="#1078da"/>
<path d="M202 436.9L205.3 438.2 200.9 439.8 197.5 438.5Z" stroke="#0c74dc"/>
<path d="M254.2 381.4L257.6 376 253.1 375.5 249.7 381Z" stroke="#aebd67"/>
<path d="M141.8 412.9L145.2 418.1 140.7 410.9 137.3 406.2Z" stroke="#09abbd"/>
<path d="M219.8 427.3L223.1 422.7 218.6 423.9 215.3 428.7Z" stroke="#0c93d1"/>
<path d="M179.7 432.3L183.1 434.4 178.6 435.4 175.3 433.1Z" stroke="#1380d5"/>
<path d="M149.6 418.5L153 423.3 148.5 423.1 145.2 418.1Z" stroke="#069ccf"/>
<path d="M250.9 386.8L254.2 381.4 249.7 381 246.4 386.7Z" stroke="#91be72"/>
<path d="M278.7 353.1L282 348.6 277.5 347.1 274.2 351.7Z" stroke="#f7d825"/>
<path d="M168.6 428.4L171.9 430.8 167.4 431.4 164.1 428.9Z" stroke="#1389d2"/>
<path d="M216.5 431.6L219.8 427.3 215.3 428.7 212 433.2Z" stroke="#1389d2"/>
<path d="M247.6 392.1L250.9 386.8 246.4 386.7 243.1 392.2Z" stroke="#7cbf7b"/>
<path d="M134 401.3L137.3 406.2 132.8 395.9 129.5 391.8Z" stroke="#41ba97"/>
<path d="M275.3 357.5L278.7 353.1 274.2 351.7 270.8 356.4Z" stroke="#fdc832"/>
<path d="M244.3 397.5L247.6 392.1 243.1 392.2 239.8 397.8Z" stroke="#58bd8b"/>
<path d="M157.5 423.2L160.8 426.3 156.3 426.5 153 423.3Z" stroke="#0898d1"/>
<path d="M213.2 435.6L216.5 431.6 212 433.2 208.7 437.3Z" stroke="#1380d5"/>
<path d="M87.1 340.8L90.4 345.7 86 343.4 82.6 338.7Z" stroke="#f6f213"/>
<path d="M240.9 402.7L244.3 397.5 239.8 397.8 236.4 403.2Z" stroke="#37b89d"/>
<path d="M272 362L275.3 357.5 270.8 356.4 267.5 361.1Z" stroke="#fdbe3d"/>
<path d="M94.9 348L98.3 353 93.8 350.5 90.4 345.7Z" stroke="#f7d825"/>
<path d="M198.7 435.5L202 436.9 197.5 438.5 194.2 436.9Z" stroke="#127cd7"/>
<path d="M187.6 433.3L190.9 435.2 186.4 436.4 183.1 434.4Z" stroke="#1380d5"/>
<path d="M237.6 407.3L240.9 402.7 236.4 403.2 233.1 408Z" stroke="#25b4a9"/>
<path d="M126.2 387.6L129.5 391.8 125 383 121.7 379.1Z" stroke="#91be72"/>
<path d="M268.7 366.5L272 362 267.5 361.1 264.2 365.8Z" stroke="#f0b949"/>
<path d="M176.4 430L179.7 432.3 175.3 433.1 171.9 430.8Z" stroke="#1389d2"/>
<path d="M102.7 355.6L106.1 360.7 101.6 357.9 98.3 353Z" stroke="#fdc832"/>
<path d="M209.8 436.4L213.2 435.6 208.7 437.3 205.3 438.2Z" stroke="#127cd7"/>
<path d="M234.3 412.1L237.6 407.3 233.1 408 229.8 412.9Z" stroke="#15b0b4"/>
<path d="M118.4 373.5L121.7 379.1 117.2 373.8 113.9 368.8Z" stroke="#c8bb5c"/>
<path d="M110.6 363.6L113.9 368.8 109.4 365.7 106.1 360.7Z" stroke="#f0b949"/>
<path d="M265.4 371.2L268.7 366.5 264.2 365.8 260.9 370.7Z" stroke="#e1b952"/>
<path d="M165.3 426L168.6 428.4 164.1 428.9 160.8 426.3Z" stroke="#0c93d1"/>
<path d="M138.5 407.6L141.8 412.9 137.3 406.2 134 401.3Z" stroke="#1cb2ae"/>
<path d="M146.3 413.4L149.6 418.5 145.2 418.1 141.8 412.9Z" stroke="#06a9c1"/>
<path d="M231 416.8L234.3 412.1 229.8 412.9 226.5 417.9Z" stroke="#06a9c1"/>
<path d="M286.5 350.1L289.8 346 285.3 344.3 282 348.6Z" stroke="#f4e41c"/>
<path d="M262 376.2L265.4 371.2 260.9 370.7 257.6 376Z" stroke="#d0ba59"/>
<path d="M227.6 421.4L231 416.8 226.5 417.9 223.1 422.7Z" stroke="#05a3c9"/>
<path d="M258.7 381.3L262 376.2 257.6 376 254.2 381.4Z" stroke="#b7bc63"/>
<path d="M130.7 396.2L134 401.3 129.5 391.8 126.2 387.6Z" stroke="#64be85"/>
<path d="M154.1 418.6L157.5 423.2 153 423.3 149.6 418.5Z" stroke="#06a0cc"/>
<path d="M283.2 354.3L286.5 350.1 282 348.6 278.7 353.1Z" stroke="#f7d825"/>
<path d="M195.4 433.8L198.7 435.5 194.2 436.9 190.9 435.2Z" stroke="#1380d5"/>
<path d="M184.2 431.2L187.6 433.3 183.1 434.4 179.7 432.3Z" stroke="#1389d2"/>
<path d="M255.4 386.5L258.7 381.3 254.2 381.4 250.9 386.8Z" stroke="#9bbe6e"/>
<path d="M206.5 435.3L209.8 436.4 205.3 438.2 202 436.9Z" stroke="#1380d5"/>
<path d="M224.3 425.9L227.6 421.4 223.1 422.7 219.8 427.3Z" stroke="#069ccf"/>
<path d="M173.1 427.7L176.4 430 171.9 430.8 168.6 428.4Z" stroke="#108ed2"/>
<path d="M279.8 358.4L283.2 354.3 278.7 353.1 275.3 357.5Z" stroke="#fbcd2d"/>
<path d="M252.1 391.6L255.4 386.5 250.9 386.8 247.6 392.1Z" stroke="#87bf76"/>
<path d="M91.6 342.9L94.9 348 90.4 345.7 87.1 340.8Z" stroke="#f6f213"/>
<path d="M221 430.1L224.3 425.9 219.8 427.3 216.5 431.6Z" stroke="#0c93d1"/>
<path d="M122.9 380.9L126.2 387.6 121.7 379.1 118.4 373.5Z" stroke="#b7bc63"/>
<path d="M248.7 396.7L252.1 391.6 247.6 392.1 244.3 397.5Z" stroke="#64be85"/>
<path d="M162 423L165.3 426 160.8 426.3 157.5 423.2Z" stroke="#069ccf"/>
<path d="M99.4 350.3L102.7 355.6 98.3 353 94.9 348Z" stroke="#f7d825"/>
<path d="M276.5 362.6L279.8 358.4 275.3 357.5 272 362Z" stroke="#fec337"/>
<path d="M245.4 401.7L248.7 396.7 244.3 397.5 240.9 402.7Z" stroke="#4dbc91"/>
<path d="M107.2 358.2L110.6 363.6 106.1 360.7 102.7 355.6Z" stroke="#fec337"/>
<path d="M115.1 367.7L118.4 373.5 113.9 368.8 110.6 363.6Z" stroke="#e9b94e"/>
<path d="M217.7 433.8L221 430.1 216.5 431.6 213.2 435.6Z" stroke="#1389d2"/>
<path d="M135.2 402L138.5 407.6 134 401.3 130.7 396.2Z" stroke="#41ba97"/>
<path d="M143 408.2L146.3 413.4 141.8 412.9 138.5 407.6Z" stroke="#15b0b4"/>
<path d="M273.2 366.9L276.5 362.6 272 362 268.7 366.5Z" stroke="#f8ba43"/>
<path d="M242.1 406.1L245.4 401.7 240.9 402.7 237.6 407.3Z" stroke="#37b89d"/>
<path d="M192 432L195.4 433.8 190.9 435.2 187.6 433.3Z" stroke="#1389d2"/>
<path d="M203.2 434L206.5 435.3 202 436.9 198.7 435.5Z" stroke="#1484d3"/>
<path d="M180.9 429.1L184.2 431.2 179.7 432.3 176.4 430Z" stroke="#108ed2"/>
<path d="M269.9 371.2L273.2 366.9 268.7 366.5 265.4 371.2Z" stroke="#e9b94e"/>
<path d="M238.8 410.6L242.1 406.1 237.6 407.3 234.3 412.1Z" stroke="#25b4a9"/>
<path d="M214.3 434.7L217.7 433.8 213.2 435.6 209.8 436.4Z" stroke="#1484d3"/>
<path d="M150.8 413.7L154.1 418.6 149.6 418.5 146.3 413.4Z" stroke="#09abbd"/>
<path d="M291 351.5L294.3 347.7 289.8 346 286.5 350.1Z" stroke="#f4e41c"/>
<path d="M169.8 425.4L173.1 427.7 168.6 428.4 165.3 426Z" stroke="#0898d1"/>
<path d="M127.4 388.9L130.7 396.2 126.2 387.6 122.9 380.9Z" stroke="#91be72"/>
<path d="M266.5 376L269.9 371.2 265.4 371.2 262 376.2Z" stroke="#d8ba55"/>
<path d="M235.4 415.1L238.8 410.6 234.3 412.1 231 416.8Z" stroke="#0faeb8"/>
<path d="M287.6 355.4L291 351.5 286.5 350.1 283.2 354.3Z" stroke="#f7d825"/>
<path d="M263.2 380.7L266.5 376 262 376.2 258.7 381.3Z" stroke="#bfbc60"/>
<path d="M158.6 418.5L162 423 157.5 423.2 154.1 418.6Z" stroke="#05a6c6"/>
<path d="M232.1 419.5L235.4 415.1 231 416.8 227.6 421.4Z" stroke="#06a9c1"/>
<path d="M119.5 373.8L122.9 380.9 118.4 373.5 115.1 367.7Z" stroke="#d8ba55"/>
<path d="M259.9 385.5L263.2 380.7 258.7 381.3 255.4 386.5Z" stroke="#aebd67"/>
<path d="M96.1 345L99.4 350.3 94.9 348 91.6 342.9Z" stroke="#f6f213"/>
<path d="M284.3 359.3L287.6 355.4 283.2 354.3 279.8 358.4Z" stroke="#f9d229"/>
<path d="M199.9 432.4L203.2 434 198.7 435.5 195.4 433.8Z" stroke="#1389d2"/>
<path d="M188.7 430.1L192 432 187.6 433.3 184.2 431.2Z" stroke="#108ed2"/>
<path d="M211 433.7L214.3 434.7 209.8 436.4 206.5 435.3Z" stroke="#1389d2"/>
<path d="M228.8 423.8L232.1 419.5 227.6 421.4 224.3 425.9Z" stroke="#05a3c9"/>
<path d="M103.9 352.7L107.2 358.2 102.7 355.6 99.4 350.3Z" stroke="#f7d825"/>
<path d="M177.6 427L180.9 429.1 176.4 430 173.1 427.7Z" stroke="#0898d1"/>
<path d="M111.7 361.6L115.1 367.7 110.6 363.6 107.2 358.2Z" stroke="#fec337"/>
<path d="M256.6 390.3L259.9 385.5 255.4 386.5 252.1 391.6Z" stroke="#9bbe6e"/>
<path d="M139.7 402.8L143 408.2 138.5 407.6 135.2 402Z" stroke="#37b89d"/>
<path d="M281 363.2L284.3 359.3 279.8 358.4 276.5 362.6Z" stroke="#fdc832"/>
<path d="M131.9 394.3L135.2 402 130.7 396.2 127.4 388.9Z" stroke="#70be80"/>
<path d="M166.4 422.6L169.8 425.4 165.3 426 162 423Z" stroke="#06a0cc"/>
<path d="M253.2 395.1L256.6 390.3 252.1 391.6 248.7 396.7Z" stroke="#7cbf7b"/>
<path d="M225.5 427.7L228.8 423.8 224.3 425.9 221 430.1Z" stroke="#069ccf"/>
<path d="M147.5 408.7L150.8 413.7 146.3 413.4 143 408.2Z" stroke="#1cb2ae"/>
<path d="M277.7 367.1L281 363.2 276.5 362.6 273.2 366.9Z" stroke="#fdbe3d"/>
<path d="M249.9 399.7L253.2 395.1 248.7 396.7 245.4 401.7Z" stroke="#64be85"/>
<path d="M222.1 431.3L225.5 427.7 221 430.1 217.7 433.8Z" stroke="#0c93d1"/>
<path d="M295.5 352.9L298.8 349.4 294.3 347.7 291 351.5Z" stroke="#f4eb18"/>
<path d="M124 380.4L127.4 388.9 122.9 380.9 119.5 373.8Z" stroke="#bfbc60"/>
<path d="M246.6 403.9L249.9 399.7 245.4 401.7 242.1 406.1Z" stroke="#4dbc91"/>
<path d="M196.5 430.8L199.9 432.4 195.4 433.8 192 432Z" stroke="#0c93d1"/>
<path d="M274.3 371.2L277.7 367.1 273.2 366.9 269.9 371.2Z" stroke="#f0b949"/>
<path d="M207.7 432.4L211 433.7 206.5 435.3 203.2 434Z" stroke="#108ed2"/>
<path d="M185.4 428.1L188.7 430.1 184.2 431.2 180.9 429.1Z" stroke="#0898d1"/>
<path d="M155.3 413.9L158.6 418.5 154.1 418.6 150.8 413.7Z" stroke="#0faeb8"/>
<path d="M174.3 424.8L177.6 427 173.1 427.7 169.8 425.4Z" stroke="#06a0cc"/>
<path d="M243.3 408.1L246.6 403.9 242.1 406.1 238.8 410.6Z" stroke="#37b89d"/>
<path d="M271 375.6L274.3 371.2 269.9 371.2 266.5 376Z" stroke="#e1b952"/>
<path d="M292.1 356.5L295.5 352.9 291 351.5 287.6 355.4Z" stroke="#f5dd21"/>
<path d="M218.8 432.2L222.1 431.3 217.7 433.8 214.3 434.7Z" stroke="#0c93d1"/>
<path d="M116.2 366.5L119.5 373.8 115.1 367.7 111.7 361.6Z" stroke="#f8ba43"/>
<path d="M100.6 347L103.9 352.7 99.4 350.3 96.1 345Z" stroke="#f6f213"/>
<path d="M267.7 380L271 375.6 266.5 376 263.2 380.7Z" stroke="#d0ba59"/>
<path d="M239.9 412.3L243.3 408.1 238.8 410.6 235.4 415.1Z" stroke="#25b4a9"/>
<path d="M163.1 418.3L166.4 422.6 162 423 158.6 418.5Z" stroke="#06a9c1"/>
<path d="M108.4 355.4L111.7 361.6 107.2 358.2 103.9 352.7Z" stroke="#f9d229"/>
<path d="M288.8 360.1L292.1 356.5 287.6 355.4 284.3 359.3Z" stroke="#f9d229"/>
<path d="M136.3 395.3L139.7 402.8 135.2 402 131.9 394.3Z" stroke="#64be85"/>
<path d="M264.4 384.5L267.7 380 263.2 380.7 259.9 385.5Z" stroke="#bfbc60"/>
<path d="M236.6 416.5L239.9 412.3 235.4 415.1 232.1 419.5Z" stroke="#15b0b4"/>
<path d="M193.2 429L196.5 430.8 192 432 188.7 430.1Z" stroke="#0898d1"/>
<path d="M204.4 431L207.7 432.4 203.2 434 199.9 432.4Z" stroke="#0c93d1"/>
<path d="M144.2 403.4L147.5 408.7 143 408.2 139.7 402.8Z" stroke="#41ba97"/>
<path d="M285.5 363.7L288.8 360.1 284.3 359.3 281 363.2Z" stroke="#fbcd2d"/>
<path d="M182.1 426.1L185.4 428.1 180.9 429.1 177.6 427Z" stroke="#06a0cc"/>
<path d="M128.5 385.1L131.9 394.3 127.4 388.9 124 380.4Z" stroke="#a5be6a"/>
<path d="M215.5 431.3L218.8 432.2 214.3 434.7 211 433.7Z" stroke="#0c93d1"/>
<path d="M261.1 388.9L264.4 384.5 259.9 385.5 256.6 390.3Z" stroke="#aebd67"/>
<path d="M233.3 420.5L236.6 416.5 232.1 419.5 228.8 423.8Z" stroke="#09abbd"/>
<path d="M170.9 422.1L174.3 424.8 169.8 425.4 166.4 422.6Z" stroke="#05a6c6"/>
<path d="M257.7 393.3L261.1 388.9 256.6 390.3 253.2 395.1Z" stroke="#91be72"/>
<path d="M152 409L155.3 413.9 150.8 413.7 147.5 408.7Z" stroke="#25b4a9"/>
<path d="M282.2 367.4L285.5 363.7 281 363.2 277.7 367.1Z" stroke="#fec337"/>
<path d="M230 424.2L233.3 420.5 228.8 423.8 225.5 427.7Z" stroke="#05a6c6"/>
<path d="M300 354.3L303.3 351.1 298.8 349.4 295.5 352.9Z" stroke="#f4eb18"/>
<path d="M120.7 371.6L124 380.4 119.5 373.8 116.2 366.5Z" stroke="#e9b94e"/>
<path d="M254.4 397.7L257.7 393.3 253.2 395.1 249.9 399.7Z" stroke="#7cbf7b"/>
<path d="M278.8 371.1L282.2 367.4 277.7 367.1 274.3 371.2Z" stroke="#f8ba43"/>
<path d="M159.8 413.9L163.1 418.3 158.6 418.5 155.3 413.9Z" stroke="#15b0b4"/>
<path d="M201 429.5L204.4 431 199.9 432.4 196.5 430.8Z" stroke="#069ccf"/>
<path d="M226.6 427.6L230 424.2 225.5 427.7 222.1 431.3Z" stroke="#06a0cc"/>
<path d="M189.9 427.1L193.2 429 188.7 430.1 185.4 428.1Z" stroke="#06a0cc"/>
<path d="M296.6 357.6L300 354.3 295.5 352.9 292.1 356.5Z" stroke="#f5dd21"/>
<path d="M251.1 401.5L254.4 397.7 249.9 399.7 246.6 403.9Z" stroke="#64be85"/>
<path d="M112.9 358.9L116.2 366.5 111.7 361.6 108.4 355.4Z" stroke="#f9d229"/>
<path d="M212.2 430.2L215.5 431.3 211 433.7 207.7 432.4Z" stroke="#0898d1"/>
<path d="M105.1 349.1L108.4 355.4 103.9 352.7 100.6 347Z" stroke="#f4eb18"/>
<path d="M178.8 424L182.1 426.1 177.6 427 174.3 424.8Z" stroke="#05a6c6"/>
<path d="M275.5 375.1L278.8 371.1 274.3 371.2 271 375.6Z" stroke="#e9b94e"/>
<path d="M247.8 405.5L251.1 401.5 246.6 403.9 243.3 408.1Z" stroke="#4dbc91"/>
<path d="M293.3 360.9L296.6 357.6 292.1 356.5 288.8 360.1Z" stroke="#f7d825"/>
<path d="M272.2 379.2L275.5 375.1 271 375.6 267.7 380Z" stroke="#d8ba55"/>
<path d="M167.6 418L170.9 422.1 166.4 422.6 163.1 418.3Z" stroke="#0faeb8"/>
<path d="M223.3 428.5L226.6 427.6 222.1 431.3 218.8 432.2Z" stroke="#06a0cc"/>
<path d="M140.8 396.2L144.2 403.4 139.7 402.8 136.3 395.3Z" stroke="#70be80"/>
<path d="M133 386.3L136.3 395.3 131.9 394.3 128.5 385.1Z" stroke="#a5be6a"/>
<path d="M244.4 409.4L247.8 405.5 243.3 408.1 239.9 412.3Z" stroke="#41ba97"/>
<path d="M268.9 383.3L272.2 379.2 267.7 380 264.4 384.5Z" stroke="#c8bb5c"/>
<path d="M148.7 403.9L152 409 147.5 408.7 144.2 403.4Z" stroke="#4dbc91"/>
<path d="M290 364.2L293.3 360.9 288.8 360.1 285.5 363.7Z" stroke="#fbcd2d"/>
<path d="M125.2 375.4L128.5 385.1 124 380.4 120.7 371.6Z" stroke="#d8ba55"/>
<path d="M197.7 427.8L201 429.5 196.5 430.8 193.2 429Z" stroke="#06a0cc"/>
<path d="M208.8 428.9L212.2 430.2 207.7 432.4 204.4 431Z" stroke="#06a0cc"/>
<path d="M186.6 425.2L189.9 427.1 185.4 428.1 182.1 426.1Z" stroke="#05a6c6"/>
<path d="M241.1 413.3L244.4 409.4 239.9 412.3 236.6 416.5Z" stroke="#2db7a3"/>
<path d="M265.5 387.4L268.9 383.3 264.4 384.5 261.1 388.9Z" stroke="#b7bc63"/>
<path d="M175.4 421.5L178.8 424 174.3 424.8 170.9 422.1Z" stroke="#09abbd"/>
<path d="M286.7 367.5L290 364.2 285.5 363.7 282.2 367.4Z" stroke="#fdc832"/>
<path d="M156.5 409.2L159.8 413.9 155.3 413.9 152 409Z" stroke="#2db7a3"/>
<path d="M304.4 355.5L307.8 352.6 303.3 351.1 300 354.3Z" stroke="#f4eb18"/>
<path d="M220 427.7L223.3 428.5 218.8 432.2 215.5 431.3Z" stroke="#06a0cc"/>
<path d="M117.4 362.6L120.7 371.6 116.2 366.5 112.9 358.9Z" stroke="#fdc832"/>
<path d="M237.8 417L241.1 413.3 236.6 416.5 233.3 420.5Z" stroke="#1cb2ae"/>
<path d="M262.2 391.5L265.5 387.4 261.1 388.9 257.7 393.3Z" stroke="#aebd67"/>
<path d="M109.6 351.2L112.9 358.9 108.4 355.4 105.1 349.1Z" stroke="#f4eb18"/>
<path d="M283.3 370.9L286.7 367.5 282.2 367.4 278.8 371.1Z" stroke="#fdbe3d"/>
<path d="M301.1 358.3L304.4 355.5 300 354.3 296.6 357.6Z" stroke="#f4e41c"/>
<path d="M258.9 395.5L262.2 391.5 257.7 393.3 254.4 397.7Z" stroke="#9bbe6e"/>
<path d="M164.3 413.8L167.6 418 163.1 418.3 159.8 413.9Z" stroke="#25b4a9"/>
<path d="M234.5 420.5L237.8 417 233.3 420.5 230 424.2Z" stroke="#0faeb8"/>
<path d="M194.4 426.1L197.7 427.8 193.2 429 189.9 427.1Z" stroke="#05a6c6"/>
<path d="M205.5 427.5L208.8 428.9 204.4 431 201 429.5Z" stroke="#05a3c9"/>
<path d="M280 374.6L283.3 370.9 278.8 371.1 275.5 375.1Z" stroke="#f8ba43"/>
<path d="M183.2 423.3L186.6 425.2 182.1 426.1 178.8 424Z" stroke="#06a9c1"/>
<path d="M255.6 399L258.9 395.5 254.4 397.7 251.1 401.5Z" stroke="#87bf76"/>
<path d="M297.8 361.2L301.1 358.3 296.6 357.6 293.3 360.9Z" stroke="#f5dd21"/>
<path d="M231.1 423.6L234.5 420.5 230 424.2 226.6 427.6Z" stroke="#09abbd"/>
<path d="M216.7 426.7L220 427.7 215.5 431.3 212.2 430.2Z" stroke="#05a3c9"/>
<path d="M137.5 387.5L140.8 396.2 136.3 395.3 133 386.3Z" stroke="#a5be6a"/>
<path d="M145.3 397L148.7 403.9 144.2 403.4 140.8 396.2Z" stroke="#7cbf7b"/>
<path d="M172.1 417.6L175.4 421.5 170.9 422.1 167.6 418Z" stroke="#15b0b4"/>
<path d="M276.7 378.3L280 374.6 275.5 375.1 272.2 379.2Z" stroke="#e9b94e"/>
<path d="M129.7 377L133 386.3 128.5 385.1 125.2 375.4Z" stroke="#d8ba55"/>
<path d="M252.2 402.7L255.6 399 251.1 401.5 247.8 405.5Z" stroke="#70be80"/>
<path d="M153.1 404.4L156.5 409.2 152 409 148.7 403.9Z" stroke="#58bd8b"/>
<path d="M294.5 364.1L297.8 361.2 293.3 360.9 290 364.2Z" stroke="#f9d229"/>
<path d="M273.4 382.1L276.7 378.3 272.2 379.2 268.9 383.3Z" stroke="#d8ba55"/>
<path d="M121.9 365.5L125.2 375.4 120.7 371.6 117.4 362.6Z" stroke="#fec337"/>
<path d="M227.8 424.5L231.1 423.6 226.6 427.6 223.3 428.5Z" stroke="#06a9c1"/>
<path d="M248.9 406.3L252.2 402.7 247.8 405.5 244.4 409.4Z" stroke="#58bd8b"/>
<path d="M308.9 356.5L312.3 354.1 307.8 352.6 304.4 355.5Z" stroke="#f6f213"/>
<path d="M202.2 426L205.5 427.5 201 429.5 197.7 427.8Z" stroke="#05a6c6"/>
<path d="M191.1 424.3L194.4 426.1 189.9 427.1 186.6 425.2Z" stroke="#06a9c1"/>
<path d="M291.1 367L294.5 364.1 290 364.2 286.7 367.5Z" stroke="#fbcd2d"/>
<path d="M161 409.3L164.3 413.8 159.8 413.9 156.5 409.2Z" stroke="#41ba97"/>
<path d="M179.9 420.9L183.2 423.3 178.8 424 175.4 421.5Z" stroke="#0faeb8"/>
<path d="M270 385.8L273.4 382.1 268.9 383.3 265.5 387.4Z" stroke="#d0ba59"/>
<path d="M114.1 353.3L117.4 362.6 112.9 358.9 109.6 351.2Z" stroke="#f4eb18"/>
<path d="M213.3 425.6L216.7 426.7 212.2 430.2 208.8 428.9Z" stroke="#05a6c6"/>
<path d="M245.6 409.9L248.9 406.3 244.4 409.4 241.1 413.3Z" stroke="#4dbc91"/>
<path d="M305.6 358.9L308.9 356.5 304.4 355.5 301.1 358.3Z" stroke="#f4eb18"/>
<path d="M266.7 389.5L270 385.8 265.5 387.4 262.2 391.5Z" stroke="#bfbc60"/>
<path d="M287.8 370L291.1 367 286.7 367.5 283.3 370.9Z" stroke="#fdc832"/>
<path d="M224.5 423.9L227.8 424.5 223.3 428.5 220 427.7Z" stroke="#09abbd"/>
<path d="M168.8 413.6L172.1 417.6 167.6 418 164.3 413.8Z" stroke="#2db7a3"/>
<path d="M242.3 413.3L245.6 409.9 241.1 413.3 237.8 417Z" stroke="#37b89d"/>
<path d="M263.4 393.2L266.7 389.5 262.2 391.5 258.9 395.5Z" stroke="#aebd67"/>
<path d="M198.9 424.4L202.2 426 197.7 427.8 194.4 426.1Z" stroke="#09abbd"/>
<path d="M284.5 373.2L287.8 370 283.3 370.9 280 374.6Z" stroke="#fdbe3d"/>
<path d="M302.3 361.3L305.6 358.9 301.1 358.3 297.8 361.2Z" stroke="#f4e41c"/>
<path d="M187.7 422.5L191.1 424.3 186.6 425.2 183.2 423.3Z" stroke="#0faeb8"/>
<path d="M142 388.6L145.3 397 140.8 396.2 137.5 387.5Z" stroke="#aebd67"/>
<path d="M238.9 416.5L242.3 413.3 237.8 417 234.5 420.5Z" stroke="#2db7a3"/>
<path d="M149.8 397.7L153.1 404.4 148.7 403.9 145.3 397Z" stroke="#87bf76"/>
<path d="M210 424.4L213.3 425.6 208.8 428.9 205.5 427.5Z" stroke="#09abbd"/>
<path d="M134.2 378.5L137.5 387.5 133 386.3 129.7 377Z" stroke="#d8ba55"/>
<path d="M260.1 396.4L263.4 393.2 258.9 395.5 255.6 399Z" stroke="#9bbe6e"/>
<path d="M176.6 417.2L179.9 420.9 175.4 421.5 172.1 417.6Z" stroke="#25b4a9"/>
<path d="M126.4 367.3L129.7 377 125.2 375.4 121.9 365.5Z" stroke="#fec337"/>
<path d="M281.2 376.4L284.5 373.2 280 374.6 276.7 378.3Z" stroke="#f8ba43"/>
<path d="M157.6 404.7L161 409.3 156.5 409.2 153.1 404.4Z" stroke="#64be85"/>
<path d="M299 363.7L302.3 361.3 297.8 361.2 294.5 364.1Z" stroke="#f5dd21"/>
<path d="M221.2 423.1L224.5 423.9 220 427.7 216.7 426.7Z" stroke="#0faeb8"/>
<path d="M235.6 419.5L238.9 416.5 234.5 420.5 231.1 423.6Z" stroke="#1cb2ae"/>
<path d="M313.4 357.5L316.8 355.6 312.3 354.1 308.9 356.5Z" stroke="#f6f213"/>
<path d="M256.7 399.7L260.1 396.4 255.6 399 252.2 402.7Z" stroke="#91be72"/>
<path d="M118.6 355.4L121.9 365.5 117.4 362.6 114.1 353.3Z" stroke="#f4e41c"/>
<path d="M277.8 379.7L281.2 376.4 276.7 378.3 273.4 382.1Z" stroke="#e9b94e"/>
<path d="M165.5 409.4L168.8 413.6 164.3 413.8 161 409.3Z" stroke="#4dbc91"/>
<path d="M195.5 422.8L198.9 424.4 194.4 426.1 191.1 424.3Z" stroke="#0faeb8"/>
<path d="M295.6 366.1L299 363.7 294.5 364.1 291.1 367Z" stroke="#f7d825"/>
<path d="M184.4 420.2L187.7 422.5 183.2 423.3 179.9 420.9Z" stroke="#1cb2ae"/>
<path d="M253.4 403L256.7 399.7 252.2 402.7 248.9 406.3Z" stroke="#7cbf7b"/>
<path d="M206.7 423.1L210 424.4 205.5 427.5 202.2 426Z" stroke="#0faeb8"/>
<path d="M232.3 420.4L235.6 419.5 231.1 423.6 227.8 424.5Z" stroke="#1cb2ae"/>
<path d="M274.5 382.9L277.8 379.7 273.4 382.1 270 385.8Z" stroke="#e1b952"/>
<path d="M310.1 359.4L313.4 357.5 308.9 356.5 305.6 358.9Z" stroke="#f4eb18"/>
<path d="M217.8 422.2L221.2 423.1 216.7 426.7 213.3 425.6Z" stroke="#15b0b4"/>
<path d="M292.3 368.6L295.6 366.1 291.1 367 287.8 370Z" stroke="#f9d229"/>
<path d="M250.1 406.3L253.4 403 248.9 406.3 245.6 409.9Z" stroke="#70be80"/>
<path d="M173.3 413.4L176.6 417.2 172.1 417.6 168.8 413.6Z" stroke="#37b89d"/>
<path d="M271.2 386.1L274.5 382.9 270 385.8 266.7 389.5Z" stroke="#d0ba59"/>
<path d="M146.5 389.6L149.8 397.7 145.3 397 142 388.6Z" stroke="#b7bc63"/>
<path d="M306.8 361.3L310.1 359.4 305.6 358.9 302.3 361.3Z" stroke="#f4eb18"/>
<path d="M138.7 379.9L142 388.6 137.5 387.5 134.2 378.5Z" stroke="#e1b952"/>
<path d="M154.3 398.3L157.6 404.7 153.1 404.4 149.8 397.7Z" stroke="#91be72"/>
<path d="M229 419.9L232.3 420.4 227.8 424.5 224.5 423.9Z" stroke="#1cb2ae"/>
<path d="M246.8 409.5L250.1 406.3 245.6 409.9 242.3 413.3Z" stroke="#64be85"/>
<path d="M192.2 421.1L195.5 422.8 191.1 424.3 187.7 422.5Z" stroke="#1cb2ae"/>
<path d="M289 371.3L292.3 368.6 287.8 370 284.5 373.2Z" stroke="#fdc832"/>
<path d="M130.9 369.1L134.2 378.5 129.7 377 126.4 367.3Z" stroke="#fec337"/>
<path d="M267.9 389.3L271.2 386.1 266.7 389.5 263.4 393.2Z" stroke="#c8bb5c"/>
<path d="M203.4 421.7L206.7 423.1 202.2 426 198.9 424.4Z" stroke="#15b0b4"/>
<path d="M181.1 416.8L184.4 420.2 179.9 420.9 176.6 417.2Z" stroke="#2db7a3"/>
<path d="M162.1 405L165.5 409.4 161 409.3 157.6 404.7Z" stroke="#70be80"/>
<path d="M123 357.4L126.4 367.3 121.9 365.5 118.6 355.4Z" stroke="#f4e41c"/>
<path d="M214.5 421.1L217.8 422.2 213.3 425.6 210 424.4Z" stroke="#1cb2ae"/>
<path d="M303.5 363.2L306.8 361.3 302.3 361.3 299 363.7Z" stroke="#f4e41c"/>
<path d="M317.9 358.4L321.2 357 316.8 355.6 313.4 357.5Z" stroke="#f8fa0d"/>
<path d="M243.4 412.4L246.8 409.5 242.3 413.3 238.9 416.5Z" stroke="#4dbc91"/>
<path d="M285.7 373.9L289 371.3 284.5 373.2 281.2 376.4Z" stroke="#fec337"/>
<path d="M264.6 392.1L267.9 389.3 263.4 393.2 260.1 396.4Z" stroke="#bfbc60"/>
<path d="M225.6 419.3L229 419.9 224.5 423.9 221.2 423.1Z" stroke="#25b4a9"/>
<path d="M169.9 409.4L173.3 413.4 168.8 413.6 165.5 409.4Z" stroke="#58bd8b"/>
<path d="M240.1 415.2L243.4 412.4 238.9 416.5 235.6 419.5Z" stroke="#41ba97"/>
<path d="M300.1 365.2L303.5 363.2 299 363.7 295.6 366.1Z" stroke="#f5dd21"/>
<path d="M282.3 376.6L285.7 373.9 281.2 376.4 277.8 379.7Z" stroke="#fdbe3d"/>
<path d="M261.2 395L264.6 392.1 260.1 396.4 256.7 399.7Z" stroke="#aebd67"/>
<path d="M314.6 359.8L317.9 358.4 313.4 357.5 310.1 359.4Z" stroke="#f6f213"/>
<path d="M188.9 419.1L192.2 421.1 187.7 422.5 184.4 420.2Z" stroke="#2db7a3"/>
<path d="M200 420.2L203.4 421.7 198.9 424.4 195.5 422.8Z" stroke="#25b4a9"/>
<path d="M211.2 420L214.5 421.1 210 424.4 206.7 423.1Z" stroke="#25b4a9"/>
<path d="M257.9 397.9L261.2 395 256.7 399.7 253.4 403Z" stroke="#a5be6a"/>
<path d="M279 379.3L282.3 376.6 277.8 379.7 274.5 382.9Z" stroke="#f8ba43"/>
<path d="M177.8 413.2L181.1 416.8 176.6 417.2 173.3 413.4Z" stroke="#4dbc91"/>
<path d="M236.8 416L240.1 415.2 235.6 419.5 232.3 420.4Z" stroke="#37b89d"/>
<path d="M296.8 367.1L300.1 365.2 295.6 366.1 292.3 368.6Z" stroke="#f5dd21"/>
<path d="M151 390.6L154.3 398.3 149.8 397.7 146.5 389.6Z" stroke="#b7bc63"/>
<path d="M143.2 381.2L146.5 389.6 142 388.6 138.7 379.9Z" stroke="#e1b952"/>
<path d="M311.3 361.3L314.6 359.8 310.1 359.4 306.8 361.3Z" stroke="#f6f213"/>
<path d="M135.4 370.9L138.7 379.9 134.2 378.5 130.9 369.1Z" stroke="#fdc832"/>
<path d="M222.3 418.5L225.6 419.3 221.2 423.1 217.8 422.2Z" stroke="#2db7a3"/>
<path d="M158.8 398.9L162.1 405 157.6 404.7 154.3 398.3Z" stroke="#9bbe6e"/>
<path d="M254.6 400.8L257.9 397.9 253.4 403 250.1 406.3Z" stroke="#9bbe6e"/>
<path d="M275.7 382L279 379.3 274.5 382.9 271.2 386.1Z" stroke="#f0b949"/>
<path d="M127.5 359.5L130.9 369.1 126.4 367.3 123 357.4Z" stroke="#f4e41c"/>
<path d="M293.5 369.2L296.8 367.1 292.3 368.6 289 371.3Z" stroke="#f7d825"/>
<path d="M196.7 418.8L200 420.2 195.5 422.8 192.2 421.1Z" stroke="#2db7a3"/>
<path d="M322.4 359.4L325.7 358.5 321.2 357 317.9 358.4Z" stroke="#f8fa0d"/>
<path d="M166.6 405.2L169.9 409.4 165.5 409.4 162.1 405Z" stroke="#7cbf7b"/>
<path d="M185.6 415.9L188.9 419.1 184.4 420.2 181.1 416.8Z" stroke="#41ba97"/>
<path d="M233.5 415.7L236.8 416 232.3 420.4 229 419.9Z" stroke="#41ba97"/>
<path d="M307.9 362.7L311.3 361.3 306.8 361.3 303.5 363.2Z" stroke="#f4eb18"/>
<path d="M207.9 418.8L211.2 420 206.7 423.1 203.4 421.7Z" stroke="#2db7a3"/>
<path d="M251.3 403.5L254.6 400.8 250.1 406.3 246.8 409.5Z" stroke="#91be72"/>
<path d="M272.4 384.6L275.7 382 271.2 386.1 267.9 389.3Z" stroke="#e9b94e"/>
<path d="M290.2 371.3L293.5 369.2 289 371.3 285.7 373.9Z" stroke="#f9d229"/>
<path d="M219 417.7L222.3 418.5 217.8 422.2 214.5 421.1Z" stroke="#37b89d"/>
<path d="M174.4 409.4L177.8 413.2 173.3 413.4 169.9 409.4Z" stroke="#64be85"/>
<path d="M319.1 360.3L322.4 359.4 317.9 358.4 314.6 359.8Z" stroke="#f8fa0d"/>
<path d="M247.9 406.1L251.3 403.5 246.8 409.5 243.4 412.4Z" stroke="#7cbf7b"/>
<path d="M269 387L272.4 384.6 267.9 389.3 264.6 392.1Z" stroke="#d8ba55"/>
<path d="M304.6 364.1L307.9 362.7 303.5 363.2 300.1 365.2Z" stroke="#f4eb18"/>
<path d="M193.4 417L196.7 418.8 192.2 421.1 188.9 419.1Z" stroke="#41ba97"/>
<path d="M230.1 415.3L233.5 415.7 229 419.9 225.6 419.3Z" stroke="#4dbc91"/>
<path d="M286.8 373.4L290.2 371.3 285.7 373.9 282.3 376.6Z" stroke="#fbcd2d"/>
<path d="M204.5 417.6L207.9 418.8 203.4 421.7 200 420.2Z" stroke="#41ba97"/>
<path d="M147.7 382.6L151 390.6 146.5 389.6 143.2 381.2Z" stroke="#e9b94e"/>
<path d="M155.5 391.5L158.8 398.9 154.3 398.3 151 390.6Z" stroke="#bfbc60"/>
<path d="M244.6 408.5L247.9 406.1 243.4 412.4 240.1 415.2Z" stroke="#70be80"/>
<path d="M182.3 412.5L185.6 415.9 181.1 416.8 177.8 413.2Z" stroke="#58bd8b"/>
<path d="M139.8 372.6L143.2 381.2 138.7 379.9 135.4 370.9Z" stroke="#fdc832"/>
<path d="M265.7 389.4L269 387 264.6 392.1 261.2 395Z" stroke="#d0ba59"/>
<path d="M315.8 361.2L319.1 360.3 314.6 359.8 311.3 361.3Z" stroke="#f8fa0d"/>
<path d="M301.3 365.6L304.6 364.1 300.1 365.2 296.8 367.1Z" stroke="#f4e41c"/>
<path d="M163.3 399.5L166.6 405.2 162.1 405 158.8 398.9Z" stroke="#a5be6a"/>
<path d="M215.7 416.7L219 417.7 214.5 421.1 211.2 420Z" stroke="#41ba97"/>
<path d="M132 361.6L135.4 370.9 130.9 369.1 127.5 359.5Z" stroke="#f4e41c"/>
<path d="M283.5 375.5L286.8 373.4 282.3 376.6 279 379.3Z" stroke="#fdc832"/>
<path d="M262.4 391.8L265.7 389.4 261.2 395 257.9 397.9Z" stroke="#c8bb5c"/>
<path d="M241.3 409.4L244.6 408.5 240.1 415.2 236.8 416Z" stroke="#70be80"/>
<path d="M171.1 405.5L174.4 409.4 169.9 409.4 166.6 405.2Z" stroke="#87bf76"/>
<path d="M226.8 414.7L230.1 415.3 225.6 419.3 222.3 418.5Z" stroke="#4dbc91"/>
<path d="M298 367L301.3 365.6 296.8 367.1 293.5 369.2Z" stroke="#f4e41c"/>
<path d="M312.4 362.1L315.8 361.2 311.3 361.3 307.9 362.7Z" stroke="#f8fa0d"/>
<path d="M190.1 414.1L193.4 417 188.9 419.1 185.6 415.9Z" stroke="#58bd8b"/>
<path d="M280.2 377.6L283.5 375.5 279 379.3 275.7 382Z" stroke="#fec337"/>
<path d="M201.2 416.3L204.5 417.6 200 420.2 196.7 418.8Z" stroke="#4dbc91"/>
<path d="M259.1 394.2L262.4 391.8 257.9 397.9 254.6 400.8Z" stroke="#bfbc60"/>
<path d="M212.3 415.8L215.7 416.7 211.2 420 207.9 418.8Z" stroke="#4dbc91"/>
<path d="M178.9 409L182.3 412.5 177.8 413.2 174.4 409.4Z" stroke="#7cbf7b"/>
<path d="M294.6 368.6L298 367 293.5 369.2 290.2 371.3Z" stroke="#f5dd21"/>
<path d="M238 409.3L241.3 409.4 236.8 416 233.5 415.7Z" stroke="#70be80"/>
<path d="M276.9 379.7L280.2 377.6 275.7 382 272.4 384.6Z" stroke="#fdbe3d"/>
<path d="M309.1 363L312.4 362.1 307.9 362.7 304.6 364.1Z" stroke="#f8fa0d"/>
<path d="M223.5 414.1L226.8 414.7 222.3 418.5 219 417.7Z" stroke="#58bd8b"/>
<path d="M255.7 396.5L259.1 394.2 254.6 400.8 251.3 403.5Z" stroke="#b7bc63"/>
<path d="M152.2 383.9L155.5 391.5 151 390.6 147.7 382.6Z" stroke="#e9b94e"/>
<path d="M144.3 374.3L147.7 382.6 143.2 381.2 139.8 372.6Z" stroke="#fdc832"/>
<path d="M160 392.5L163.3 399.5 158.8 398.9 155.5 391.5Z" stroke="#c8bb5c"/>
<path d="M197.9 414.8L201.2 416.3 196.7 418.8 193.4 417Z" stroke="#58bd8b"/>
<path d="M136.5 363.7L139.8 372.6 135.4 370.9 132 361.6Z" stroke="#f4eb18"/>
<path d="M273.5 381.6L276.9 379.7 272.4 384.6 269 387Z" stroke="#fdbe3d"/>
<path d="M167.8 400L171.1 405.5 166.6 405.2 163.3 399.5Z" stroke="#aebd67"/>
<path d="M291.3 370.1L294.6 368.6 290.2 371.3 286.8 373.4Z" stroke="#f5dd21"/>
<path d="M186.7 411.1L190.1 414.1 185.6 415.9 182.3 412.5Z" stroke="#70be80"/>
<path d="M209 414.8L212.3 415.8 207.9 418.8 204.5 417.6Z" stroke="#64be85"/>
<path d="M252.4 398.7L255.7 396.5 251.3 403.5 247.9 406.1Z" stroke="#aebd67"/>
<path d="M305.8 363.9L309.1 363 304.6 364.1 301.3 365.6Z" stroke="#f6f213"/>
<path d="M234.6 409.1L238 409.3 233.5 415.7 230.1 415.3Z" stroke="#7cbf7b"/>
<path d="M220.2 413.3L223.5 414.1 219 417.7 215.7 416.7Z" stroke="#64be85"/>
<path d="M175.6 405.4L178.9 409 174.4 409.4 171.1 405.5Z" stroke="#9bbe6e"/>
<path d="M270.2 383.5L273.5 381.6 269 387 265.7 389.4Z" stroke="#f8ba43"/>
<path d="M288 371.6L291.3 370.1 286.8 373.4 283.5 375.5Z" stroke="#f7d825"/>
<path d="M249.1 400.8L252.4 398.7 247.9 406.1 244.6 408.5Z" stroke="#aebd67"/>
<path d="M302.5 364.8L305.8 363.9 301.3 365.6 298 367Z" stroke="#f6f213"/>
<path d="M194.6 412.2L197.9 414.8 193.4 417 190.1 414.1Z" stroke="#70be80"/>
<path d="M205.7 413.7L209 414.8 204.5 417.6 201.2 416.3Z" stroke="#70be80"/>
<path d="M231.3 408.8L234.6 409.1 230.1 415.3 226.8 414.7Z" stroke="#87bf76"/>
<path d="M266.9 385.4L270.2 383.5 265.7 389.4 262.4 391.8Z" stroke="#f0b949"/>
<path d="M183.4 407.9L186.7 411.1 182.3 412.5 178.9 409Z" stroke="#91be72"/>
<path d="M284.7 373.1L288 371.6 283.5 375.5 280.2 377.6Z" stroke="#f7d825"/>
<path d="M245.8 401.6L249.1 400.8 244.6 408.5 241.3 409.4Z" stroke="#a5be6a"/>
<path d="M216.8 412.6L220.2 413.3 215.7 416.7 212.3 415.8Z" stroke="#70be80"/>
<path d="M156.6 385.2L160 392.5 155.5 391.5 152.2 383.9Z" stroke="#f0b949"/>
<path d="M148.8 376L152.2 383.9 147.7 382.6 144.3 374.3Z" stroke="#fdc832"/>
<path d="M164.5 393.4L167.8 400 163.3 399.5 160 392.5Z" stroke="#d0ba59"/>
<path d="M141 365.8L144.3 374.3 139.8 372.6 136.5 363.7Z" stroke="#f4eb18"/>
<path d="M299.1 365.7L302.5 364.8 298 367 294.6 368.6Z" stroke="#f6f213"/>
<path d="M263.6 387.3L266.9 385.4 262.4 391.8 259.1 394.2Z" stroke="#e9b94e"/>
<path d="M281.3 374.6L284.7 373.1 280.2 377.6 276.9 379.7Z" stroke="#f9d229"/>
<path d="M172.3 400.3L175.6 405.4 171.1 405.5 167.8 400Z" stroke="#b7bc63"/>
<path d="M228 408.4L231.3 408.8 226.8 414.7 223.5 414.1Z" stroke="#87bf76"/>
<path d="M202.4 412.4L205.7 413.7 201.2 416.3 197.9 414.8Z" stroke="#7cbf7b"/>
<path d="M242.4 401.8L245.8 401.6 241.3 409.4 238 409.3Z" stroke="#aebd67"/>
<path d="M191.2 409.6L194.6 412.2 190.1 414.1 186.7 411.1Z" stroke="#87bf76"/>
<path d="M295.8 366.6L299.1 365.7 294.6 368.6 291.3 370.1Z" stroke="#f6f213"/>
<path d="M260.2 389.2L263.6 387.3 259.1 394.2 255.7 396.5Z" stroke="#e9b94e"/>
<path d="M213.5 411.8L216.8 412.6 212.3 415.8 209 414.8Z" stroke="#87bf76"/>
<path d="M180.1 404.6L183.4 407.9 178.9 409 175.6 405.4Z" stroke="#a5be6a"/>
<path d="M278 376L281.3 374.6 276.9 379.7 273.5 381.6Z" stroke="#f9d229"/>
<path d="M256.9 391L260.2 389.2 255.7 396.5 252.4 398.7Z" stroke="#e1b952"/>
<path d="M224.7 408L228 408.4 223.5 414.1 220.2 413.3Z" stroke="#91be72"/>
<path d="M239.1 401.8L242.4 401.8 238 409.3 234.6 409.1Z" stroke="#aebd67"/>
<path d="M292.5 367.5L295.8 366.6 291.3 370.1 288 371.6Z" stroke="#f6f213"/>
<path d="M199 410.2L202.4 412.4 197.9 414.8 194.6 412.2Z" stroke="#91be72"/>
<path d="M274.7 377.4L278 376 273.5 381.6 270.2 383.5Z" stroke="#fbcd2d"/>
<path d="M153.3 377.7L156.6 385.2 152.2 383.9 148.8 376Z" stroke="#fbcd2d"/>
<path d="M161.1 386.5L164.5 393.4 160 392.5 156.6 385.2Z" stroke="#f0b949"/>
<path d="M145.5 367.9L148.8 376 144.3 374.3 141 365.8Z" stroke="#f4eb18"/>
<path d="M187.9 406.7L191.2 409.6 186.7 411.1 183.4 407.9Z" stroke="#a5be6a"/>
<path d="M210.2 411L213.5 411.8 209 414.8 205.7 413.7Z" stroke="#91be72"/>
<path d="M169 394.1L172.3 400.3 167.8 400 164.5 393.4Z" stroke="#d8ba55"/>
<path d="M253.6 392.6L256.9 391 252.4 398.7 249.1 400.8Z" stroke="#d8ba55"/>
<path d="M289.2 368.4L292.5 367.5 288 371.6 284.7 373.1Z" stroke="#f6f213"/>
<path d="M271.4 378.8L274.7 377.4 270.2 383.5 266.9 385.4Z" stroke="#fbcd2d"/>
<path d="M176.8 400L180.1 404.6 175.6 405.4 172.3 400.3Z" stroke="#bfbc60"/>
<path d="M235.8 401.8L239.1 401.8 234.6 409.1 231.3 408.8Z" stroke="#b7bc63"/>
<path d="M221.3 407.5L224.7 408 220.2 413.3 216.8 412.6Z" stroke="#9bbe6e"/>
<path d="M250.3 393.5L253.6 392.6 249.1 400.8 245.8 401.6Z" stroke="#d8ba55"/>
<path d="M195.7 407.9L199 410.2 194.6 412.2 191.2 409.6Z" stroke="#a5be6a"/>
<path d="M206.9 409.9L210.2 411 205.7 413.7 202.4 412.4Z" stroke="#9bbe6e"/>
<path d="M285.8 369.3L289.2 368.4 284.7 373.1 281.3 374.6Z" stroke="#f4eb18"/>
<path d="M268.1 380.2L271.4 378.8 266.9 385.4 263.6 387.3Z" stroke="#fbcd2d"/>
<path d="M184.6 403.8L187.9 406.7 183.4 407.9 180.1 404.6Z" stroke="#b7bc63"/>
<path d="M232.5 401.7L235.8 401.8 231.3 408.8 228 408.4Z" stroke="#b7bc63"/>
<path d="M218 407L221.3 407.5 216.8 412.6 213.5 411.8Z" stroke="#a5be6a"/>
<path d="M157.8 379.3L161.1 386.5 156.6 385.2 153.3 377.7Z" stroke="#fbcd2d"/>
<path d="M150 369.9L153.3 377.7 148.8 376 145.5 367.9Z" stroke="#f4eb18"/>
<path d="M246.9 393.9L250.3 393.5 245.8 401.6 242.4 401.8Z" stroke="#d8ba55"/>
<path d="M165.6 387.6L169 394.1 164.5 393.4 161.1 386.5Z" stroke="#f8ba43"/>
<path d="M282.5 370.2L285.8 369.3 281.3 374.6 278 376Z" stroke="#f4eb18"/>
<path d="M264.7 381.6L268.1 380.2 263.6 387.3 260.2 389.2Z" stroke="#fdc832"/>
<path d="M173.4 394.4L176.8 400 172.3 400.3 169 394.1Z" stroke="#e1b952"/>
<path d="M203.5 408.1L206.9 409.9 202.4 412.4 199 410.2Z" stroke="#a5be6a"/>
<path d="M192.4 405.5L195.7 407.9 191.2 409.6 187.9 406.7Z" stroke="#b7bc63"/>
<path d="M229.1 401.6L232.5 401.7 228 408.4 224.7 408Z" stroke="#bfbc60"/>
<path d="M214.7 406.5L218 407 213.5 411.8 210.2 411Z" stroke="#aebd67"/>
<path d="M261.4 383L264.7 381.6 260.2 389.2 256.9 391Z" stroke="#fdc832"/>
<path d="M279.2 371.1L282.5 370.2 278 376 274.7 377.4Z" stroke="#f4eb18"/>
<path d="M243.6 394.3L246.9 393.9 242.4 401.8 239.1 401.8Z" stroke="#e1b952"/>
<path d="M181.3 399.7L184.6 403.8 180.1 404.6 176.8 400Z" stroke="#d0ba59"/>
<path d="M258.1 384.3L261.4 383 256.9 391 253.6 392.6Z" stroke="#fec337"/>
<path d="M200.2 406.1L203.5 408.1 199 410.2 195.7 407.9Z" stroke="#b7bc63"/>
<path d="M225.8 401.5L229.1 401.6 224.7 408 221.3 407.5Z" stroke="#c8bb5c"/>
<path d="M275.9 372L279.2 371.1 274.7 377.4 271.4 378.8Z" stroke="#f4eb18"/>
<path d="M189.1 402.9L192.4 405.5 187.9 406.7 184.6 403.8Z" stroke="#c8bb5c"/>
<path d="M240.3 394.5L243.6 394.3 239.1 401.8 235.8 401.8Z" stroke="#e1b952"/>
<path d="M211.4 405.8L214.7 406.5 210.2 411 206.9 409.9Z" stroke="#b7bc63"/>
<path d="M154.5 372L157.8 379.3 153.3 377.7 150 369.9Z" stroke="#f4eb18"/>
<path d="M162.3 380.9L165.6 387.6 161.1 386.5 157.8 379.3Z" stroke="#f9d229"/>
<path d="M170.1 388.5L173.4 394.4 169 394.1 165.6 387.6Z" stroke="#fdbe3d"/>
<path d="M254.8 385.2L258.1 384.3 253.6 392.6 250.3 393.5Z" stroke="#fec337"/>
<path d="M272.5 372.9L275.9 372 271.4 378.8 268.1 380.2Z" stroke="#f4eb18"/>
<path d="M177.9 394.6L181.3 399.7 176.8 400 173.4 394.4Z" stroke="#e9b94e"/>
<path d="M222.5 401.3L225.8 401.5 221.3 407.5 218 407Z" stroke="#c8bb5c"/>
<path d="M237 394.8L240.3 394.5 235.8 401.8 232.5 401.7Z" stroke="#e9b94e"/>
<path d="M196.9 404.1L200.2 406.1 195.7 407.9 192.4 405.5Z" stroke="#c8bb5c"/>
<path d="M208 404.4L211.4 405.8 206.9 409.9 203.5 408.1Z" stroke="#bfbc60"/>
<path d="M185.8 399.3L189.1 402.9 184.6 403.8 181.3 399.7Z" stroke="#d8ba55"/>
<path d="M251.4 385.8L254.8 385.2 250.3 393.5 246.9 393.9Z" stroke="#fec337"/>
<path d="M269.2 373.8L272.5 372.9 268.1 380.2 264.7 381.6Z" stroke="#f4eb18"/>
<path d="M219.2 401.2L222.5 401.3 218 407 214.7 406.5Z" stroke="#d0ba59"/>
<path d="M233.6 395L237 394.8 232.5 401.7 229.1 401.6Z" stroke="#e9b94e"/>
<path d="M159 374.1L162.3 380.9 157.8 379.3 154.5 372Z" stroke="#f4eb18"/>
<path d="M166.8 382.4L170.1 388.5 165.6 387.6 162.3 380.9Z" stroke="#f9d229"/>
<path d="M265.9 374.7L269.2 373.8 264.7 381.6 261.4 383Z" stroke="#f4eb18"/>
<path d="M193.6 401.9L196.9 404.1 192.4 405.5 189.1 402.9Z" stroke="#d8ba55"/>
<path d="M248.1 386.4L251.4 385.8 246.9 393.9 243.6 394.3Z" stroke="#fdc832"/>
<path d="M204.7 403L208 404.4 203.5 408.1 200.2 406.1Z" stroke="#d0ba59"/>
<path d="M174.6 389.3L177.9 394.6 173.4 394.4 170.1 388.5Z" stroke="#fec337"/>
<path d="M215.8 400.8L219.2 401.2 214.7 406.5 211.4 405.8Z" stroke="#d8ba55"/>
<path d="M230.3 395.2L233.6 395 229.1 401.6 225.8 401.5Z" stroke="#f0b949"/>
<path d="M182.4 394.8L185.8 399.3 181.3 399.7 177.9 394.6Z" stroke="#f0b949"/>
<path d="M262.6 375.6L265.9 374.7 261.4 383 258.1 384.3Z" stroke="#f4e41c"/>
<path d="M244.8 387L248.1 386.4 243.6 394.3 240.3 394.5Z" stroke="#fdc832"/>
<path d="M201.4 401.4L204.7 403 200.2 406.1 196.9 404.1Z" stroke="#d8ba55"/>
<path d="M190.2 398.8L193.6 401.9 189.1 402.9 185.8 399.3Z" stroke="#e9b94e"/>
<path d="M227 395.4L230.3 395.2 225.8 401.5 222.5 401.3Z" stroke="#f0b949"/>
<path d="M259.2 376.6L262.6 375.6 258.1 384.3 254.8 385.2Z" stroke="#f4e41c"/>
<path d="M212.5 400L215.8 400.8 211.4 405.8 208 404.4Z" stroke="#e1b952"/>
<path d="M163.5 376.2L166.8 382.4 162.3 380.9 159 374.1Z" stroke="#f4eb18"/>
<path d="M241.5 387.6L244.8 387 240.3 394.5 237 394.8Z" stroke="#fdc832"/>
<path d="M171.3 383.9L174.6 389.3 170.1 388.5 166.8 382.4Z" stroke="#f7d825"/>
<path d="M179.1 390.1L182.4 394.8 177.9 394.6 174.6 389.3Z" stroke="#fdc832"/>
<path d="M198.1 399.8L201.4 401.4 196.9 404.1 193.6 401.9Z" stroke="#e9b94e"/>
<path d="M255.9 377.5L259.2 376.6 254.8 385.2 251.4 385.8Z" stroke="#f4e41c"/>
<path d="M223.7 395.6L227 395.4 222.5 401.3 219.2 401.2Z" stroke="#f8ba43"/>
<path d="M209.2 399.1L212.5 400 208 404.4 204.7 403Z" stroke="#e9b94e"/>
<path d="M238.1 388.1L241.5 387.6 237 394.8 233.6 395Z" stroke="#fdc832"/>
<path d="M186.9 394.9L190.2 398.8 185.8 399.3 182.4 394.8Z" stroke="#fdbe3d"/>
<path d="M252.6 378.4L255.9 377.5 251.4 385.8 248.1 386.4Z" stroke="#f4e41c"/>
<path d="M220.3 395.6L223.7 395.6 219.2 401.2 215.8 400.8Z" stroke="#f8ba43"/>
<path d="M168 378.3L171.3 383.9 166.8 382.4 163.5 376.2Z" stroke="#f6f213"/>
<path d="M234.8 388.7L238.1 388.1 233.6 395 230.3 395.2Z" stroke="#fbcd2d"/>
<path d="M194.7 397.4L198.1 399.8 193.6 401.9 190.2 398.8Z" stroke="#f8ba43"/>
<path d="M205.9 398.2L209.2 399.1 204.7 403 201.4 401.4Z" stroke="#f0b949"/>
<path d="M175.8 385.3L179.1 390.1 174.6 389.3 171.3 383.9Z" stroke="#f7d825"/>
<path d="M249.3 379.3L252.6 378.4 248.1 386.4 244.8 387Z" stroke="#f4eb18"/>
<path d="M183.6 390.9L186.9 394.9 182.4 394.8 179.1 390.1Z" stroke="#fbcd2d"/>
<path d="M217 395.4L220.3 395.6 215.8 400.8 212.5 400Z" stroke="#fdbe3d"/>
<path d="M231.5 389.2L234.8 388.7 230.3 395.2 227 395.4Z" stroke="#fbcd2d"/>
<path d="M202.5 397.1L205.9 398.2 201.4 401.4 198.1 399.8Z" stroke="#fdbe3d"/>
<path d="M245.9 380.2L249.3 379.3 244.8 387 241.5 387.6Z" stroke="#f4eb18"/>
<path d="M191.4 394.4L194.7 397.4 190.2 398.8 186.9 394.9Z" stroke="#fec337"/>
<path d="M228.2 389.8L231.5 389.2 227 395.4 223.7 395.6Z" stroke="#fbcd2d"/>
<path d="M213.7 395.1L217 395.4 212.5 400 209.2 399.1Z" stroke="#fec337"/>
<path d="M172.5 380.3L175.8 385.3 171.3 383.9 168 378.3Z" stroke="#f6f213"/>
<path d="M242.6 381.1L245.9 380.2 241.5 387.6 238.1 388.1Z" stroke="#f4eb18"/>
<path d="M180.3 386.7L183.6 390.9 179.1 390.1 175.8 385.3Z" stroke="#f5dd21"/>
<path d="M199.2 395.5L202.5 397.1 198.1 399.8 194.7 397.4Z" stroke="#fec337"/>
<path d="M224.8 390.2L228.2 389.8 223.7 395.6 220.3 395.6Z" stroke="#f9d229"/>
<path d="M188.1 391.2L191.4 394.4 186.9 394.9 183.6 390.9Z" stroke="#f9d229"/>
<path d="M210.4 394.7L213.7 395.1 209.2 399.1 205.9 398.2Z" stroke="#fdc832"/>
<path d="M239.3 382L242.6 381.1 238.1 388.1 234.8 388.7Z" stroke="#f4eb18"/>
<path d="M221.5 390.6L224.8 390.2 220.3 395.6 217 395.4Z" stroke="#f9d229"/>
<path d="M195.9 393.4L199.2 395.5 194.7 397.4 191.4 394.4Z" stroke="#fbcd2d"/>
<path d="M176.9 382.4L180.3 386.7 175.8 385.3 172.5 380.3Z" stroke="#f6f213"/>
<path d="M207 394.3L210.4 394.7 205.9 398.2 202.5 397.1Z" stroke="#fbcd2d"/>
<path d="M236 382.9L239.3 382 234.8 388.7 231.5 389.2Z" stroke="#f4eb18"/>
<path d="M184.8 387.9L188.1 391.2 183.6 390.9 180.3 386.7Z" stroke="#f5dd21"/>
<path d="M218.2 390.9L221.5 390.6 217 395.4 213.7 395.1Z" stroke="#f7d825"/>
<path d="M232.6 383.8L236 382.9 231.5 389.2 228.2 389.8Z" stroke="#f4eb18"/>
<path d="M203.7 393.5L207 394.3 202.5 397.1 199.2 395.5Z" stroke="#f9d229"/>
<path d="M192.6 391.2L195.9 393.4 191.4 394.4 188.1 391.2Z" stroke="#f7d825"/>
<path d="M214.9 391.1L218.2 390.9 213.7 395.1 210.4 394.7Z" stroke="#f7d825"/>
<path d="M229.3 384.7L232.6 383.8 228.2 389.8 224.8 390.2Z" stroke="#f4eb18"/>
<path d="M181.4 384.5L184.8 387.9 180.3 386.7 176.9 382.4Z" stroke="#f6f213"/>
<path d="M200.4 392.4L203.7 393.5 199.2 395.5 195.9 393.4Z" stroke="#f7d825"/>
<path d="M189.3 388.9L192.6 391.2 188.1 391.2 184.8 387.9Z" stroke="#f4e41c"/>
<path d="M211.5 391.4L214.9 391.1 210.4 394.7 207 394.3Z" stroke="#f5dd21"/>
<path d="M226 385.6L229.3 384.7 224.8 390.2 221.5 390.6Z" stroke="#f4eb18"/>
<path d="M197.1 391.2L200.4 392.4 195.9 393.4 192.6 391.2Z" stroke="#f4e41c"/>
<path d="M222.7 386.5L226 385.6 221.5 390.6 218.2 390.9Z" stroke="#f6f213"/>
<path d="M208.2 391.4L211.5 391.4 207 394.3 203.7 393.5Z" stroke="#f5dd21"/>
<path d="M185.9 386.6L189.3 388.9 184.8 387.9 181.4 384.5Z" stroke="#f6f213"/>
<path d="M219.3 387.4L222.7 386.5 218.2 390.9 214.9 391.1Z" stroke="#f6f213"/>
<path d="M193.7 390L197.1 391.2 192.6 391.2 189.3 388.9Z" stroke="#f4eb18"/>
<path d="M204.9 391.3L208.2 391.4 203.7 393.5 200.4 392.4Z" stroke="#f4e41c"/>
<path d="M216 388.3L219.3 387.4 214.9 391.1 211.5 391.4Z" stroke="#f6f213"/>
<path d="M201.6 391.1L204.9 391.3 200.4 392.4 197.1 391.2Z" stroke="#f4eb18"/>
<path d="M190.4 388.7L193.7 390 189.3 388.9 185.9 386.6Z" stroke="#f8fa0d"/>
<path d="M212.7 389.2L216 388.3 211.5 391.4 208.2 391.4Z" stroke="#f6f213"/>
<path d="M198.2 391L201.6 391.1 197.1 391.2 193.7 390Z" stroke="#f6f213"/>
<path d="M209.4 390.1L212.7 389.2 208.2 391.4 204.9 391.3Z" stroke="#f6f213"/>
<path d="M194.9 390.7L198.2 391 193.7 390 190.4 388.7Z" stroke="#f8fa0d"/>
<path d="M206 391L209.4 390.1 204.9 391.3 201.6 391.1Z" stroke="#f8fa0d"/>
<path d="M202.7 391.9L206 391 201.6 391.1 198.2 391Z" stroke="#f8fa0d"/>
<path d="M199.4 392.8L202.7 391.9 198.2 391 194.9 390.7Z" stroke="#f8fa0d"/>
</g>
<path d="M182.6 239.4L350.1 193.2M182.6 239.4L53.5 179.3M53.5 179.3L53.5 49.9M182.6 239.4L186.2 241.1M216.1 230.2L219.7 231.8M249.6 220.9L253.2 222.6M283.1 211.7L286.7 213.4M316.6 202.4L320.2 204.1M350.1 193.2L353.7 194.9M182.6 239.4L178.7 240.5M152.3 225.3L148.4 226.4M122 211.2L118.1 212.3M91.7 197.1L87.8 198.2M61.4 183L57.5 184.1M53.5 179.3L49.9 177.6M53.5 147L49.9 145.3M53.5 114.6L49.9 112.9M53.5 82.3L49.9 80.6M53.5 49.9L49.9 48.2" stroke="#555" stroke-width="0.8" fill="none"/>
<path d="M182.6 526.1L350.6 480.4M182.6 526.1L53.8 466.4M53.8 466.4L53.8 337.7M182.6 526.1L186.2 527.8M249.8 507.8L253.4 509.5M317 489.5L320.6 491.2M182.6 526.1L178.7 527.1M122.1 498.1L118.3 499.1M61.7 470.1L57.8 471.1M53.8 466.4L50.2 464.7M53.8 434.2L50.2 432.6M53.8 402.1L50.2 400.4M53.8 369.9L50.2 368.2M53.8 337.7L50.2 336" stroke="#555" stroke-width="0.8" fill="none"/><g class="t" text-anchor="end">
<text x="46.4" y="51.5">400</text><text x="46.4" y="83.8">200</text><text x="46.4" y="116.2">0</text><text x="46.4" y="148.5">−200</text><text x="46.4" y="180.9">−400</text>
<text x="53.8" y="196">40</text><text x="84.2" y="210.1">30</text><text x="114.6" y="224.2">20</text><text x="145" y="238.3">10</text><text x="175.4" y="252.4">0</text>
</g>
<g class="t">
<text x="186.3" y="253.6">−20</text><text x="219.9" y="244.4">−15</text><text x="253.4" y="235.1">−10</text><text x="286.6" y="225.9">−5</text><text x="324.5" y="216.6">0</text><text x="358" y="207.4">5</text>
</g>
<g class="t" style="font-size:12px" text-anchor="end">
<text x="45" y="339.5">0</text><text x="45" y="371.7">−50</text><text x="45" y="403.9">−100</text><text x="45" y="436">−150</text><text x="45" y="468.2">−200</text>
<text x="52" y="481">40</text><text x="113" y="513.5">20</text><text x="174" y="541.5">0</text>
</g>
<g class="t" style="font-size:12px">
<text x="188.5" y="543.3">−20</text><text x="254.2" y="524.2">−10</text><text x="324.7" y="506">0</text>
</g>
<g class="s" style="font-size:10px">
<text transform="translate(21.8,115.1) rotate(-90)" text-anchor="middle" style="font-size:11px">rolling friction <tspan font-style="italic">x</tspan>’(MPa)</text>
<text transform="translate(14.9,402.6) rotate(-90)" text-anchor="middle" style="font-size:11px">rolling friction <tspan font-style="italic">y</tspan>’(MPa)</text>
<text transform="translate(105.7,248) rotate(12)" text-anchor="middle" style="font-size:10.8px"><tspan font-style="italic">y</tspan> (mm)</text>
<text transform="translate(97.5,539) rotate(12)" text-anchor="middle" style="font-size:10.8px"><tspan font-style="italic">y</tspan> (mm)</text>
<text transform="translate(272.3,250) rotate(-14.5)" text-anchor="middle" style="font-size:10.8px">x (mm)</text>
<text transform="translate(281.3,541.5) rotate(-14.5)" text-anchor="middle" style="font-size:10.8px">x (mm)</text>
</g>
<g class="s" style="font-size:13.3px;stroke:#222;stroke-width:0.3px">
<text x="12.6" y="22.8">(a)</text><text x="16.9" y="305.1">(b)</text>
</g>

</svg></body></html>
